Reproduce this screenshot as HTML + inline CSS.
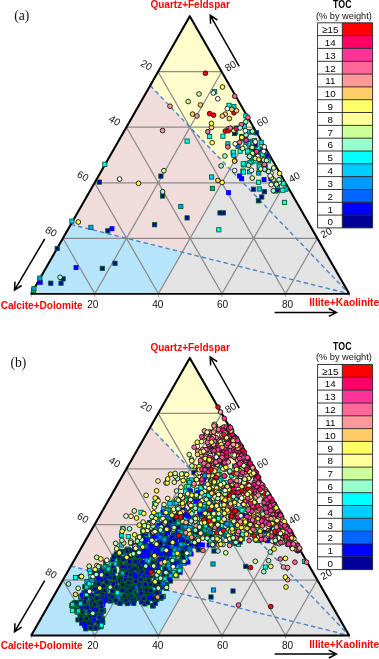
<!DOCTYPE html>
<html><head><meta charset="utf-8"><title>Ternary TOC</title>
<style>
html,body{margin:0;padding:0;background:#fff}
svg{display:block}
text{font-family:"Liberation Sans",sans-serif}
.t{font-size:10.1px;fill:#111;text-anchor:middle}
.r{font-size:10.4px;font-weight:bold;fill:#f00;text-anchor:middle}
.lt{font-size:10.4px;font-weight:bold;fill:#000;text-anchor:middle}
.ls{font-size:9.4px;fill:#111;text-anchor:middle}
.l{font-size:9.8px;fill:#000;text-anchor:middle}
.p{font-family:"Liberation Serif",serif;font-size:13.6px;fill:#111}
.c{stroke:#151515;stroke-width:.9}
.s{stroke:#00602a;stroke-width:.9}
</style></head><body>
<svg width="379" height="659" viewBox="0 0 379 659">
<rect width="379" height="659" fill="#fff"/>
<text class="p" x="14.2" y="20.3">(a)</text>
<g>
<polygon fill="#FFFDCC" points="189.8,16.2 150.2,85.6 229.8,168.9 253.6,127.2"/>
<polygon fill="#F0DCDA" points="150.2,85.6 229.8,168.9 182.2,252.2 70.8,224.4"/>
<polygon fill="#B6E4FA" points="70.8,224.4 182.2,252.2 158.4,293.8 31.2,293.8"/>
<polygon fill="#E3E3E3" points="253.6,127.2 349.2,293.8 158.4,293.8"/>
<path d="M62.9 238.3L317.3 238.3M285.6 293.8L158.1 71.7M94.8 293.8L221.7 71.7M94.6 182.8L285.4 182.8M222 293.8L126.4 127.2M158.4 293.8L253.6 127.2M126.4 127.2L253.6 127.2M158.4 293.8L94.6 182.8M222 293.8L285.4 182.8M158.1 71.7L221.7 71.7M94.8 293.8L62.9 238.3M285.6 293.8L317.3 238.3" stroke="#8a8a8a" stroke-width="1.25" fill="none"/>
<path d="M150.2 85.6L349.2 293.8M70.8 224.4L349.2 293.8" stroke="#4a86c8" stroke-width="1.4" stroke-dasharray="4.5 3" fill="none"/>
<path d="M31.2 293.8v3M94.8 293.8v3M158.4 293.8v3M222 293.8v3M285.6 293.8v3M349.2 293.8v3" stroke="#888" stroke-width="0.8" fill="none"/>
<path d="M30.7 293.8L349.7 293.8" stroke="#000" stroke-width="1.8" fill="none"/>
<path d="M31.2 293.8L189.8 16.2L349.2 293.8" stroke="#000" stroke-width="2.1" stroke-linejoin="round" fill="none"/>
<text class="t" x="146.3" y="68.4" transform="rotate(30 146.3 65.1)">20</text>
<text class="t" x="114.6" y="123.9" transform="rotate(30 114.6 120.6)">40</text>
<text class="t" x="82.8" y="179.5" transform="rotate(30 82.8 176.2)">60</text>
<text class="t" x="51.1" y="235" transform="rotate(30 51.1 231.7)">80</text>
<text class="t" x="230.7" y="69.5" transform="rotate(-30 230.7 66.2)">80</text>
<text class="t" x="262.6" y="125" transform="rotate(-30 262.6 121.7)">60</text>
<text class="t" x="294.4" y="180.6" transform="rotate(-30 294.4 177.3)">40</text>
<text class="t" x="326.3" y="236.1" transform="rotate(-30 326.3 232.8)">20</text>
<text class="t" x="92.8" y="307.5">20</text>
<text class="t" x="157.8" y="307.5">40</text>
<text class="t" x="222.6" y="307.5">60</text>
<text class="t" x="287.6" y="307.5">80</text>
<text class="r" x="190.1" y="7.9" textLength="79.4" lengthAdjust="spacingAndGlyphs">Quartz+Feldspar</text>
<text class="r" x="41.7" y="308.8" textLength="82" lengthAdjust="spacingAndGlyphs">Calcite+Dolomite</text>
<text class="r" x="344.2" y="306.2" textLength="70" lengthAdjust="spacingAndGlyphs">Illite+Kaolinite</text>
<path d="M44.7 239L14.5 290.1M15 281.6L14.5 290.1L21.7 285.5M239.2 66.4L210.2 15.3M217.3 20L210.2 15.3L210.6 23.8M274.6 312.4L336.4 312.4M328.8 316.3L336.4 312.4L328.8 308.5" stroke="#000" stroke-width="1.5" fill="none" stroke-linejoin="miter"/>
<text class="lt" x="342.3" y="8.1" textLength="18.4" lengthAdjust="spacingAndGlyphs">TOC</text>
<text class="ls" x="343.9" y="18.8" textLength="56" lengthAdjust="spacingAndGlyphs">(% by weight)</text>
<rect x="317.6" y="22.8" width="24.7" height="205.1" fill="#fff"/>
<rect x="342.3" y="22.8" width="30.3" height="12.8" fill="#FF0000"/>
<text class="l" x="330.3" y="33">≥15</text>
<rect x="342.3" y="35.6" width="30.3" height="12.8" fill="#FF0066"/>
<text class="l" x="330.3" y="45.8">14</text>
<rect x="342.3" y="48.4" width="30.3" height="12.8" fill="#FF3399"/>
<text class="l" x="330.3" y="58.6">13</text>
<rect x="342.3" y="61.3" width="30.3" height="12.8" fill="#FF6699"/>
<text class="l" x="330.3" y="71.5">12</text>
<rect x="342.3" y="74.1" width="30.3" height="12.8" fill="#FF9999"/>
<text class="l" x="330.3" y="84.3">11</text>
<rect x="342.3" y="86.9" width="30.3" height="12.8" fill="#FFCC66"/>
<text class="l" x="330.3" y="97.1">10</text>
<rect x="342.3" y="99.7" width="30.3" height="12.8" fill="#FFFF66"/>
<text class="l" x="330.3" y="109.9">9</text>
<rect x="342.3" y="112.5" width="30.3" height="12.8" fill="#FFFF99"/>
<text class="l" x="330.3" y="122.8">8</text>
<rect x="342.3" y="125.4" width="30.3" height="12.8" fill="#CCFF99"/>
<text class="l" x="330.3" y="135.6">7</text>
<rect x="342.3" y="138.2" width="30.3" height="12.8" fill="#99FFCC"/>
<text class="l" x="330.3" y="148.4">6</text>
<rect x="342.3" y="151" width="30.3" height="12.8" fill="#00FFFF"/>
<text class="l" x="330.3" y="161.2">5</text>
<rect x="342.3" y="163.8" width="30.3" height="12.8" fill="#00CCFF"/>
<text class="l" x="330.3" y="174">4</text>
<rect x="342.3" y="176.6" width="30.3" height="12.8" fill="#0099FF"/>
<text class="l" x="330.3" y="186.9">3</text>
<rect x="342.3" y="189.5" width="30.3" height="12.8" fill="#0066FF"/>
<text class="l" x="330.3" y="199.7">2</text>
<rect x="342.3" y="202.3" width="30.3" height="12.8" fill="#0000FF"/>
<text class="l" x="330.3" y="212.5">1</text>
<rect x="342.3" y="215.1" width="30.3" height="12.8" fill="#000099"/>
<text class="l" x="330.3" y="225.3">0</text>
<path d="M317.6 22.8H372.6M317.6 35.6H372.6M317.6 48.4H372.6M317.6 61.3H372.6M317.6 74.1H372.6M317.6 86.9H372.6M317.6 99.7H372.6M317.6 112.5H372.6M317.6 125.4H372.6M317.6 138.2H372.6M317.6 151H372.6M317.6 163.8H372.6M317.6 176.6H372.6M317.6 189.5H372.6M317.6 202.3H372.6M317.6 215.1H372.6M317.6 227.9H372.6M317.6 22.8V227.9M342.3 22.8V227.9M372.6 22.8V227.9" stroke="#222" stroke-width="0.9" fill="none"/>
<rect x="253" y="158.4" width="4.2" height="4.2" fill="#00FFFF" class="s"/>
<rect x="243.9" y="161.4" width="4.2" height="4.2" fill="#00FFFF" class="s"/>
<rect x="261.2" y="159.6" width="4.2" height="4.2" fill="#000099" class="s"/>
<rect x="282.4" y="200.3" width="4.2" height="4.2" fill="#00FFFF" class="s"/>
<rect x="257.7" y="147.5" width="4.2" height="4.2" fill="#000099" class="s"/>
<rect x="257.1" y="162.1" width="4.2" height="4.2" fill="#00CCFF" class="s"/>
<rect x="263.9" y="153" width="4.2" height="4.2" fill="#00FFFF" class="s"/>
<rect x="160.5" y="193.9" width="4.2" height="4.2" fill="#000099" class="s"/>
<rect x="231.1" y="151" width="4.2" height="4.2" fill="#00FFFF" class="s"/>
<rect x="225.8" y="141.7" width="4.2" height="4.2" fill="#00CCFF" class="s"/>
<rect x="249.6" y="159.6" width="4.2" height="4.2" fill="#00FFFF" class="s"/>
<rect x="241.6" y="162.8" width="4.2" height="4.2" fill="#00FFFF" class="s"/>
<rect x="250.3" y="150.9" width="4.2" height="4.2" fill="#00FFFF" class="s"/>
<rect x="112.9" y="261.2" width="4.2" height="4.2" fill="#000099" class="s"/>
<rect x="37.8" y="279.9" width="4.9" height="4.9" fill="#0000FF"/>
<rect x="283.8" y="187" width="4.2" height="4.2" fill="#00CCFF" class="s"/>
<rect x="48.7" y="281.1" width="4.2" height="4.2" fill="#000099" class="s"/>
<rect x="102.7" y="162.2" width="4.2" height="4.2" fill="#00FFFF" class="s"/>
<rect x="262.3" y="189.6" width="4.2" height="4.2" fill="#000099" class="s"/>
<rect x="262.2" y="153.9" width="4.2" height="4.2" fill="#00FFFF" class="s"/>
<rect x="240.8" y="169" width="4.2" height="4.2" fill="#00CCFF" class="s"/>
<rect x="231.3" y="150.1" width="4.2" height="4.2" fill="#00FFFF" class="s"/>
<rect x="237.1" y="173.5" width="4.9" height="4.9" fill="#0000FF"/>
<rect x="185" y="215.8" width="4.2" height="4.2" fill="#000099" class="s"/>
<rect x="233.5" y="130.1" width="4.2" height="4.2" fill="#00CCFF" class="s"/>
<rect x="250.8" y="147.5" width="4.2" height="4.2" fill="#000099" class="s"/>
<rect x="256.6" y="170.9" width="4.2" height="4.2" fill="#0099FF" class="s"/>
<rect x="55.1" y="246.4" width="4.2" height="4.2" fill="#000099" class="s"/>
<rect x="252.6" y="154.5" width="4.2" height="4.2" fill="#0066FF" class="s"/>
<rect x="257.2" y="186.9" width="4.2" height="4.2" fill="#00CCFF" class="s"/>
<rect x="263.1" y="164.7" width="4.2" height="4.2" fill="#0066FF" class="s"/>
<rect x="88.8" y="225.3" width="4.2" height="4.2" fill="#0099FF" class="s"/>
<rect x="247.5" y="169.7" width="4.2" height="4.2" fill="#00CCFF" class="s"/>
<rect x="58.9" y="281.1" width="4.2" height="4.2" fill="#000099" class="s"/>
<rect x="260.7" y="160.3" width="4.2" height="4.2" fill="#00FFFF" class="s"/>
<rect x="221.3" y="210.8" width="4.2" height="4.2" fill="#000099" class="s"/>
<rect x="226.1" y="190.2" width="4.9" height="4.9" fill="#0000FF"/>
<rect x="268.7" y="176.3" width="4.2" height="4.2" fill="#00FFFF" class="s"/>
<rect x="247" y="139.2" width="4.2" height="4.2" fill="#0066FF" class="s"/>
<rect x="256.4" y="147.6" width="4.9" height="4.9" fill="#0000FF"/>
<rect x="256.4" y="180.1" width="4.2" height="4.2" fill="#00FFFF" class="s"/>
<rect x="226.9" y="103.3" width="4.2" height="4.2" fill="#00FFFF" class="s"/>
<rect x="252.4" y="138.5" width="4.2" height="4.2" fill="#00FFFF" class="s"/>
<rect x="31.4" y="288.4" width="4.2" height="4.2" fill="#00CCFF" class="s"/>
<rect x="231.7" y="153.3" width="4.2" height="4.2" fill="#00CCFF" class="s"/>
<rect x="251.1" y="150.9" width="4.2" height="4.2" fill="#000099" class="s"/>
<rect x="253.5" y="158.8" width="4.2" height="4.2" fill="#00FFFF" class="s"/>
<rect x="241.4" y="169.9" width="4.2" height="4.2" fill="#00FFFF" class="s"/>
<rect x="270.1" y="181.2" width="4.2" height="4.2" fill="#00FFFF" class="s"/>
<rect x="275.4" y="185.5" width="4.2" height="4.2" fill="#00FFFF" class="s"/>
<rect x="105.7" y="228.7" width="4.2" height="4.2" fill="#000099" class="s"/>
<rect x="266.4" y="158.7" width="4.2" height="4.2" fill="#00FFFF" class="s"/>
<rect x="243.2" y="136.8" width="4.2" height="4.2" fill="#000099" class="s"/>
<rect x="234.2" y="126" width="4.2" height="4.2" fill="#0066FF" class="s"/>
<rect x="97.2" y="180" width="4.2" height="4.2" fill="#000099" class="s"/>
<rect x="255.9" y="145.9" width="4.2" height="4.2" fill="#00FFFF" class="s"/>
<rect x="242.3" y="124.4" width="4.2" height="4.2" fill="#00CCFF" class="s"/>
<rect x="243.7" y="113.9" width="4.2" height="4.2" fill="#00FFFF" class="s"/>
<rect x="247.8" y="144.6" width="4.2" height="4.2" fill="#00CCFF" class="s"/>
<rect x="232.4" y="131.4" width="4.2" height="4.2" fill="#000099" class="s"/>
<rect x="239.7" y="134.3" width="4.2" height="4.2" fill="#000099" class="s"/>
<rect x="231.8" y="104.6" width="4.2" height="4.2" fill="#00CCFF" class="s"/>
<rect x="238" y="149.1" width="4.2" height="4.2" fill="#00FFFF" class="s"/>
<rect x="31.8" y="286.6" width="4.2" height="4.2" fill="#0099FF" class="s"/>
<rect x="254.5" y="130.7" width="4.2" height="4.2" fill="#000099" class="s"/>
<rect x="268.8" y="176.1" width="4.9" height="4.9" fill="#0000FF"/>
<rect x="209.5" y="174.9" width="4.2" height="4.2" fill="#00CCFF" class="s"/>
<rect x="69.8" y="219" width="4.2" height="4.2" fill="#00CCFF" class="s"/>
<rect x="259" y="156.2" width="4.2" height="4.2" fill="#00FFFF" class="s"/>
<rect x="217.9" y="210.8" width="4.2" height="4.2" fill="#000099" class="s"/>
<rect x="257.3" y="167.3" width="4.2" height="4.2" fill="#00FFFF" class="s"/>
<rect x="61" y="276.8" width="4.2" height="4.2" fill="#000099" class="s"/>
<rect x="239.2" y="176.2" width="4.9" height="4.9" fill="#0000FF"/>
<rect x="267.5" y="169.2" width="4.2" height="4.2" fill="#00FFFF" class="s"/>
<rect x="261.6" y="177.1" width="4.9" height="4.9" fill="#0000FF"/>
<rect x="210.3" y="186.3" width="4.2" height="4.2" fill="#0099FF" class="s"/>
<rect x="247.1" y="149" width="4.2" height="4.2" fill="#00FFFF" class="s"/>
<rect x="152.5" y="222.6" width="4.2" height="4.2" fill="#000099" class="s"/>
<rect x="281.1" y="181.4" width="4.2" height="4.2" fill="#00FFFF" class="s"/>
<rect x="100.2" y="266.3" width="4.2" height="4.2" fill="#000099" class="s"/>
<rect x="259.1" y="158.6" width="4.2" height="4.2" fill="#000099" class="s"/>
<rect x="247.9" y="160.6" width="4.2" height="4.2" fill="#00CCFF" class="s"/>
<rect x="37.7" y="276" width="4.2" height="4.2" fill="#0099FF" class="s"/>
<rect x="239.7" y="136.7" width="4.2" height="4.2" fill="#0099FF" class="s"/>
<rect x="273.3" y="188.9" width="4.2" height="4.2" fill="#00FFFF" class="s"/>
<rect x="262.4" y="158.5" width="4.2" height="4.2" fill="#00FFFF" class="s"/>
<rect x="274.2" y="181.8" width="4.2" height="4.2" fill="#00FFFF" class="s"/>
<rect x="257.2" y="164.7" width="4.2" height="4.2" fill="#00FFFF" class="s"/>
<rect x="178.7" y="204.4" width="4.2" height="4.2" fill="#0099FF" class="s"/>
<rect x="275.4" y="188.1" width="4.2" height="4.2" fill="#000099" class="s"/>
<rect x="73.6" y="265.1" width="4.9" height="4.9" fill="#0000FF"/>
<rect x="265.4" y="153.3" width="4.2" height="4.2" fill="#000099" class="s"/>
<rect x="256.4" y="198.7" width="4.2" height="4.2" fill="#000099" class="s"/>
<rect x="245.4" y="150.1" width="4.2" height="4.2" fill="#00CCFF" class="s"/>
<rect x="109.5" y="226.2" width="4.9" height="4.9" fill="#0000FF"/>
<rect x="253.3" y="142.9" width="4.2" height="4.2" fill="#000099" class="s"/>
<rect x="216.7" y="227.7" width="4.2" height="4.2" fill="#00FFFF" class="s"/>
<rect x="246.4" y="141.7" width="4.2" height="4.2" fill="#00FFFF" class="s"/>
<rect x="261.2" y="151.2" width="4.2" height="4.2" fill="#00FFFF" class="s"/>
<rect x="259.6" y="194.9" width="4.2" height="4.2" fill="#000099" class="s"/>
<rect x="241.2" y="161.7" width="4.2" height="4.2" fill="#00FFFF" class="s"/>
<rect x="255.9" y="153.3" width="4.2" height="4.2" fill="#00FFFF" class="s"/>
<rect x="259.1" y="140.2" width="4.2" height="4.2" fill="#00CCFF" class="s"/>
<rect x="260.1" y="152.1" width="4.2" height="4.2" fill="#00FFFF" class="s"/>
<rect x="220.8" y="134.1" width="4.2" height="4.2" fill="#00FFFF" class="s"/>
<rect x="185" y="139" width="4.2" height="4.2" fill="#00FFFF" class="s"/>
<rect x="207.4" y="134.3" width="4.2" height="4.2" fill="#00FFFF" class="s"/>
<rect x="245.5" y="149" width="4.2" height="4.2" fill="#00FFFF" class="s"/>
<rect x="235.9" y="144.2" width="4.2" height="4.2" fill="#0066FF" class="s"/>
<rect x="250.7" y="130.1" width="4.2" height="4.2" fill="#00FFFF" class="s"/>
<rect x="212.5" y="89.6" width="4.2" height="4.2" fill="#00CCFF" class="s"/>
<rect x="256.3" y="154" width="4.2" height="4.2" fill="#00FFFF" class="s"/>
<rect x="158.8" y="174" width="4.2" height="4.2" fill="#000099" class="s"/>
<rect x="249.3" y="153.9" width="4.2" height="4.2" fill="#00FFFF" class="s"/>
<rect x="251.3" y="187.1" width="4.2" height="4.2" fill="#000099" class="s"/>
<rect x="280.7" y="188.1" width="4.2" height="4.2" fill="#00FFFF" class="s"/>
<rect x="243.9" y="140.1" width="4.2" height="4.2" fill="#0099FF" class="s"/>
<rect x="245.3" y="129.6" width="4.2" height="4.2" fill="#00CCFF" class="s"/>
<circle cx="222.5" cy="87" r="2.35" fill="#FFFF3C" class="c"/>
<circle cx="225.3" cy="131.1" r="2.35" fill="#FF0000" class="c"/>
<circle cx="245.8" cy="121.8" r="2.35" fill="#99FFCC" class="c"/>
<circle cx="263.8" cy="160" r="2.35" fill="#CCFF99" class="c"/>
<circle cx="273.3" cy="179.7" r="2.35" fill="#CCFF99" class="c"/>
<circle cx="263.7" cy="151.3" r="2.35" fill="#fff" class="c"/>
<circle cx="242.6" cy="148.4" r="2.35" fill="#CCFF99" class="c"/>
<circle cx="249.4" cy="156.5" r="2.35" fill="#99FFCC" class="c"/>
<circle cx="271.1" cy="173.2" r="2.35" fill="#fff" class="c"/>
<circle cx="257.8" cy="156.3" r="2.35" fill="#fff" class="c"/>
<circle cx="192.5" cy="114.1" r="2.35" fill="#FFCC66" class="c"/>
<circle cx="78.3" cy="222" r="2.35" fill="#FFFF3C" class="c"/>
<circle cx="235.2" cy="143.8" r="2.35" fill="#fff" class="c"/>
<circle cx="234.8" cy="160.7" r="2.35" fill="#FFCC66" class="c"/>
<circle cx="255.3" cy="141.9" r="2.35" fill="#fff" class="c"/>
<circle cx="200.4" cy="104.9" r="2.35" fill="#FFCC66" class="c"/>
<circle cx="234.6" cy="161.1" r="2.35" fill="#FFCC66" class="c"/>
<circle cx="251.5" cy="170.3" r="2.35" fill="#fff" class="c"/>
<circle cx="239.7" cy="142.3" r="2.35" fill="#FF6699" class="c"/>
<circle cx="271.2" cy="184.7" r="2.35" fill="#fff" class="c"/>
<circle cx="255.3" cy="158.5" r="2.35" fill="#CCFF99" class="c"/>
<circle cx="266.6" cy="160.5" r="2.35" fill="#99FFCC" class="c"/>
<circle cx="252.4" cy="131.3" r="2.35" fill="#99FFCC" class="c"/>
<circle cx="217.8" cy="98.8" r="2.35" fill="#fff" class="c"/>
<circle cx="241.3" cy="124.7" r="2.35" fill="#FF6699" class="c"/>
<circle cx="188.2" cy="101.5" r="2.35" fill="#CCFF99" class="c"/>
<circle cx="199" cy="94" r="2.35" fill="#CCFF99" class="c"/>
<circle cx="251.7" cy="147.6" r="2.35" fill="#CCFF99" class="c"/>
<circle cx="225.2" cy="114.1" r="2.35" fill="#FFCC66" class="c"/>
<circle cx="209.6" cy="113.6" r="2.35" fill="#FF0000" class="c"/>
<circle cx="119.6" cy="179.1" r="2.35" fill="#fff" class="c"/>
<circle cx="222.3" cy="116" r="2.35" fill="#FFCC66" class="c"/>
<circle cx="247.9" cy="117.3" r="2.35" fill="#FF6699" class="c"/>
<circle cx="162.6" cy="191.8" r="2.35" fill="#99FFCC" class="c"/>
<circle cx="248.6" cy="165.3" r="2.35" fill="#99FFCC" class="c"/>
<circle cx="246" cy="134.9" r="2.35" fill="#99FFCC" class="c"/>
<circle cx="228.5" cy="128.8" r="2.35" fill="#99FFCC" class="c"/>
<circle cx="241.8" cy="137.4" r="2.35" fill="#FFFF3C" class="c"/>
<circle cx="258.8" cy="159.4" r="2.35" fill="#FFCC66" class="c"/>
<circle cx="234.6" cy="170.6" r="2.35" fill="#fff" class="c"/>
<circle cx="233.8" cy="130.5" r="2.35" fill="#FFFF3C" class="c"/>
<circle cx="273.7" cy="168" r="2.35" fill="#CCFF99" class="c"/>
<circle cx="252.4" cy="153.4" r="2.35" fill="#CCFF99" class="c"/>
<circle cx="279.4" cy="182.1" r="2.35" fill="#fff" class="c"/>
<circle cx="163.9" cy="170.7" r="2.35" fill="#CCFF99" class="c"/>
<circle cx="249.6" cy="156.4" r="2.35" fill="#99FFCC" class="c"/>
<circle cx="229.4" cy="118.6" r="2.35" fill="#FFCC66" class="c"/>
<circle cx="234.7" cy="96.2" r="2.35" fill="#FF6699" class="c"/>
<circle cx="213.6" cy="115.2" r="2.35" fill="#FF0000" class="c"/>
<circle cx="212.2" cy="142.7" r="2.35" fill="#FFFF3C" class="c"/>
<circle cx="224.9" cy="156" r="2.35" fill="#99FFCC" class="c"/>
<circle cx="222.1" cy="182.5" r="2.35" fill="#FFFF3C" class="c"/>
<circle cx="268.4" cy="171.5" r="2.35" fill="#99FFCC" class="c"/>
<circle cx="252.2" cy="147.4" r="2.35" fill="#CCFF99" class="c"/>
<circle cx="236.3" cy="128.6" r="2.35" fill="#FF0066" class="c"/>
<circle cx="221.1" cy="165.9" r="2.35" fill="#99FFCC" class="c"/>
<circle cx="211.5" cy="127.5" r="2.35" fill="#FFCC66" class="c"/>
<circle cx="138.5" cy="183.3" r="2.35" fill="#FFFF3C" class="c"/>
<circle cx="233.9" cy="112.8" r="2.35" fill="#FF0000" class="c"/>
<circle cx="227.3" cy="108.6" r="2.35" fill="#fff" class="c"/>
<circle cx="264.8" cy="169.6" r="2.35" fill="#fff" class="c"/>
<circle cx="245.4" cy="130.7" r="2.35" fill="#fff" class="c"/>
<circle cx="231.8" cy="109.4" r="2.35" fill="#FFCC66" class="c"/>
<circle cx="273.3" cy="190.7" r="2.35" fill="#99FFCC" class="c"/>
<circle cx="264.4" cy="146.9" r="2.35" fill="#fff" class="c"/>
<circle cx="279" cy="179.7" r="2.35" fill="#99FFCC" class="c"/>
<circle cx="240.1" cy="127.9" r="2.35" fill="#99FFCC" class="c"/>
<circle cx="162.6" cy="130.6" r="2.35" fill="#FF9999" class="c"/>
<circle cx="236.5" cy="110.7" r="2.35" fill="#FFCC66" class="c"/>
<circle cx="211.5" cy="123.4" r="2.35" fill="#FFFF3C" class="c"/>
<circle cx="256.6" cy="151.5" r="2.35" fill="#FF3399" class="c"/>
<circle cx="197" cy="116" r="2.35" fill="#FF9999" class="c"/>
<circle cx="228.5" cy="130.7" r="2.35" fill="#FF0000" class="c"/>
<circle cx="213.3" cy="93" r="2.35" fill="#fff" class="c"/>
<circle cx="264.5" cy="169.1" r="2.35" fill="#99FFCC" class="c"/>
<circle cx="271.4" cy="177.7" r="2.35" fill="#FFFF3C" class="c"/>
<circle cx="205.4" cy="73.2" r="2.35" fill="#FF0000" class="c"/>
<circle cx="227.9" cy="146.9" r="2.35" fill="#FF6699" class="c"/>
<circle cx="270.1" cy="175.9" r="2.35" fill="#fff" class="c"/>
<circle cx="246" cy="140.2" r="2.35" fill="#FF3399" class="c"/>
<circle cx="60.1" cy="277.3" r="2.35" fill="#99FFCC" class="c"/>
<circle cx="260.6" cy="168.9" r="2.35" fill="#CCFF99" class="c"/>
<circle cx="276.5" cy="184.3" r="2.35" fill="#CCFF99" class="c"/>
<circle cx="217.9" cy="180.4" r="2.35" fill="#FFCC66" class="c"/>
<circle cx="207.8" cy="131.7" r="2.35" fill="#FF6699" class="c"/>
<circle cx="252.2" cy="178" r="2.35" fill="#CCFF99" class="c"/>
<circle cx="230.3" cy="128.1" r="2.35" fill="#FF6699" class="c"/>
<circle cx="264.4" cy="164.5" r="2.35" fill="#FF6699" class="c"/>
<circle cx="170" cy="106.2" r="2.35" fill="#FF9999" class="c"/>
<circle cx="279.6" cy="173.4" r="2.35" fill="#FFFF3C" class="c"/>
</g>
<text class="p" x="10.4" y="366.7">(b)</text>
<g transform="translate(0 341.7)">
<polygon fill="#FFFDCC" points="189.8,16.2 150.2,85.6 229.8,168.9 253.6,127.2"/>
<polygon fill="#F0DCDA" points="150.2,85.6 229.8,168.9 182.2,252.2 70.8,224.4"/>
<polygon fill="#B6E4FA" points="70.8,224.4 182.2,252.2 158.4,293.8 31.2,293.8"/>
<polygon fill="#E3E3E3" points="253.6,127.2 349.2,293.8 158.4,293.8"/>
<path d="M62.9 238.3L317.3 238.3M285.6 293.8L158.1 71.7M94.8 293.8L221.7 71.7M94.6 182.8L285.4 182.8M222 293.8L126.4 127.2M158.4 293.8L253.6 127.2M126.4 127.2L253.6 127.2M158.4 293.8L94.6 182.8M222 293.8L285.4 182.8M158.1 71.7L221.7 71.7M94.8 293.8L62.9 238.3M285.6 293.8L317.3 238.3" stroke="#8a8a8a" stroke-width="1.25" fill="none"/>
<path d="M150.2 85.6L349.2 293.8M70.8 224.4L349.2 293.8" stroke="#4a86c8" stroke-width="1.4" stroke-dasharray="4.5 3" fill="none"/>
<path d="M31.2 293.8v3M94.8 293.8v3M158.4 293.8v3M222 293.8v3M285.6 293.8v3M349.2 293.8v3" stroke="#888" stroke-width="0.8" fill="none"/>
<path d="M30.7 293.8L349.7 293.8" stroke="#000" stroke-width="1.8" fill="none"/>
<path d="M31.2 293.8L189.8 16.2L349.2 293.8" stroke="#000" stroke-width="2.1" stroke-linejoin="round" fill="none"/>
<text class="t" x="146.3" y="68.4" transform="rotate(30 146.3 65.1)">20</text>
<text class="t" x="114.6" y="123.9" transform="rotate(30 114.6 120.6)">40</text>
<text class="t" x="82.8" y="179.5" transform="rotate(30 82.8 176.2)">60</text>
<text class="t" x="51.1" y="235" transform="rotate(30 51.1 231.7)">80</text>
<text class="t" x="230.7" y="69.5" transform="rotate(-30 230.7 66.2)">80</text>
<text class="t" x="262.6" y="125" transform="rotate(-30 262.6 121.7)">60</text>
<text class="t" x="294.4" y="180.6" transform="rotate(-30 294.4 177.3)">40</text>
<text class="t" x="326.3" y="236.1" transform="rotate(-30 326.3 232.8)">20</text>
<text class="t" x="92.8" y="307.5">20</text>
<text class="t" x="157.8" y="307.5">40</text>
<text class="t" x="222.6" y="307.5">60</text>
<text class="t" x="287.6" y="307.5">80</text>
<text class="r" x="190.1" y="8.8" textLength="79.4" lengthAdjust="spacingAndGlyphs">Quartz+Feldspar</text>
<text class="r" x="41.7" y="307.7" textLength="82" lengthAdjust="spacingAndGlyphs">Calcite+Dolomite</text>
<text class="r" x="344.2" y="306.2" textLength="70" lengthAdjust="spacingAndGlyphs">Illite+Kaolinite</text>
<path d="M44.7 239L14.5 290.1M15 281.6L14.5 290.1L21.7 285.5M239.2 66.4L210.2 15.3M217.3 20L210.2 15.3L210.6 23.8M274.6 312.4L336.4 312.4M328.8 316.3L336.4 312.4L328.8 308.5" stroke="#000" stroke-width="1.5" fill="none" stroke-linejoin="miter"/>
<text class="lt" x="342.3" y="8.1" textLength="18.4" lengthAdjust="spacingAndGlyphs">TOC</text>
<text class="ls" x="343.9" y="18.8" textLength="56" lengthAdjust="spacingAndGlyphs">(% by weight)</text>
<rect x="317.6" y="22.8" width="24.7" height="205.1" fill="#fff"/>
<rect x="342.3" y="22.8" width="30.3" height="12.8" fill="#FF0000"/>
<text class="l" x="330.3" y="33">≥15</text>
<rect x="342.3" y="35.6" width="30.3" height="12.8" fill="#FF0066"/>
<text class="l" x="330.3" y="45.8">14</text>
<rect x="342.3" y="48.4" width="30.3" height="12.8" fill="#FF3399"/>
<text class="l" x="330.3" y="58.6">13</text>
<rect x="342.3" y="61.3" width="30.3" height="12.8" fill="#FF6699"/>
<text class="l" x="330.3" y="71.5">12</text>
<rect x="342.3" y="74.1" width="30.3" height="12.8" fill="#FF9999"/>
<text class="l" x="330.3" y="84.3">11</text>
<rect x="342.3" y="86.9" width="30.3" height="12.8" fill="#FFCC66"/>
<text class="l" x="330.3" y="97.1">10</text>
<rect x="342.3" y="99.7" width="30.3" height="12.8" fill="#FFFF66"/>
<text class="l" x="330.3" y="109.9">9</text>
<rect x="342.3" y="112.5" width="30.3" height="12.8" fill="#FFFF99"/>
<text class="l" x="330.3" y="122.8">8</text>
<rect x="342.3" y="125.4" width="30.3" height="12.8" fill="#CCFF99"/>
<text class="l" x="330.3" y="135.6">7</text>
<rect x="342.3" y="138.2" width="30.3" height="12.8" fill="#99FFCC"/>
<text class="l" x="330.3" y="148.4">6</text>
<rect x="342.3" y="151" width="30.3" height="12.8" fill="#00FFFF"/>
<text class="l" x="330.3" y="161.2">5</text>
<rect x="342.3" y="163.8" width="30.3" height="12.8" fill="#00CCFF"/>
<text class="l" x="330.3" y="174">4</text>
<rect x="342.3" y="176.6" width="30.3" height="12.8" fill="#0099FF"/>
<text class="l" x="330.3" y="186.9">3</text>
<rect x="342.3" y="189.5" width="30.3" height="12.8" fill="#0066FF"/>
<text class="l" x="330.3" y="199.7">2</text>
<rect x="342.3" y="202.3" width="30.3" height="12.8" fill="#0000FF"/>
<text class="l" x="330.3" y="212.5">1</text>
<rect x="342.3" y="215.1" width="30.3" height="12.8" fill="#000099"/>
<text class="l" x="330.3" y="225.3">0</text>
<path d="M317.6 22.8H372.6M317.6 35.6H372.6M317.6 48.4H372.6M317.6 61.3H372.6M317.6 74.1H372.6M317.6 86.9H372.6M317.6 99.7H372.6M317.6 112.5H372.6M317.6 125.4H372.6M317.6 138.2H372.6M317.6 151H372.6M317.6 163.8H372.6M317.6 176.6H372.6M317.6 189.5H372.6M317.6 202.3H372.6M317.6 215.1H372.6M317.6 227.9H372.6M317.6 22.8V227.9M342.3 22.8V227.9M372.6 22.8V227.9" stroke="#222" stroke-width="0.9" fill="none"/>
<path d="M230.4 87L301.4 210.5" stroke="#0a6a2e" stroke-width="2.2" fill="none"/>
<rect x="119" y="252.8" width="4.2" height="4.2" fill="#000099" class="s"/>
<rect x="217.9" y="164.7" width="4.2" height="4.2" fill="#00CCFF" class="s"/>
<rect x="124.6" y="213.3" width="4.2" height="4.2" fill="#000099" class="s"/>
<rect x="136.8" y="243" width="4.9" height="4.9" fill="#0000FF"/>
<rect x="129" y="255.4" width="4.2" height="4.2" fill="#000099" class="s"/>
<rect x="118.4" y="220.4" width="4.2" height="4.2" fill="#000099" class="s"/>
<rect x="150.9" y="191.7" width="4.2" height="4.2" fill="#0066FF" class="s"/>
<rect x="155.2" y="205.1" width="4.9" height="4.9" fill="#0000FF"/>
<rect x="143.8" y="190.5" width="4.2" height="4.2" fill="#000099" class="s"/>
<rect x="212.3" y="190.9" width="4.2" height="4.2" fill="#00CCFF" class="s"/>
<rect x="215.1" y="187.1" width="4.2" height="4.2" fill="#00FFFF" class="s"/>
<rect x="127" y="245.7" width="4.2" height="4.2" fill="#000099" class="s"/>
<rect x="136.5" y="254.6" width="4.2" height="4.2" fill="#000099" class="s"/>
<rect x="240.3" y="195" width="4.2" height="4.2" fill="#0099FF" class="s"/>
<rect x="131.3" y="232.6" width="4.2" height="4.2" fill="#000099" class="s"/>
<rect x="166.7" y="227.5" width="4.2" height="4.2" fill="#000099" class="s"/>
<rect x="78.5" y="252.6" width="4.2" height="4.2" fill="#0099FF" class="s"/>
<rect x="118.9" y="253.6" width="4.2" height="4.2" fill="#00FFFF" class="s"/>
<rect x="197.8" y="128.3" width="4.9" height="4.9" fill="#0000FF"/>
<rect x="119.8" y="207.9" width="4.2" height="4.2" fill="#000099" class="s"/>
<rect x="135.8" y="216.8" width="4.2" height="4.2" fill="#000099" class="s"/>
<rect x="181.8" y="191.8" width="4.2" height="4.2" fill="#000099" class="s"/>
<rect x="201.6" y="162.6" width="4.2" height="4.2" fill="#00FFFF" class="s"/>
<rect x="146.6" y="233.5" width="4.2" height="4.2" fill="#000099" class="s"/>
<rect x="140.1" y="193.1" width="4.2" height="4.2" fill="#00FFFF" class="s"/>
<rect x="160.8" y="231.6" width="4.2" height="4.2" fill="#000099" class="s"/>
<rect x="143.2" y="200.7" width="4.9" height="4.9" fill="#0000FF"/>
<rect x="195.9" y="180" width="4.2" height="4.2" fill="#000099" class="s"/>
<rect x="181.1" y="171.5" width="4.2" height="4.2" fill="#00FFFF" class="s"/>
<rect x="138.6" y="239.4" width="4.2" height="4.2" fill="#000099" class="s"/>
<rect x="162.7" y="203.7" width="4.9" height="4.9" fill="#0000FF"/>
<rect x="87.5" y="247.6" width="4.9" height="4.9" fill="#0000FF"/>
<rect x="82.7" y="243" width="4.2" height="4.2" fill="#000099" class="s"/>
<rect x="124.8" y="221.7" width="4.2" height="4.2" fill="#000099" class="s"/>
<rect x="153" y="243.9" width="4.2" height="4.2" fill="#000099" class="s"/>
<rect x="158.3" y="238.5" width="4.2" height="4.2" fill="#0099FF" class="s"/>
<rect x="107.2" y="241.1" width="4.2" height="4.2" fill="#000099" class="s"/>
<rect x="159.2" y="212.3" width="4.2" height="4.2" fill="#0099FF" class="s"/>
<rect x="131" y="211.1" width="4.2" height="4.2" fill="#000099" class="s"/>
<rect x="164.6" y="240.5" width="4.2" height="4.2" fill="#000099" class="s"/>
<rect x="199.5" y="142.4" width="4.2" height="4.2" fill="#00CCFF" class="s"/>
<rect x="203" y="131" width="4.2" height="4.2" fill="#0066FF" class="s"/>
<rect x="196.6" y="146.3" width="4.2" height="4.2" fill="#00FFFF" class="s"/>
<rect x="91.3" y="257.4" width="4.2" height="4.2" fill="#0099FF" class="s"/>
<rect x="217.8" y="130.7" width="4.2" height="4.2" fill="#0099FF" class="s"/>
<rect x="149.1" y="247.9" width="4.2" height="4.2" fill="#000099" class="s"/>
<rect x="102.6" y="250.3" width="4.2" height="4.2" fill="#000099" class="s"/>
<rect x="120.7" y="207.4" width="4.9" height="4.9" fill="#0000FF"/>
<rect x="129.4" y="235.5" width="4.2" height="4.2" fill="#000099" class="s"/>
<rect x="140.8" y="248.5" width="4.2" height="4.2" fill="#00CCFF" class="s"/>
<rect x="101.4" y="235.7" width="4.2" height="4.2" fill="#000099" class="s"/>
<rect x="131.5" y="208.4" width="4.2" height="4.2" fill="#00FFFF" class="s"/>
<rect x="202.8" y="133.5" width="4.2" height="4.2" fill="#0066FF" class="s"/>
<rect x="113.3" y="214.5" width="4.9" height="4.9" fill="#0000FF"/>
<rect x="214.9" y="167.4" width="4.2" height="4.2" fill="#0066FF" class="s"/>
<rect x="144.6" y="221.7" width="4.9" height="4.9" fill="#0000FF"/>
<rect x="206" y="190.4" width="4.2" height="4.2" fill="#00CCFF" class="s"/>
<rect x="211.2" y="173" width="4.2" height="4.2" fill="#000099" class="s"/>
<rect x="186.5" y="136.8" width="4.2" height="4.2" fill="#00FFFF" class="s"/>
<rect x="231.3" y="148.5" width="4.2" height="4.2" fill="#00CCFF" class="s"/>
<rect x="109.8" y="224.2" width="4.9" height="4.9" fill="#0000FF"/>
<rect x="184.3" y="187" width="4.2" height="4.2" fill="#00FFFF" class="s"/>
<rect x="216.1" y="178.3" width="4.2" height="4.2" fill="#0099FF" class="s"/>
<rect x="95.9" y="279.4" width="4.2" height="4.2" fill="#000099" class="s"/>
<rect x="189.1" y="189.1" width="4.2" height="4.2" fill="#00FFFF" class="s"/>
<rect x="138.8" y="253.1" width="4.2" height="4.2" fill="#000099" class="s"/>
<rect x="178.2" y="193.7" width="4.2" height="4.2" fill="#000099" class="s"/>
<rect x="173.3" y="205.8" width="4.2" height="4.2" fill="#000099" class="s"/>
<rect x="165" y="194.3" width="4.2" height="4.2" fill="#0066FF" class="s"/>
<rect x="169" y="206" width="4.2" height="4.2" fill="#0099FF" class="s"/>
<rect x="153.4" y="184.8" width="4.2" height="4.2" fill="#0099FF" class="s"/>
<rect x="179.5" y="216.8" width="4.2" height="4.2" fill="#00CCFF" class="s"/>
<rect x="141.1" y="191.9" width="4.2" height="4.2" fill="#000099" class="s"/>
<rect x="94.3" y="232.4" width="4.2" height="4.2" fill="#000099" class="s"/>
<rect x="184.2" y="143.1" width="4.2" height="4.2" fill="#00FFFF" class="s"/>
<rect x="172.7" y="166.7" width="4.9" height="4.9" fill="#0000FF"/>
<rect x="78.6" y="258" width="4.2" height="4.2" fill="#000099" class="s"/>
<rect x="101.8" y="249.3" width="4.9" height="4.9" fill="#0000FF"/>
<rect x="205.2" y="179.7" width="4.2" height="4.2" fill="#00FFFF" class="s"/>
<rect x="199.7" y="137.5" width="4.2" height="4.2" fill="#0099FF" class="s"/>
<rect x="208.8" y="180" width="4.2" height="4.2" fill="#00CCFF" class="s"/>
<rect x="169.5" y="173.7" width="4.2" height="4.2" fill="#00CCFF" class="s"/>
<rect x="137.7" y="222.6" width="4.2" height="4.2" fill="#000099" class="s"/>
<rect x="89.8" y="228.9" width="4.2" height="4.2" fill="#000099" class="s"/>
<rect x="129.4" y="245.5" width="4.2" height="4.2" fill="#000099" class="s"/>
<rect x="125.6" y="226.5" width="4.2" height="4.2" fill="#000099" class="s"/>
<rect x="150.3" y="194.4" width="4.9" height="4.9" fill="#0000FF"/>
<rect x="95.5" y="264.9" width="4.2" height="4.2" fill="#000099" class="s"/>
<rect x="89.8" y="273" width="4.9" height="4.9" fill="#0000FF"/>
<rect x="183.7" y="196.5" width="4.2" height="4.2" fill="#00FFFF" class="s"/>
<rect x="137" y="224.9" width="4.2" height="4.2" fill="#0099FF" class="s"/>
<rect x="198.1" y="175.4" width="4.2" height="4.2" fill="#00CCFF" class="s"/>
<rect x="93.6" y="260.9" width="4.2" height="4.2" fill="#000099" class="s"/>
<rect x="214" y="176.6" width="4.9" height="4.9" fill="#0000FF"/>
<rect x="146.1" y="240.2" width="4.9" height="4.9" fill="#0000FF"/>
<rect x="92.1" y="272.9" width="4.2" height="4.2" fill="#000099" class="s"/>
<rect x="232.5" y="122.3" width="4.2" height="4.2" fill="#00CCFF" class="s"/>
<rect x="103.6" y="242.3" width="4.2" height="4.2" fill="#0099FF" class="s"/>
<rect x="108.9" y="229.8" width="4.2" height="4.2" fill="#000099" class="s"/>
<rect x="105.9" y="222.3" width="4.2" height="4.2" fill="#000099" class="s"/>
<rect x="129" y="219" width="4.2" height="4.2" fill="#000099" class="s"/>
<rect x="216.3" y="169.3" width="4.2" height="4.2" fill="#00FFFF" class="s"/>
<rect x="173" y="158.2" width="4.2" height="4.2" fill="#00FFFF" class="s"/>
<rect x="216.5" y="176.1" width="4.2" height="4.2" fill="#00CCFF" class="s"/>
<rect x="95.1" y="240.4" width="4.9" height="4.9" fill="#0000FF"/>
<rect x="231.2" y="184" width="4.2" height="4.2" fill="#00FFFF" class="s"/>
<rect x="156" y="215.8" width="4.2" height="4.2" fill="#000099" class="s"/>
<rect x="204.5" y="144.3" width="4.9" height="4.9" fill="#0000FF"/>
<rect x="153.9" y="234.4" width="4.2" height="4.2" fill="#000099" class="s"/>
<rect x="171.7" y="181" width="4.2" height="4.2" fill="#0066FF" class="s"/>
<rect x="188.6" y="209.8" width="4.9" height="4.9" fill="#0000FF"/>
<rect x="115.8" y="253.8" width="4.9" height="4.9" fill="#0000FF"/>
<rect x="87.1" y="279.3" width="4.2" height="4.2" fill="#00CCFF" class="s"/>
<rect x="233.5" y="193.9" width="4.2" height="4.2" fill="#000099" class="s"/>
<rect x="182.1" y="219.4" width="4.2" height="4.2" fill="#0099FF" class="s"/>
<rect x="70.4" y="266.8" width="4.2" height="4.2" fill="#00FFFF" class="s"/>
<rect x="144.5" y="211.3" width="4.2" height="4.2" fill="#0066FF" class="s"/>
<rect x="139.3" y="228.7" width="4.2" height="4.2" fill="#0099FF" class="s"/>
<rect x="118.2" y="231.1" width="4.2" height="4.2" fill="#000099" class="s"/>
<rect x="227.4" y="187.8" width="4.2" height="4.2" fill="#00CCFF" class="s"/>
<rect x="80.1" y="267.6" width="4.2" height="4.2" fill="#000099" class="s"/>
<rect x="100.7" y="236.1" width="4.2" height="4.2" fill="#000099" class="s"/>
<rect x="166.3" y="215.3" width="4.2" height="4.2" fill="#0099FF" class="s"/>
<rect x="89.7" y="271.7" width="4.2" height="4.2" fill="#000099" class="s"/>
<rect x="124.1" y="219.2" width="4.2" height="4.2" fill="#000099" class="s"/>
<rect x="112.7" y="212.3" width="4.2" height="4.2" fill="#000099" class="s"/>
<rect x="185.4" y="157.5" width="4.2" height="4.2" fill="#00FFFF" class="s"/>
<rect x="134" y="225" width="4.2" height="4.2" fill="#00CCFF" class="s"/>
<rect x="124.3" y="231.2" width="4.2" height="4.2" fill="#000099" class="s"/>
<rect x="97.9" y="240" width="4.2" height="4.2" fill="#000099" class="s"/>
<rect x="161.9" y="182.3" width="4.2" height="4.2" fill="#000099" class="s"/>
<rect x="203" y="166.5" width="4.2" height="4.2" fill="#000099" class="s"/>
<rect x="123.7" y="249" width="4.2" height="4.2" fill="#000099" class="s"/>
<rect x="144.1" y="229.1" width="4.2" height="4.2" fill="#000099" class="s"/>
<rect x="128.3" y="223.9" width="4.2" height="4.2" fill="#000099" class="s"/>
<rect x="140.6" y="187.2" width="4.2" height="4.2" fill="#00FFFF" class="s"/>
<rect x="151.2" y="262" width="4.2" height="4.2" fill="#0099FF" class="s"/>
<rect x="256.9" y="168.4" width="4.2" height="4.2" fill="#00FFFF" class="s"/>
<rect x="222.4" y="159" width="4.2" height="4.2" fill="#00FFFF" class="s"/>
<rect x="202.3" y="187.1" width="4.2" height="4.2" fill="#00CCFF" class="s"/>
<rect x="100.7" y="258.3" width="4.2" height="4.2" fill="#0066FF" class="s"/>
<rect x="125.1" y="241.1" width="4.2" height="4.2" fill="#000099" class="s"/>
<rect x="157.4" y="208.4" width="4.9" height="4.9" fill="#0000FF"/>
<rect x="174.2" y="207.5" width="4.2" height="4.2" fill="#00CCFF" class="s"/>
<rect x="167.3" y="213.4" width="4.2" height="4.2" fill="#000099" class="s"/>
<rect x="166.7" y="210.4" width="4.9" height="4.9" fill="#0000FF"/>
<rect x="137.2" y="242.2" width="4.9" height="4.9" fill="#0000FF"/>
<rect x="85.1" y="250.1" width="4.2" height="4.2" fill="#00FFFF" class="s"/>
<rect x="159.2" y="241.5" width="4.2" height="4.2" fill="#000099" class="s"/>
<rect x="208.3" y="183.9" width="4.2" height="4.2" fill="#000099" class="s"/>
<rect x="119.1" y="252.9" width="4.2" height="4.2" fill="#000099" class="s"/>
<rect x="127.7" y="211.5" width="4.2" height="4.2" fill="#00CCFF" class="s"/>
<rect x="174.2" y="186.3" width="4.9" height="4.9" fill="#0000FF"/>
<rect x="100.9" y="235.2" width="4.2" height="4.2" fill="#0066FF" class="s"/>
<rect x="106" y="254.1" width="4.2" height="4.2" fill="#000099" class="s"/>
<rect x="190.4" y="197.3" width="4.2" height="4.2" fill="#00FFFF" class="s"/>
<rect x="222.9" y="178.7" width="4.9" height="4.9" fill="#0000FF"/>
<rect x="204.4" y="175.8" width="4.2" height="4.2" fill="#00FFFF" class="s"/>
<rect x="197.9" y="179.5" width="4.2" height="4.2" fill="#0099FF" class="s"/>
<rect x="94.4" y="231.1" width="4.2" height="4.2" fill="#000099" class="s"/>
<rect x="82" y="248.7" width="4.2" height="4.2" fill="#000099" class="s"/>
<rect x="129.2" y="250.3" width="4.2" height="4.2" fill="#0066FF" class="s"/>
<rect x="196.5" y="161.1" width="4.9" height="4.9" fill="#0000FF"/>
<rect x="159.9" y="179.6" width="4.2" height="4.2" fill="#00CCFF" class="s"/>
<rect x="274.6" y="192.6" width="4.2" height="4.2" fill="#00FFFF" class="s"/>
<rect x="205.2" y="132" width="4.2" height="4.2" fill="#0099FF" class="s"/>
<rect x="83.2" y="275.6" width="4.2" height="4.2" fill="#000099" class="s"/>
<rect x="265" y="196.5" width="4.9" height="4.9" fill="#0000FF"/>
<rect x="182.7" y="191.2" width="4.2" height="4.2" fill="#000099" class="s"/>
<rect x="99.7" y="241.9" width="4.2" height="4.2" fill="#000099" class="s"/>
<rect x="231.3" y="154.9" width="4.2" height="4.2" fill="#00FFFF" class="s"/>
<rect x="169.3" y="211.5" width="4.2" height="4.2" fill="#0066FF" class="s"/>
<rect x="177.8" y="163.3" width="4.9" height="4.9" fill="#0000FF"/>
<rect x="142.3" y="230.1" width="4.2" height="4.2" fill="#000099" class="s"/>
<rect x="99.3" y="254" width="4.2" height="4.2" fill="#000099" class="s"/>
<rect x="144" y="242.9" width="4.2" height="4.2" fill="#000099" class="s"/>
<rect x="197.5" y="185.7" width="4.2" height="4.2" fill="#00CCFF" class="s"/>
<rect x="183.1" y="180" width="4.2" height="4.2" fill="#00CCFF" class="s"/>
<rect x="138.2" y="250.3" width="4.2" height="4.2" fill="#000099" class="s"/>
<rect x="89.2" y="264.9" width="4.2" height="4.2" fill="#0066FF" class="s"/>
<rect x="175.7" y="190.4" width="4.9" height="4.9" fill="#0000FF"/>
<rect x="205.8" y="153.8" width="4.9" height="4.9" fill="#0000FF"/>
<rect x="214.2" y="194.5" width="4.2" height="4.2" fill="#00FFFF" class="s"/>
<rect x="110.8" y="233.3" width="4.2" height="4.2" fill="#000099" class="s"/>
<rect x="171.4" y="231" width="4.9" height="4.9" fill="#0000FF"/>
<rect x="129.4" y="212.5" width="4.9" height="4.9" fill="#0000FF"/>
<rect x="183.1" y="212.3" width="4.2" height="4.2" fill="#00FFFF" class="s"/>
<rect x="205.7" y="191.6" width="4.2" height="4.2" fill="#00CCFF" class="s"/>
<rect x="190.8" y="190.8" width="4.2" height="4.2" fill="#00FFFF" class="s"/>
<rect x="255.2" y="186.1" width="4.2" height="4.2" fill="#00FFFF" class="s"/>
<rect x="174.1" y="159.4" width="4.2" height="4.2" fill="#00FFFF" class="s"/>
<rect x="236.2" y="194.3" width="4.2" height="4.2" fill="#000099" class="s"/>
<rect x="193.6" y="199.8" width="4.2" height="4.2" fill="#000099" class="s"/>
<rect x="179.7" y="185.5" width="4.9" height="4.9" fill="#0000FF"/>
<rect x="103.4" y="218.6" width="4.2" height="4.2" fill="#000099" class="s"/>
<rect x="204.7" y="183.2" width="4.2" height="4.2" fill="#00FFFF" class="s"/>
<rect x="150.5" y="262.1" width="4.2" height="4.2" fill="#000099" class="s"/>
<rect x="132.4" y="201.5" width="4.9" height="4.9" fill="#0000FF"/>
<rect x="196.3" y="193.3" width="4.2" height="4.2" fill="#0099FF" class="s"/>
<rect x="167.9" y="220.7" width="4.2" height="4.2" fill="#000099" class="s"/>
<rect x="200" y="174.5" width="4.9" height="4.9" fill="#0000FF"/>
<rect x="198.3" y="139.7" width="4.2" height="4.2" fill="#00FFFF" class="s"/>
<rect x="235.2" y="194.6" width="4.2" height="4.2" fill="#00CCFF" class="s"/>
<rect x="172.1" y="215.7" width="4.2" height="4.2" fill="#000099" class="s"/>
<rect x="125.3" y="205.6" width="4.2" height="4.2" fill="#000099" class="s"/>
<rect x="132.5" y="253.9" width="4.2" height="4.2" fill="#000099" class="s"/>
<rect x="221.4" y="173.8" width="4.9" height="4.9" fill="#0000FF"/>
<rect x="118.7" y="257.5" width="4.2" height="4.2" fill="#000099" class="s"/>
<rect x="229.3" y="131.7" width="4.2" height="4.2" fill="#00FFFF" class="s"/>
<rect x="113" y="214.6" width="4.9" height="4.9" fill="#0000FF"/>
<rect x="211.8" y="150.9" width="4.9" height="4.9" fill="#0000FF"/>
<rect x="88.2" y="229.4" width="4.2" height="4.2" fill="#00FFFF" class="s"/>
<rect x="183.3" y="173.9" width="4.2" height="4.2" fill="#00FFFF" class="s"/>
<rect x="111" y="252.5" width="4.2" height="4.2" fill="#000099" class="s"/>
<rect x="126.8" y="246.4" width="4.2" height="4.2" fill="#000099" class="s"/>
<rect x="81.6" y="258.7" width="4.2" height="4.2" fill="#000099" class="s"/>
<rect x="223.9" y="150.6" width="4.2" height="4.2" fill="#0099FF" class="s"/>
<rect x="234" y="129" width="4.2" height="4.2" fill="#00CCFF" class="s"/>
<rect x="118.4" y="207.5" width="4.2" height="4.2" fill="#000099" class="s"/>
<rect x="224.9" y="153.3" width="4.2" height="4.2" fill="#000099" class="s"/>
<rect x="155.8" y="227.3" width="4.9" height="4.9" fill="#0000FF"/>
<rect x="79.9" y="261.7" width="4.9" height="4.9" fill="#0000FF"/>
<rect x="95.2" y="258.7" width="4.2" height="4.2" fill="#000099" class="s"/>
<rect x="195.3" y="188.6" width="4.2" height="4.2" fill="#000099" class="s"/>
<rect x="157.3" y="241.4" width="4.2" height="4.2" fill="#00FFFF" class="s"/>
<rect x="192.9" y="196.3" width="4.2" height="4.2" fill="#0099FF" class="s"/>
<rect x="146.9" y="253.2" width="4.2" height="4.2" fill="#000099" class="s"/>
<rect x="78.4" y="265.4" width="4.2" height="4.2" fill="#000099" class="s"/>
<rect x="197" y="182.9" width="4.2" height="4.2" fill="#00CCFF" class="s"/>
<rect x="247.8" y="180.6" width="4.2" height="4.2" fill="#000099" class="s"/>
<rect x="101.5" y="266.8" width="4.2" height="4.2" fill="#000099" class="s"/>
<rect x="212.7" y="196.3" width="4.2" height="4.2" fill="#00FFFF" class="s"/>
<rect x="215.4" y="144.2" width="4.2" height="4.2" fill="#00CCFF" class="s"/>
<rect x="215.2" y="186.2" width="4.9" height="4.9" fill="#0000FF"/>
<rect x="127" y="235.7" width="4.2" height="4.2" fill="#000099" class="s"/>
<rect x="152.3" y="210.1" width="4.2" height="4.2" fill="#00FFFF" class="s"/>
<rect x="80.4" y="261" width="4.2" height="4.2" fill="#000099" class="s"/>
<rect x="183.8" y="178.7" width="4.9" height="4.9" fill="#0000FF"/>
<rect x="125.2" y="217.1" width="4.2" height="4.2" fill="#000099" class="s"/>
<rect x="133.8" y="218.6" width="4.2" height="4.2" fill="#0066FF" class="s"/>
<rect x="134.2" y="248.9" width="4.2" height="4.2" fill="#000099" class="s"/>
<rect x="274.6" y="196" width="4.2" height="4.2" fill="#000099" class="s"/>
<rect x="164.8" y="207" width="4.2" height="4.2" fill="#00CCFF" class="s"/>
<rect x="189.3" y="136.2" width="4.2" height="4.2" fill="#00CCFF" class="s"/>
<rect x="228.8" y="161.8" width="4.2" height="4.2" fill="#0099FF" class="s"/>
<rect x="145.3" y="226.3" width="4.2" height="4.2" fill="#000099" class="s"/>
<rect x="156.5" y="172.2" width="4.2" height="4.2" fill="#00CCFF" class="s"/>
<rect x="147.6" y="240.1" width="4.9" height="4.9" fill="#0000FF"/>
<rect x="194.7" y="184.8" width="4.2" height="4.2" fill="#00CCFF" class="s"/>
<rect x="227.6" y="196.4" width="4.2" height="4.2" fill="#0099FF" class="s"/>
<rect x="169.5" y="207.7" width="4.9" height="4.9" fill="#0000FF"/>
<rect x="168.4" y="237.2" width="4.2" height="4.2" fill="#000099" class="s"/>
<rect x="267.5" y="181.5" width="4.2" height="4.2" fill="#00CCFF" class="s"/>
<rect x="137" y="237.9" width="4.2" height="4.2" fill="#000099" class="s"/>
<rect x="221.3" y="145.3" width="4.2" height="4.2" fill="#00CCFF" class="s"/>
<rect x="118.5" y="235.8" width="4.2" height="4.2" fill="#000099" class="s"/>
<rect x="240.9" y="165.4" width="4.2" height="4.2" fill="#00CCFF" class="s"/>
<rect x="103.4" y="243.3" width="4.9" height="4.9" fill="#0000FF"/>
<rect x="215.6" y="166.9" width="4.2" height="4.2" fill="#0066FF" class="s"/>
<rect x="141.9" y="236.4" width="4.2" height="4.2" fill="#000099" class="s"/>
<rect x="133.4" y="206.6" width="4.2" height="4.2" fill="#000099" class="s"/>
<rect x="187.3" y="146.5" width="4.9" height="4.9" fill="#0000FF"/>
<rect x="154.1" y="202.5" width="4.9" height="4.9" fill="#0000FF"/>
<rect x="208.8" y="191.8" width="4.2" height="4.2" fill="#000099" class="s"/>
<rect x="163.7" y="222.5" width="4.2" height="4.2" fill="#000099" class="s"/>
<rect x="201.5" y="166.5" width="4.2" height="4.2" fill="#00FFFF" class="s"/>
<rect x="79.8" y="251" width="4.9" height="4.9" fill="#0000FF"/>
<rect x="146.5" y="202.2" width="4.2" height="4.2" fill="#000099" class="s"/>
<rect x="96.3" y="263.9" width="4.2" height="4.2" fill="#000099" class="s"/>
<rect x="229.5" y="149.3" width="4.2" height="4.2" fill="#00CCFF" class="s"/>
<rect x="164.7" y="227.1" width="4.2" height="4.2" fill="#00CCFF" class="s"/>
<rect x="125.1" y="249.9" width="4.2" height="4.2" fill="#000099" class="s"/>
<rect x="136.7" y="246.9" width="4.2" height="4.2" fill="#0099FF" class="s"/>
<rect x="204.3" y="154.5" width="4.9" height="4.9" fill="#0000FF"/>
<rect x="191.8" y="154" width="4.9" height="4.9" fill="#0000FF"/>
<rect x="143.9" y="194.3" width="4.2" height="4.2" fill="#00CCFF" class="s"/>
<rect x="161.3" y="252.6" width="4.2" height="4.2" fill="#0099FF" class="s"/>
<rect x="151.2" y="202.2" width="4.9" height="4.9" fill="#0000FF"/>
<rect x="214.6" y="198.7" width="4.2" height="4.2" fill="#0099FF" class="s"/>
<rect x="181" y="166.3" width="4.2" height="4.2" fill="#000099" class="s"/>
<rect x="105.4" y="243.5" width="4.9" height="4.9" fill="#0000FF"/>
<rect x="146" y="232.2" width="4.2" height="4.2" fill="#000099" class="s"/>
<rect x="92.9" y="283.1" width="4.2" height="4.2" fill="#000099" class="s"/>
<rect x="90.7" y="277" width="4.2" height="4.2" fill="#000099" class="s"/>
<rect x="133.6" y="240.5" width="4.2" height="4.2" fill="#000099" class="s"/>
<rect x="213.1" y="175.5" width="4.9" height="4.9" fill="#0000FF"/>
<rect x="86.7" y="281.9" width="4.2" height="4.2" fill="#000099" class="s"/>
<rect x="173.1" y="218.6" width="4.2" height="4.2" fill="#000099" class="s"/>
<rect x="139.2" y="242.1" width="4.2" height="4.2" fill="#000099" class="s"/>
<rect x="119.7" y="233.5" width="4.2" height="4.2" fill="#000099" class="s"/>
<rect x="152.7" y="246.7" width="4.9" height="4.9" fill="#0000FF"/>
<rect x="72" y="259.3" width="4.2" height="4.2" fill="#000099" class="s"/>
<rect x="182.3" y="166.8" width="4.2" height="4.2" fill="#0099FF" class="s"/>
<rect x="157" y="223" width="4.2" height="4.2" fill="#00CCFF" class="s"/>
<rect x="103.3" y="256.6" width="4.2" height="4.2" fill="#0066FF" class="s"/>
<rect x="206.6" y="200.8" width="4.9" height="4.9" fill="#0000FF"/>
<rect x="182.3" y="202.4" width="4.2" height="4.2" fill="#00FFFF" class="s"/>
<rect x="130.9" y="224" width="4.2" height="4.2" fill="#000099" class="s"/>
<rect x="213.9" y="160.8" width="4.2" height="4.2" fill="#00FFFF" class="s"/>
<rect x="157.9" y="233.6" width="4.9" height="4.9" fill="#0000FF"/>
<rect x="128.8" y="248" width="4.2" height="4.2" fill="#000099" class="s"/>
<rect x="139.1" y="227.3" width="4.2" height="4.2" fill="#00CCFF" class="s"/>
<rect x="154.7" y="256" width="4.2" height="4.2" fill="#000099" class="s"/>
<rect x="166.8" y="215.8" width="4.2" height="4.2" fill="#000099" class="s"/>
<rect x="144.5" y="203.4" width="4.9" height="4.9" fill="#0000FF"/>
<rect x="170.7" y="229.5" width="4.2" height="4.2" fill="#000099" class="s"/>
<rect x="87.5" y="225.6" width="4.2" height="4.2" fill="#00CCFF" class="s"/>
<rect x="173.8" y="181.6" width="4.2" height="4.2" fill="#000099" class="s"/>
<rect x="171.6" y="196.9" width="4.2" height="4.2" fill="#00FFFF" class="s"/>
<rect x="169.7" y="205.5" width="4.2" height="4.2" fill="#0066FF" class="s"/>
<rect x="184.8" y="210.8" width="4.2" height="4.2" fill="#0099FF" class="s"/>
<rect x="96.5" y="259.5" width="4.2" height="4.2" fill="#000099" class="s"/>
<rect x="198.5" y="121" width="4.2" height="4.2" fill="#00FFFF" class="s"/>
<rect x="181" y="200.9" width="4.2" height="4.2" fill="#00CCFF" class="s"/>
<rect x="264.5" y="187.2" width="4.2" height="4.2" fill="#00FFFF" class="s"/>
<rect x="154.9" y="221.1" width="4.2" height="4.2" fill="#000099" class="s"/>
<rect x="218.7" y="189.6" width="4.2" height="4.2" fill="#000099" class="s"/>
<rect x="199.7" y="189.7" width="4.2" height="4.2" fill="#0099FF" class="s"/>
<rect x="142.1" y="249" width="4.2" height="4.2" fill="#000099" class="s"/>
<rect x="213.2" y="130" width="4.2" height="4.2" fill="#00FFFF" class="s"/>
<rect x="125.6" y="228.2" width="4.2" height="4.2" fill="#000099" class="s"/>
<rect x="117.4" y="234.4" width="4.2" height="4.2" fill="#000099" class="s"/>
<rect x="69.7" y="261.7" width="4.2" height="4.2" fill="#000099" class="s"/>
<rect x="271" y="184" width="4.2" height="4.2" fill="#00CCFF" class="s"/>
<rect x="167.2" y="176.8" width="4.9" height="4.9" fill="#0000FF"/>
<rect x="157.3" y="241.3" width="4.2" height="4.2" fill="#000099" class="s"/>
<rect x="128.2" y="216.5" width="4.2" height="4.2" fill="#000099" class="s"/>
<rect x="143.3" y="229.2" width="4.2" height="4.2" fill="#000099" class="s"/>
<rect x="187.2" y="153.1" width="4.2" height="4.2" fill="#00CCFF" class="s"/>
<rect x="181.3" y="187.8" width="4.2" height="4.2" fill="#00CCFF" class="s"/>
<rect x="171.2" y="186.8" width="4.2" height="4.2" fill="#000099" class="s"/>
<rect x="195.1" y="202.7" width="4.2" height="4.2" fill="#00CCFF" class="s"/>
<rect x="96.1" y="270" width="4.2" height="4.2" fill="#000099" class="s"/>
<rect x="154.8" y="175.8" width="4.2" height="4.2" fill="#00CCFF" class="s"/>
<rect x="179.8" y="189.9" width="4.9" height="4.9" fill="#0000FF"/>
<rect x="235.1" y="189" width="4.2" height="4.2" fill="#00FFFF" class="s"/>
<rect x="182" y="206" width="4.2" height="4.2" fill="#00FFFF" class="s"/>
<rect x="217.4" y="148.6" width="4.2" height="4.2" fill="#00FFFF" class="s"/>
<rect x="91.3" y="270.3" width="4.9" height="4.9" fill="#0000FF"/>
<rect x="157.5" y="197.1" width="4.2" height="4.2" fill="#000099" class="s"/>
<rect x="119" y="231.4" width="4.2" height="4.2" fill="#000099" class="s"/>
<rect x="184.1" y="168.6" width="4.2" height="4.2" fill="#0066FF" class="s"/>
<rect x="123.1" y="244.9" width="4.2" height="4.2" fill="#000099" class="s"/>
<rect x="185.5" y="218" width="4.9" height="4.9" fill="#0000FF"/>
<rect x="83.5" y="271.4" width="4.2" height="4.2" fill="#00CCFF" class="s"/>
<rect x="235.8" y="192.1" width="4.2" height="4.2" fill="#00FFFF" class="s"/>
<rect x="207.5" y="195.7" width="4.2" height="4.2" fill="#00FFFF" class="s"/>
<rect x="105.3" y="252.1" width="4.2" height="4.2" fill="#000099" class="s"/>
<rect x="83.8" y="256" width="4.2" height="4.2" fill="#00FFFF" class="s"/>
<rect x="189.4" y="163.8" width="4.9" height="4.9" fill="#0000FF"/>
<rect x="152.2" y="255.7" width="4.2" height="4.2" fill="#000099" class="s"/>
<rect x="221.4" y="190.8" width="4.2" height="4.2" fill="#0066FF" class="s"/>
<rect x="145.3" y="252" width="4.2" height="4.2" fill="#000099" class="s"/>
<rect x="176.2" y="155.3" width="4.2" height="4.2" fill="#0099FF" class="s"/>
<rect x="201.3" y="167.7" width="4.9" height="4.9" fill="#0000FF"/>
<rect x="166.1" y="218.6" width="4.2" height="4.2" fill="#00FFFF" class="s"/>
<rect x="188.7" y="188.7" width="4.2" height="4.2" fill="#0066FF" class="s"/>
<rect x="83.7" y="285" width="4.2" height="4.2" fill="#000099" class="s"/>
<rect x="173.7" y="191.6" width="4.2" height="4.2" fill="#00FFFF" class="s"/>
<rect x="276.8" y="193.9" width="4.2" height="4.2" fill="#00CCFF" class="s"/>
<rect x="218.4" y="167.8" width="4.2" height="4.2" fill="#00FFFF" class="s"/>
<rect x="108.9" y="239.1" width="4.2" height="4.2" fill="#000099" class="s"/>
<rect x="269.9" y="187.9" width="4.2" height="4.2" fill="#00FFFF" class="s"/>
<rect x="186.3" y="142.1" width="4.2" height="4.2" fill="#00FFFF" class="s"/>
<rect x="187.7" y="171.9" width="4.2" height="4.2" fill="#000099" class="s"/>
<rect x="180.2" y="158.8" width="4.9" height="4.9" fill="#0000FF"/>
<rect x="91.8" y="284.5" width="4.2" height="4.2" fill="#00FFFF" class="s"/>
<rect x="222.5" y="140.6" width="4.9" height="4.9" fill="#0000FF"/>
<rect x="220.4" y="189.4" width="4.2" height="4.2" fill="#00FFFF" class="s"/>
<rect x="181" y="213.7" width="4.9" height="4.9" fill="#0000FF"/>
<rect x="184.7" y="169.4" width="4.2" height="4.2" fill="#00CCFF" class="s"/>
<rect x="165.9" y="232" width="4.2" height="4.2" fill="#00FFFF" class="s"/>
<rect x="192" y="175" width="4.2" height="4.2" fill="#00FFFF" class="s"/>
<rect x="219" y="135.1" width="4.2" height="4.2" fill="#00CCFF" class="s"/>
<rect x="167.7" y="231.1" width="4.2" height="4.2" fill="#000099" class="s"/>
<rect x="129.8" y="215.7" width="4.2" height="4.2" fill="#000099" class="s"/>
<rect x="184.1" y="206.9" width="4.2" height="4.2" fill="#00FFFF" class="s"/>
<rect x="173.8" y="186.9" width="4.9" height="4.9" fill="#0000FF"/>
<rect x="194.5" y="146.5" width="4.2" height="4.2" fill="#00FFFF" class="s"/>
<rect x="104.7" y="219.1" width="4.2" height="4.2" fill="#00CCFF" class="s"/>
<rect x="147.5" y="204.8" width="4.9" height="4.9" fill="#0000FF"/>
<rect x="138" y="229.2" width="4.2" height="4.2" fill="#000099" class="s"/>
<rect x="240.5" y="127.8" width="4.2" height="4.2" fill="#00CCFF" class="s"/>
<rect x="90.7" y="251.4" width="4.2" height="4.2" fill="#000099" class="s"/>
<rect x="143.1" y="184.8" width="4.2" height="4.2" fill="#00CCFF" class="s"/>
<rect x="119.7" y="228.8" width="4.2" height="4.2" fill="#000099" class="s"/>
<rect x="126.2" y="192.8" width="4.2" height="4.2" fill="#00FFFF" class="s"/>
<rect x="162.8" y="235.1" width="4.2" height="4.2" fill="#00CCFF" class="s"/>
<rect x="143.4" y="239.1" width="4.2" height="4.2" fill="#000099" class="s"/>
<rect x="233.8" y="199.6" width="4.2" height="4.2" fill="#000099" class="s"/>
<rect x="153.3" y="205.4" width="4.9" height="4.9" fill="#0000FF"/>
<rect x="163.9" y="223.9" width="4.2" height="4.2" fill="#00CCFF" class="s"/>
<rect x="161.5" y="165.3" width="4.2" height="4.2" fill="#00CCFF" class="s"/>
<rect x="86.2" y="250.9" width="4.2" height="4.2" fill="#000099" class="s"/>
<rect x="191.9" y="128.8" width="4.2" height="4.2" fill="#000099" class="s"/>
<rect x="148" y="242.9" width="4.2" height="4.2" fill="#000099" class="s"/>
<rect x="174" y="177.2" width="4.2" height="4.2" fill="#000099" class="s"/>
<rect x="100.7" y="278.6" width="4.2" height="4.2" fill="#000099" class="s"/>
<rect x="143" y="244.7" width="4.2" height="4.2" fill="#000099" class="s"/>
<rect x="138.9" y="168.5" width="4.2" height="4.2" fill="#00FFFF" class="s"/>
<rect x="127.2" y="227.5" width="4.2" height="4.2" fill="#000099" class="s"/>
<rect x="115.2" y="244.6" width="4.2" height="4.2" fill="#000099" class="s"/>
<rect x="170.3" y="198" width="4.9" height="4.9" fill="#0000FF"/>
<rect x="148.4" y="208.2" width="4.2" height="4.2" fill="#000099" class="s"/>
<rect x="84.2" y="257.3" width="4.2" height="4.2" fill="#000099" class="s"/>
<rect x="155.7" y="227.4" width="4.2" height="4.2" fill="#000099" class="s"/>
<rect x="148.2" y="217.7" width="4.9" height="4.9" fill="#0000FF"/>
<rect x="117.8" y="243.9" width="4.2" height="4.2" fill="#000099" class="s"/>
<rect x="261" y="166.7" width="4.2" height="4.2" fill="#00FFFF" class="s"/>
<rect x="150.1" y="229.7" width="4.2" height="4.2" fill="#0066FF" class="s"/>
<rect x="94" y="238.2" width="4.2" height="4.2" fill="#000099" class="s"/>
<rect x="211.5" y="146.3" width="4.2" height="4.2" fill="#00FFFF" class="s"/>
<rect x="83.8" y="266.8" width="4.2" height="4.2" fill="#0066FF" class="s"/>
<rect x="177.7" y="217.6" width="4.2" height="4.2" fill="#000099" class="s"/>
<rect x="80.7" y="275.7" width="4.2" height="4.2" fill="#00CCFF" class="s"/>
<rect x="181.4" y="180.2" width="4.2" height="4.2" fill="#0066FF" class="s"/>
<rect x="266.9" y="189.9" width="4.9" height="4.9" fill="#0000FF"/>
<rect x="147.5" y="178.8" width="4.2" height="4.2" fill="#00CCFF" class="s"/>
<rect x="176.7" y="192" width="4.9" height="4.9" fill="#0000FF"/>
<rect x="103.7" y="248.8" width="4.2" height="4.2" fill="#0066FF" class="s"/>
<rect x="87.3" y="280.2" width="4.2" height="4.2" fill="#000099" class="s"/>
<rect x="215.3" y="121.3" width="4.2" height="4.2" fill="#00CCFF" class="s"/>
<rect x="127.9" y="236.2" width="4.2" height="4.2" fill="#000099" class="s"/>
<rect x="80.1" y="266.1" width="4.2" height="4.2" fill="#000099" class="s"/>
<rect x="150" y="217.6" width="4.9" height="4.9" fill="#0000FF"/>
<rect x="177.7" y="211" width="4.2" height="4.2" fill="#00CCFF" class="s"/>
<rect x="245" y="186.3" width="4.2" height="4.2" fill="#0099FF" class="s"/>
<rect x="177.6" y="205.9" width="4.2" height="4.2" fill="#0066FF" class="s"/>
<rect x="105.7" y="226.8" width="4.2" height="4.2" fill="#000099" class="s"/>
<rect x="122.8" y="225.6" width="4.2" height="4.2" fill="#000099" class="s"/>
<rect x="186.3" y="186.1" width="4.2" height="4.2" fill="#00CCFF" class="s"/>
<rect x="142.8" y="209.1" width="4.2" height="4.2" fill="#000099" class="s"/>
<rect x="83" y="263.2" width="4.9" height="4.9" fill="#0000FF"/>
<rect x="211.1" y="201.8" width="4.2" height="4.2" fill="#00CCFF" class="s"/>
<rect x="102.8" y="224.4" width="4.2" height="4.2" fill="#000099" class="s"/>
<rect x="132.3" y="211.1" width="4.2" height="4.2" fill="#000099" class="s"/>
<rect x="161.1" y="225.1" width="4.2" height="4.2" fill="#00FFFF" class="s"/>
<rect x="159.1" y="180.8" width="4.2" height="4.2" fill="#00FFFF" class="s"/>
<rect x="146.6" y="227.7" width="4.2" height="4.2" fill="#000099" class="s"/>
<rect x="176.2" y="177" width="4.2" height="4.2" fill="#00FFFF" class="s"/>
<rect x="188.1" y="178.9" width="4.9" height="4.9" fill="#0000FF"/>
<rect x="94.1" y="263" width="4.2" height="4.2" fill="#00CCFF" class="s"/>
<rect x="138.2" y="206.9" width="4.2" height="4.2" fill="#00FFFF" class="s"/>
<rect x="97.5" y="238.5" width="4.2" height="4.2" fill="#000099" class="s"/>
<rect x="233.4" y="181.8" width="4.2" height="4.2" fill="#0066FF" class="s"/>
<rect x="80.5" y="265.7" width="4.2" height="4.2" fill="#000099" class="s"/>
<rect x="213.6" y="143.1" width="4.2" height="4.2" fill="#00FFFF" class="s"/>
<rect x="141" y="210.7" width="4.9" height="4.9" fill="#0000FF"/>
<rect x="102.6" y="230.6" width="4.2" height="4.2" fill="#000099" class="s"/>
<rect x="137.2" y="212.8" width="4.2" height="4.2" fill="#000099" class="s"/>
<rect x="210.1" y="152.7" width="4.9" height="4.9" fill="#0000FF"/>
<rect x="202.3" y="151.5" width="4.9" height="4.9" fill="#0000FF"/>
<rect x="91.9" y="262.7" width="4.2" height="4.2" fill="#000099" class="s"/>
<rect x="262.2" y="167.9" width="4.2" height="4.2" fill="#00CCFF" class="s"/>
<rect x="108.6" y="255.5" width="4.2" height="4.2" fill="#000099" class="s"/>
<rect x="149.9" y="189.5" width="4.2" height="4.2" fill="#000099" class="s"/>
<rect x="89.7" y="259.8" width="4.2" height="4.2" fill="#00CCFF" class="s"/>
<rect x="77.9" y="270.2" width="4.2" height="4.2" fill="#0099FF" class="s"/>
<rect x="246.6" y="176.4" width="4.2" height="4.2" fill="#00FFFF" class="s"/>
<rect x="83.8" y="252.5" width="4.9" height="4.9" fill="#0000FF"/>
<rect x="181.5" y="190.6" width="4.9" height="4.9" fill="#0000FF"/>
<rect x="124.5" y="216.5" width="4.2" height="4.2" fill="#000099" class="s"/>
<rect x="204.8" y="180.1" width="4.2" height="4.2" fill="#00FFFF" class="s"/>
<rect x="111.7" y="247" width="4.2" height="4.2" fill="#000099" class="s"/>
<rect x="146.8" y="236.3" width="4.2" height="4.2" fill="#000099" class="s"/>
<rect x="223.9" y="191.8" width="4.2" height="4.2" fill="#0066FF" class="s"/>
<rect x="171" y="202" width="4.9" height="4.9" fill="#0000FF"/>
<rect x="155.6" y="229.2" width="4.9" height="4.9" fill="#0000FF"/>
<rect x="237.1" y="126.3" width="4.2" height="4.2" fill="#00FFFF" class="s"/>
<rect x="163.2" y="175.6" width="4.2" height="4.2" fill="#0099FF" class="s"/>
<rect x="85.2" y="245.7" width="4.2" height="4.2" fill="#0099FF" class="s"/>
<rect x="232.3" y="156.2" width="4.2" height="4.2" fill="#00CCFF" class="s"/>
<rect x="267.6" y="183.6" width="4.2" height="4.2" fill="#00FFFF" class="s"/>
<rect x="104.5" y="223.3" width="4.2" height="4.2" fill="#00FFFF" class="s"/>
<rect x="140.8" y="241.8" width="4.2" height="4.2" fill="#000099" class="s"/>
<rect x="130.3" y="211.3" width="4.9" height="4.9" fill="#0000FF"/>
<rect x="151.8" y="223.2" width="4.2" height="4.2" fill="#000099" class="s"/>
<rect x="87.5" y="267.5" width="4.2" height="4.2" fill="#000099" class="s"/>
<rect x="196.7" y="183.8" width="4.2" height="4.2" fill="#00FFFF" class="s"/>
<rect x="152.7" y="192.4" width="4.9" height="4.9" fill="#0000FF"/>
<rect x="150.6" y="211.8" width="4.9" height="4.9" fill="#0000FF"/>
<rect x="156.2" y="181.5" width="4.9" height="4.9" fill="#0000FF"/>
<rect x="247.9" y="183" width="4.2" height="4.2" fill="#0099FF" class="s"/>
<rect x="124.9" y="230.2" width="4.2" height="4.2" fill="#000099" class="s"/>
<rect x="123.7" y="245.9" width="4.2" height="4.2" fill="#000099" class="s"/>
<rect x="166.8" y="168.7" width="4.2" height="4.2" fill="#00FFFF" class="s"/>
<rect x="111.8" y="223.5" width="4.2" height="4.2" fill="#000099" class="s"/>
<rect x="201.2" y="110.4" width="4.2" height="4.2" fill="#00FFFF" class="s"/>
<rect x="87.1" y="251.6" width="4.2" height="4.2" fill="#000099" class="s"/>
<rect x="99" y="282.6" width="4.2" height="4.2" fill="#000099" class="s"/>
<rect x="128.7" y="238.2" width="4.2" height="4.2" fill="#000099" class="s"/>
<rect x="163.1" y="189.3" width="4.9" height="4.9" fill="#0000FF"/>
<rect x="220.1" y="155.9" width="4.2" height="4.2" fill="#0099FF" class="s"/>
<rect x="113.2" y="213.2" width="4.2" height="4.2" fill="#000099" class="s"/>
<rect x="156.1" y="201.6" width="4.2" height="4.2" fill="#000099" class="s"/>
<rect x="130.9" y="223.2" width="4.2" height="4.2" fill="#000099" class="s"/>
<rect x="157.6" y="183.8" width="4.2" height="4.2" fill="#00CCFF" class="s"/>
<rect x="129.9" y="206.7" width="4.2" height="4.2" fill="#000099" class="s"/>
<rect x="103.6" y="252.9" width="4.2" height="4.2" fill="#000099" class="s"/>
<rect x="120.5" y="239.6" width="4.2" height="4.2" fill="#000099" class="s"/>
<rect x="167.2" y="228.9" width="4.9" height="4.9" fill="#0000FF"/>
<rect x="165.2" y="187.9" width="4.9" height="4.9" fill="#0000FF"/>
<rect x="208.3" y="161.7" width="4.2" height="4.2" fill="#00CCFF" class="s"/>
<rect x="180.4" y="163.3" width="4.9" height="4.9" fill="#0000FF"/>
<rect x="214.6" y="171.3" width="4.9" height="4.9" fill="#0000FF"/>
<rect x="236.7" y="172.9" width="4.2" height="4.2" fill="#00FFFF" class="s"/>
<rect x="90.5" y="284.1" width="4.2" height="4.2" fill="#000099" class="s"/>
<rect x="126.6" y="232" width="4.2" height="4.2" fill="#000099" class="s"/>
<rect x="212.2" y="188.7" width="4.2" height="4.2" fill="#00FFFF" class="s"/>
<rect x="230.6" y="172.7" width="4.2" height="4.2" fill="#000099" class="s"/>
<rect x="83.4" y="279" width="4.2" height="4.2" fill="#0066FF" class="s"/>
<rect x="176.7" y="175.2" width="4.2" height="4.2" fill="#00CCFF" class="s"/>
<rect x="209.4" y="159.6" width="4.2" height="4.2" fill="#0066FF" class="s"/>
<rect x="171.1" y="187.1" width="4.2" height="4.2" fill="#0066FF" class="s"/>
<rect x="158.1" y="217.9" width="4.2" height="4.2" fill="#000099" class="s"/>
<rect x="213.1" y="155.5" width="4.2" height="4.2" fill="#00CCFF" class="s"/>
<rect x="148.9" y="253.3" width="4.2" height="4.2" fill="#000099" class="s"/>
<rect x="205.3" y="170.1" width="4.2" height="4.2" fill="#00FFFF" class="s"/>
<rect x="150.5" y="211.3" width="4.2" height="4.2" fill="#00FFFF" class="s"/>
<rect x="148.1" y="212.2" width="4.2" height="4.2" fill="#000099" class="s"/>
<rect x="181" y="195.2" width="4.9" height="4.9" fill="#0000FF"/>
<rect x="229.9" y="176.1" width="4.2" height="4.2" fill="#0099FF" class="s"/>
<rect x="79.2" y="267.2" width="4.2" height="4.2" fill="#000099" class="s"/>
<rect x="182.9" y="212.9" width="4.2" height="4.2" fill="#00FFFF" class="s"/>
<rect x="79.9" y="260.1" width="4.2" height="4.2" fill="#000099" class="s"/>
<rect x="195.6" y="136.4" width="4.2" height="4.2" fill="#0099FF" class="s"/>
<rect x="216" y="122.7" width="4.2" height="4.2" fill="#00FFFF" class="s"/>
<rect x="76.5" y="263" width="4.2" height="4.2" fill="#00CCFF" class="s"/>
<rect x="95.4" y="268.2" width="4.2" height="4.2" fill="#000099" class="s"/>
<rect x="153.1" y="259.5" width="4.2" height="4.2" fill="#000099" class="s"/>
<rect x="182" y="174.7" width="4.9" height="4.9" fill="#0000FF"/>
<rect x="105.4" y="222.1" width="4.2" height="4.2" fill="#000099" class="s"/>
<rect x="183.6" y="180.6" width="4.9" height="4.9" fill="#0000FF"/>
<rect x="126.6" y="228" width="4.2" height="4.2" fill="#000099" class="s"/>
<rect x="254.8" y="178.6" width="4.2" height="4.2" fill="#00FFFF" class="s"/>
<rect x="76" y="259.9" width="4.2" height="4.2" fill="#000099" class="s"/>
<rect x="74.8" y="264.9" width="4.2" height="4.2" fill="#00FFFF" class="s"/>
<rect x="173.7" y="210" width="4.2" height="4.2" fill="#00CCFF" class="s"/>
<rect x="189.7" y="164.3" width="4.9" height="4.9" fill="#0000FF"/>
<rect x="103.6" y="244.6" width="4.2" height="4.2" fill="#000099" class="s"/>
<rect x="176.2" y="222.6" width="4.2" height="4.2" fill="#00CCFF" class="s"/>
<rect x="188" y="190.7" width="4.2" height="4.2" fill="#00FFFF" class="s"/>
<rect x="84.8" y="237.7" width="4.2" height="4.2" fill="#0099FF" class="s"/>
<rect x="145.4" y="231.5" width="4.2" height="4.2" fill="#000099" class="s"/>
<rect x="85.3" y="242.2" width="4.2" height="4.2" fill="#00CCFF" class="s"/>
<rect x="135.7" y="213.7" width="4.2" height="4.2" fill="#000099" class="s"/>
<rect x="158.8" y="254.4" width="4.2" height="4.2" fill="#000099" class="s"/>
<rect x="219.8" y="122.6" width="4.2" height="4.2" fill="#00FFFF" class="s"/>
<rect x="132.5" y="230.5" width="4.2" height="4.2" fill="#000099" class="s"/>
<rect x="110.8" y="231" width="4.2" height="4.2" fill="#000099" class="s"/>
<rect x="146.6" y="226.5" width="4.2" height="4.2" fill="#00FFFF" class="s"/>
<rect x="130.1" y="211" width="4.2" height="4.2" fill="#000099" class="s"/>
<rect x="103.2" y="232.3" width="4.9" height="4.9" fill="#0000FF"/>
<rect x="86.6" y="241.4" width="4.2" height="4.2" fill="#00FFFF" class="s"/>
<rect x="88.3" y="261.6" width="4.9" height="4.9" fill="#0000FF"/>
<rect x="155.5" y="198.8" width="4.9" height="4.9" fill="#0000FF"/>
<rect x="152.6" y="241.3" width="4.2" height="4.2" fill="#000099" class="s"/>
<rect x="210.1" y="198.2" width="4.2" height="4.2" fill="#0099FF" class="s"/>
<rect x="97.5" y="232.1" width="4.2" height="4.2" fill="#00FFFF" class="s"/>
<rect x="212.1" y="169" width="4.2" height="4.2" fill="#0099FF" class="s"/>
<rect x="198" y="162.8" width="4.2" height="4.2" fill="#00CCFF" class="s"/>
<rect x="104.3" y="245.9" width="4.2" height="4.2" fill="#00CCFF" class="s"/>
<rect x="236.4" y="170.1" width="4.2" height="4.2" fill="#00FFFF" class="s"/>
<rect x="172.3" y="172.6" width="4.2" height="4.2" fill="#00CCFF" class="s"/>
<rect x="160" y="195.1" width="4.2" height="4.2" fill="#000099" class="s"/>
<rect x="189.4" y="191.5" width="4.2" height="4.2" fill="#0066FF" class="s"/>
<rect x="99.8" y="229.6" width="4.2" height="4.2" fill="#000099" class="s"/>
<rect x="132.6" y="202.1" width="4.9" height="4.9" fill="#0000FF"/>
<rect x="156.7" y="247.6" width="4.9" height="4.9" fill="#0000FF"/>
<rect x="140.8" y="194.5" width="4.2" height="4.2" fill="#000099" class="s"/>
<rect x="158.2" y="228" width="4.9" height="4.9" fill="#0000FF"/>
<rect x="170.5" y="204.2" width="4.2" height="4.2" fill="#000099" class="s"/>
<rect x="169.3" y="214.1" width="4.2" height="4.2" fill="#00FFFF" class="s"/>
<rect x="138.3" y="246.4" width="4.2" height="4.2" fill="#000099" class="s"/>
<rect x="118.1" y="247.1" width="4.2" height="4.2" fill="#000099" class="s"/>
<rect x="120.4" y="257.8" width="4.2" height="4.2" fill="#000099" class="s"/>
<rect x="170.6" y="159.4" width="4.2" height="4.2" fill="#0099FF" class="s"/>
<rect x="144.2" y="222.1" width="4.9" height="4.9" fill="#0000FF"/>
<rect x="105.7" y="236" width="4.2" height="4.2" fill="#0066FF" class="s"/>
<rect x="189" y="180.5" width="4.9" height="4.9" fill="#0000FF"/>
<rect x="171.3" y="176.5" width="4.9" height="4.9" fill="#0000FF"/>
<rect x="186.6" y="154.4" width="4.2" height="4.2" fill="#00CCFF" class="s"/>
<rect x="204.7" y="182.2" width="4.2" height="4.2" fill="#00FFFF" class="s"/>
<rect x="130.2" y="255.7" width="4.2" height="4.2" fill="#000099" class="s"/>
<rect x="82.9" y="263" width="4.2" height="4.2" fill="#000099" class="s"/>
<rect x="215.6" y="172.9" width="4.2" height="4.2" fill="#00CCFF" class="s"/>
<rect x="97" y="247.2" width="4.2" height="4.2" fill="#000099" class="s"/>
<rect x="211.6" y="177" width="4.9" height="4.9" fill="#0000FF"/>
<rect x="183.9" y="215.9" width="4.9" height="4.9" fill="#0000FF"/>
<rect x="174.3" y="177.1" width="4.2" height="4.2" fill="#0099FF" class="s"/>
<rect x="207" y="193.1" width="4.2" height="4.2" fill="#0066FF" class="s"/>
<rect x="125.4" y="238.3" width="4.2" height="4.2" fill="#000099" class="s"/>
<rect x="140.1" y="212.4" width="4.9" height="4.9" fill="#0000FF"/>
<rect x="78.5" y="271" width="4.2" height="4.2" fill="#000099" class="s"/>
<rect x="159.6" y="207.1" width="4.2" height="4.2" fill="#0066FF" class="s"/>
<rect x="163.8" y="210.4" width="4.9" height="4.9" fill="#0000FF"/>
<rect x="217.1" y="136.6" width="4.2" height="4.2" fill="#00FFFF" class="s"/>
<rect x="157.8" y="229.7" width="4.2" height="4.2" fill="#00FFFF" class="s"/>
<rect x="183.8" y="153.5" width="4.2" height="4.2" fill="#00FFFF" class="s"/>
<rect x="150.2" y="214.6" width="4.2" height="4.2" fill="#000099" class="s"/>
<rect x="160.3" y="224.6" width="4.2" height="4.2" fill="#00FFFF" class="s"/>
<rect x="164.2" y="187.2" width="4.2" height="4.2" fill="#00FFFF" class="s"/>
<rect x="270.6" y="183.2" width="4.2" height="4.2" fill="#0099FF" class="s"/>
<rect x="131.7" y="232.7" width="4.2" height="4.2" fill="#000099" class="s"/>
<rect x="200.1" y="167.8" width="4.2" height="4.2" fill="#0099FF" class="s"/>
<rect x="142.4" y="206.8" width="4.9" height="4.9" fill="#0000FF"/>
<rect x="164.9" y="224.8" width="4.2" height="4.2" fill="#000099" class="s"/>
<rect x="194.9" y="149.4" width="4.9" height="4.9" fill="#0000FF"/>
<rect x="174.3" y="229.1" width="4.2" height="4.2" fill="#0099FF" class="s"/>
<rect x="119.4" y="191.5" width="4.2" height="4.2" fill="#00CCFF" class="s"/>
<rect x="114.5" y="243.3" width="4.2" height="4.2" fill="#000099" class="s"/>
<rect x="150.3" y="217.4" width="4.9" height="4.9" fill="#0000FF"/>
<rect x="114.8" y="216.6" width="4.2" height="4.2" fill="#00CCFF" class="s"/>
<rect x="232.7" y="166.7" width="4.9" height="4.9" fill="#0000FF"/>
<rect x="244.1" y="177.2" width="4.2" height="4.2" fill="#0066FF" class="s"/>
<rect x="94.4" y="248.6" width="4.2" height="4.2" fill="#000099" class="s"/>
<rect x="254.9" y="164.5" width="4.2" height="4.2" fill="#00CCFF" class="s"/>
<rect x="144.7" y="217.1" width="4.2" height="4.2" fill="#0066FF" class="s"/>
<rect x="145.3" y="217.9" width="4.2" height="4.2" fill="#00FFFF" class="s"/>
<rect x="109.4" y="241.5" width="4.2" height="4.2" fill="#000099" class="s"/>
<rect x="180.4" y="193" width="4.2" height="4.2" fill="#0066FF" class="s"/>
<rect x="161.8" y="207.5" width="4.2" height="4.2" fill="#000099" class="s"/>
<rect x="161.2" y="213.9" width="4.2" height="4.2" fill="#000099" class="s"/>
<rect x="144.2" y="187.7" width="4.2" height="4.2" fill="#0099FF" class="s"/>
<rect x="207.2" y="165.4" width="4.2" height="4.2" fill="#0099FF" class="s"/>
<rect x="77.7" y="263.5" width="4.9" height="4.9" fill="#0000FF"/>
<rect x="187" y="183.2" width="4.2" height="4.2" fill="#00CCFF" class="s"/>
<rect x="140.1" y="221.1" width="4.2" height="4.2" fill="#000099" class="s"/>
<rect x="158.9" y="185.1" width="4.9" height="4.9" fill="#0000FF"/>
<rect x="143.7" y="223.7" width="4.2" height="4.2" fill="#000099" class="s"/>
<rect x="145.9" y="243.9" width="4.2" height="4.2" fill="#000099" class="s"/>
<rect x="247.6" y="179.8" width="4.2" height="4.2" fill="#00CCFF" class="s"/>
<rect x="181.4" y="207.2" width="4.2" height="4.2" fill="#0066FF" class="s"/>
<rect x="176" y="155.3" width="4.9" height="4.9" fill="#0000FF"/>
<rect x="134.9" y="241.8" width="4.2" height="4.2" fill="#000099" class="s"/>
<rect x="188.1" y="147.5" width="4.9" height="4.9" fill="#0000FF"/>
<rect x="117.5" y="245.7" width="4.2" height="4.2" fill="#000099" class="s"/>
<rect x="80.4" y="259.7" width="4.2" height="4.2" fill="#000099" class="s"/>
<rect x="201.8" y="170.6" width="4.9" height="4.9" fill="#0000FF"/>
<rect x="138.1" y="231.4" width="4.2" height="4.2" fill="#000099" class="s"/>
<rect x="157.4" y="245.3" width="4.2" height="4.2" fill="#00CCFF" class="s"/>
<rect x="209.8" y="170" width="4.2" height="4.2" fill="#00CCFF" class="s"/>
<rect x="171.2" y="214.5" width="4.2" height="4.2" fill="#0066FF" class="s"/>
<rect x="145" y="229.6" width="4.9" height="4.9" fill="#0000FF"/>
<rect x="176.9" y="221.7" width="4.2" height="4.2" fill="#0066FF" class="s"/>
<rect x="216.8" y="183.8" width="4.2" height="4.2" fill="#00FFFF" class="s"/>
<rect x="80.7" y="274.2" width="4.2" height="4.2" fill="#000099" class="s"/>
<rect x="137" y="253.8" width="4.2" height="4.2" fill="#000099" class="s"/>
<rect x="157.4" y="217.8" width="4.2" height="4.2" fill="#0099FF" class="s"/>
<rect x="97.3" y="263.4" width="4.2" height="4.2" fill="#000099" class="s"/>
<rect x="75.9" y="276" width="4.2" height="4.2" fill="#000099" class="s"/>
<rect x="165.8" y="204.4" width="4.9" height="4.9" fill="#0000FF"/>
<rect x="79.6" y="279.5" width="4.2" height="4.2" fill="#000099" class="s"/>
<rect x="176.2" y="179.4" width="4.2" height="4.2" fill="#00CCFF" class="s"/>
<rect x="182.9" y="203.6" width="4.9" height="4.9" fill="#0000FF"/>
<rect x="187.8" y="205.9" width="4.2" height="4.2" fill="#00FFFF" class="s"/>
<rect x="241.3" y="182.3" width="4.2" height="4.2" fill="#00FFFF" class="s"/>
<rect x="159.1" y="189.8" width="4.2" height="4.2" fill="#000099" class="s"/>
<rect x="126.1" y="255.6" width="4.2" height="4.2" fill="#000099" class="s"/>
<rect x="229.7" y="144.7" width="4.2" height="4.2" fill="#0099FF" class="s"/>
<rect x="121.8" y="226.6" width="4.2" height="4.2" fill="#000099" class="s"/>
<rect x="191" y="161.9" width="4.2" height="4.2" fill="#0066FF" class="s"/>
<rect x="202.3" y="191.9" width="4.2" height="4.2" fill="#000099" class="s"/>
<rect x="97.9" y="248.2" width="4.2" height="4.2" fill="#000099" class="s"/>
<rect x="150.4" y="206.2" width="4.9" height="4.9" fill="#0000FF"/>
<rect x="144.2" y="248.4" width="4.2" height="4.2" fill="#000099" class="s"/>
<rect x="196.6" y="175.9" width="4.2" height="4.2" fill="#00FFFF" class="s"/>
<rect x="101" y="257.2" width="4.9" height="4.9" fill="#0000FF"/>
<rect x="217.4" y="195.9" width="4.2" height="4.2" fill="#00FFFF" class="s"/>
<rect x="138.7" y="217.2" width="4.2" height="4.2" fill="#000099" class="s"/>
<rect x="162.7" y="210.1" width="4.2" height="4.2" fill="#000099" class="s"/>
<rect x="204.5" y="175.6" width="4.9" height="4.9" fill="#0000FF"/>
<rect x="157.2" y="253.6" width="4.2" height="4.2" fill="#00CCFF" class="s"/>
<rect x="135.8" y="240.6" width="4.2" height="4.2" fill="#000099" class="s"/>
<rect x="136.9" y="242.3" width="4.2" height="4.2" fill="#000099" class="s"/>
<rect x="230.9" y="247.2" width="4.2" height="4.2" fill="#000099" class="s"/>
<rect x="84.5" y="243.2" width="4.2" height="4.2" fill="#00CCFF" class="s"/>
<rect x="151.5" y="190.1" width="4.2" height="4.2" fill="#0099FF" class="s"/>
<rect x="189.6" y="182.6" width="4.2" height="4.2" fill="#00FFFF" class="s"/>
<rect x="105.4" y="229.9" width="4.2" height="4.2" fill="#0099FF" class="s"/>
<rect x="75" y="268.4" width="4.2" height="4.2" fill="#0099FF" class="s"/>
<rect x="275" y="190.6" width="4.2" height="4.2" fill="#000099" class="s"/>
<rect x="92.8" y="255.6" width="4.2" height="4.2" fill="#000099" class="s"/>
<rect x="87.9" y="255.2" width="4.2" height="4.2" fill="#000099" class="s"/>
<rect x="147.4" y="231.5" width="4.9" height="4.9" fill="#0000FF"/>
<rect x="257.5" y="193.1" width="4.2" height="4.2" fill="#0099FF" class="s"/>
<rect x="145.7" y="219.7" width="4.9" height="4.9" fill="#0000FF"/>
<rect x="179.3" y="201.9" width="4.2" height="4.2" fill="#000099" class="s"/>
<rect x="198.8" y="178.9" width="4.2" height="4.2" fill="#00FFFF" class="s"/>
<rect x="96.2" y="259.7" width="4.2" height="4.2" fill="#000099" class="s"/>
<rect x="251" y="183.5" width="4.2" height="4.2" fill="#00FFFF" class="s"/>
<rect x="141.2" y="233.8" width="4.2" height="4.2" fill="#000099" class="s"/>
<rect x="221" y="142.7" width="4.9" height="4.9" fill="#0000FF"/>
<rect x="159.6" y="210.5" width="4.2" height="4.2" fill="#00CCFF" class="s"/>
<rect x="92.7" y="228.3" width="4.9" height="4.9" fill="#0000FF"/>
<rect x="160.4" y="198.1" width="4.2" height="4.2" fill="#00CCFF" class="s"/>
<rect x="173.5" y="206.8" width="4.2" height="4.2" fill="#000099" class="s"/>
<rect x="130" y="227" width="4.2" height="4.2" fill="#000099" class="s"/>
<rect x="212" y="160" width="4.2" height="4.2" fill="#00FFFF" class="s"/>
<rect x="138.1" y="223" width="4.2" height="4.2" fill="#000099" class="s"/>
<rect x="159.2" y="189.7" width="4.2" height="4.2" fill="#000099" class="s"/>
<rect x="194.9" y="173.1" width="4.2" height="4.2" fill="#0099FF" class="s"/>
<rect x="142.3" y="204.9" width="4.9" height="4.9" fill="#0000FF"/>
<rect x="208.6" y="165.2" width="4.2" height="4.2" fill="#000099" class="s"/>
<rect x="102" y="247.1" width="4.9" height="4.9" fill="#0000FF"/>
<rect x="100.4" y="253" width="4.2" height="4.2" fill="#000099" class="s"/>
<rect x="193.7" y="164.6" width="4.2" height="4.2" fill="#000099" class="s"/>
<rect x="207.8" y="147.6" width="4.2" height="4.2" fill="#00CCFF" class="s"/>
<rect x="130.5" y="212" width="4.2" height="4.2" fill="#000099" class="s"/>
<rect x="174.7" y="173.1" width="4.2" height="4.2" fill="#0099FF" class="s"/>
<rect x="185.9" y="171.7" width="4.2" height="4.2" fill="#00CCFF" class="s"/>
<rect x="167.7" y="185.1" width="4.9" height="4.9" fill="#0000FF"/>
<rect x="114.1" y="210.1" width="4.2" height="4.2" fill="#000099" class="s"/>
<rect x="187.2" y="189.6" width="4.2" height="4.2" fill="#0066FF" class="s"/>
<rect x="90.2" y="243.9" width="4.2" height="4.2" fill="#000099" class="s"/>
<rect x="127.8" y="254.7" width="4.2" height="4.2" fill="#00FFFF" class="s"/>
<rect x="145" y="229.2" width="4.2" height="4.2" fill="#000099" class="s"/>
<rect x="83.8" y="275" width="4.2" height="4.2" fill="#000099" class="s"/>
<rect x="153.1" y="202.9" width="4.2" height="4.2" fill="#00FFFF" class="s"/>
<rect x="252.6" y="160.1" width="4.2" height="4.2" fill="#00FFFF" class="s"/>
<rect x="223.1" y="153.9" width="4.9" height="4.9" fill="#0000FF"/>
<rect x="171" y="187.1" width="4.2" height="4.2" fill="#0099FF" class="s"/>
<rect x="165.5" y="179.9" width="4.2" height="4.2" fill="#0066FF" class="s"/>
<rect x="181.6" y="196.6" width="4.2" height="4.2" fill="#000099" class="s"/>
<rect x="170.2" y="171.8" width="4.2" height="4.2" fill="#00FFFF" class="s"/>
<rect x="111.6" y="240.8" width="4.2" height="4.2" fill="#000099" class="s"/>
<rect x="139.4" y="230.7" width="4.9" height="4.9" fill="#0000FF"/>
<rect x="100.2" y="274.9" width="4.2" height="4.2" fill="#000099" class="s"/>
<rect x="148.1" y="179.4" width="4.9" height="4.9" fill="#0000FF"/>
<rect x="177.9" y="226.2" width="4.2" height="4.2" fill="#00CCFF" class="s"/>
<rect x="185.2" y="203.9" width="4.2" height="4.2" fill="#000099" class="s"/>
<rect x="172.9" y="171.2" width="4.9" height="4.9" fill="#0000FF"/>
<rect x="149" y="232.1" width="4.2" height="4.2" fill="#000099" class="s"/>
<rect x="162.2" y="176.5" width="4.2" height="4.2" fill="#0099FF" class="s"/>
<rect x="165.9" y="165.6" width="4.2" height="4.2" fill="#00FFFF" class="s"/>
<rect x="122" y="252.8" width="4.2" height="4.2" fill="#000099" class="s"/>
<rect x="126.1" y="205.5" width="4.2" height="4.2" fill="#00FFFF" class="s"/>
<rect x="98.1" y="268.6" width="4.2" height="4.2" fill="#000099" class="s"/>
<rect x="143.8" y="202.6" width="4.2" height="4.2" fill="#0066FF" class="s"/>
<rect x="177.8" y="200.8" width="4.2" height="4.2" fill="#000099" class="s"/>
<rect x="163.3" y="191.7" width="4.2" height="4.2" fill="#000099" class="s"/>
<rect x="124.1" y="250.1" width="4.2" height="4.2" fill="#000099" class="s"/>
<rect x="147.3" y="207.8" width="4.2" height="4.2" fill="#000099" class="s"/>
<rect x="154.2" y="237.1" width="4.2" height="4.2" fill="#0099FF" class="s"/>
<rect x="150.1" y="182.8" width="4.2" height="4.2" fill="#00CCFF" class="s"/>
<rect x="96.3" y="278.4" width="4.2" height="4.2" fill="#000099" class="s"/>
<rect x="240.3" y="159.6" width="4.9" height="4.9" fill="#0000FF"/>
<rect x="142.9" y="224.3" width="4.2" height="4.2" fill="#000099" class="s"/>
<rect x="201.5" y="176.9" width="4.9" height="4.9" fill="#0000FF"/>
<rect x="137" y="240.8" width="4.2" height="4.2" fill="#000099" class="s"/>
<rect x="128.5" y="213.7" width="4.2" height="4.2" fill="#00CCFF" class="s"/>
<rect x="141.7" y="197.5" width="4.9" height="4.9" fill="#0000FF"/>
<rect x="110.3" y="221.4" width="4.2" height="4.2" fill="#000099" class="s"/>
<rect x="171.4" y="209.5" width="4.2" height="4.2" fill="#00CCFF" class="s"/>
<rect x="136.9" y="251.7" width="4.2" height="4.2" fill="#000099" class="s"/>
<rect x="132.4" y="233.5" width="4.2" height="4.2" fill="#000099" class="s"/>
<rect x="177.7" y="228.2" width="4.9" height="4.9" fill="#0000FF"/>
<rect x="149.2" y="250.4" width="4.2" height="4.2" fill="#000099" class="s"/>
<rect x="197.4" y="165.3" width="4.2" height="4.2" fill="#00CCFF" class="s"/>
<rect x="121" y="209.1" width="4.2" height="4.2" fill="#0099FF" class="s"/>
<rect x="172.3" y="196.1" width="4.9" height="4.9" fill="#0000FF"/>
<rect x="86.1" y="261.7" width="4.2" height="4.2" fill="#000099" class="s"/>
<rect x="133" y="243.6" width="4.2" height="4.2" fill="#0066FF" class="s"/>
<rect x="114.9" y="258.3" width="4.2" height="4.2" fill="#000099" class="s"/>
<rect x="147.1" y="251.6" width="4.9" height="4.9" fill="#0000FF"/>
<rect x="249.9" y="190.1" width="4.2" height="4.2" fill="#00FFFF" class="s"/>
<rect x="121.1" y="240" width="4.2" height="4.2" fill="#0066FF" class="s"/>
<rect x="131" y="232.9" width="4.2" height="4.2" fill="#000099" class="s"/>
<rect x="74.4" y="264.7" width="4.2" height="4.2" fill="#00CCFF" class="s"/>
<rect x="123.4" y="232.1" width="4.2" height="4.2" fill="#000099" class="s"/>
<rect x="206.9" y="164" width="4.2" height="4.2" fill="#00FFFF" class="s"/>
<rect x="201.1" y="165.4" width="4.2" height="4.2" fill="#0066FF" class="s"/>
<rect x="194.7" y="196.9" width="4.2" height="4.2" fill="#0099FF" class="s"/>
<rect x="182.5" y="130.2" width="4.2" height="4.2" fill="#00FFFF" class="s"/>
<rect x="138.2" y="236.6" width="4.2" height="4.2" fill="#000099" class="s"/>
<rect x="108.2" y="257.2" width="4.2" height="4.2" fill="#000099" class="s"/>
<rect x="142.5" y="253.5" width="4.2" height="4.2" fill="#000099" class="s"/>
<rect x="142.2" y="187.6" width="4.2" height="4.2" fill="#0066FF" class="s"/>
<rect x="249.8" y="187.7" width="4.2" height="4.2" fill="#00FFFF" class="s"/>
<rect x="133.7" y="201.7" width="4.2" height="4.2" fill="#000099" class="s"/>
<rect x="114.9" y="216.9" width="4.2" height="4.2" fill="#00FFFF" class="s"/>
<rect x="144.6" y="259" width="4.2" height="4.2" fill="#000099" class="s"/>
<rect x="128.1" y="215.6" width="4.2" height="4.2" fill="#000099" class="s"/>
<rect x="99" y="269.8" width="4.2" height="4.2" fill="#000099" class="s"/>
<rect x="100.6" y="267.7" width="4.2" height="4.2" fill="#000099" class="s"/>
<rect x="81.4" y="255.8" width="4.2" height="4.2" fill="#000099" class="s"/>
<rect x="171.5" y="214.6" width="4.2" height="4.2" fill="#00CCFF" class="s"/>
<rect x="221.2" y="110.6" width="4.2" height="4.2" fill="#00CCFF" class="s"/>
<rect x="174.5" y="190.2" width="4.9" height="4.9" fill="#0000FF"/>
<rect x="187.8" y="182.7" width="4.9" height="4.9" fill="#0000FF"/>
<rect x="159.8" y="253.1" width="4.2" height="4.2" fill="#000099" class="s"/>
<rect x="118.9" y="250.6" width="4.2" height="4.2" fill="#0066FF" class="s"/>
<rect x="130.7" y="228.8" width="4.2" height="4.2" fill="#000099" class="s"/>
<rect x="240.9" y="171.2" width="4.9" height="4.9" fill="#0000FF"/>
<rect x="150.1" y="204" width="4.9" height="4.9" fill="#0000FF"/>
<rect x="136.6" y="203.9" width="4.2" height="4.2" fill="#0066FF" class="s"/>
<rect x="158.4" y="209.5" width="4.9" height="4.9" fill="#0000FF"/>
<rect x="167.4" y="209.7" width="4.9" height="4.9" fill="#0000FF"/>
<rect x="223.4" y="189.1" width="4.2" height="4.2" fill="#00CCFF" class="s"/>
<rect x="184" y="177.4" width="4.2" height="4.2" fill="#0066FF" class="s"/>
<rect x="83.4" y="257.8" width="4.2" height="4.2" fill="#00CCFF" class="s"/>
<rect x="144.5" y="241.8" width="4.2" height="4.2" fill="#000099" class="s"/>
<rect x="78.2" y="272.6" width="4.2" height="4.2" fill="#000099" class="s"/>
<rect x="158.7" y="243.1" width="4.9" height="4.9" fill="#0000FF"/>
<rect x="179" y="189.1" width="4.2" height="4.2" fill="#00FFFF" class="s"/>
<rect x="178.8" y="182.9" width="4.2" height="4.2" fill="#0066FF" class="s"/>
<rect x="179.3" y="191.9" width="4.9" height="4.9" fill="#0000FF"/>
<rect x="88.6" y="258.9" width="4.2" height="4.2" fill="#000099" class="s"/>
<rect x="88.6" y="275.3" width="4.2" height="4.2" fill="#000099" class="s"/>
<rect x="108.3" y="242.4" width="4.2" height="4.2" fill="#000099" class="s"/>
<rect x="125.4" y="242.3" width="4.9" height="4.9" fill="#0000FF"/>
<rect x="145.7" y="222.1" width="4.9" height="4.9" fill="#0000FF"/>
<rect x="183.6" y="215.8" width="4.2" height="4.2" fill="#00FFFF" class="s"/>
<rect x="145.9" y="218.6" width="4.2" height="4.2" fill="#000099" class="s"/>
<rect x="91.7" y="244.3" width="4.9" height="4.9" fill="#0000FF"/>
<rect x="150.1" y="253.3" width="4.2" height="4.2" fill="#000099" class="s"/>
<rect x="151.5" y="208.9" width="4.2" height="4.2" fill="#00CCFF" class="s"/>
<rect x="107.6" y="225.4" width="4.9" height="4.9" fill="#0000FF"/>
<rect x="206.4" y="128.5" width="4.9" height="4.9" fill="#0000FF"/>
<rect x="160.5" y="187.2" width="4.2" height="4.2" fill="#00FFFF" class="s"/>
<rect x="130.9" y="244.2" width="4.2" height="4.2" fill="#000099" class="s"/>
<rect x="165" y="184.2" width="4.2" height="4.2" fill="#0099FF" class="s"/>
<rect x="118.2" y="216.1" width="4.9" height="4.9" fill="#0000FF"/>
<rect x="145.3" y="241.2" width="4.2" height="4.2" fill="#000099" class="s"/>
<rect x="101.9" y="249.3" width="4.9" height="4.9" fill="#0000FF"/>
<rect x="152.5" y="247.9" width="4.2" height="4.2" fill="#0066FF" class="s"/>
<rect x="99.7" y="276" width="4.2" height="4.2" fill="#000099" class="s"/>
<rect x="210.7" y="149.1" width="4.2" height="4.2" fill="#00CCFF" class="s"/>
<rect x="111.4" y="241.1" width="4.9" height="4.9" fill="#0000FF"/>
<rect x="151.8" y="204.4" width="4.2" height="4.2" fill="#00CCFF" class="s"/>
<rect x="102.3" y="242.8" width="4.2" height="4.2" fill="#000099" class="s"/>
<rect x="208.4" y="137.2" width="4.2" height="4.2" fill="#00FFFF" class="s"/>
<rect x="113.8" y="236.6" width="4.2" height="4.2" fill="#000099" class="s"/>
<rect x="210.8" y="167.1" width="4.2" height="4.2" fill="#000099" class="s"/>
<rect x="150.2" y="249.8" width="4.9" height="4.9" fill="#0000FF"/>
<rect x="190.1" y="155.1" width="4.2" height="4.2" fill="#0066FF" class="s"/>
<rect x="129.2" y="252.7" width="4.2" height="4.2" fill="#000099" class="s"/>
<rect x="114.7" y="252.7" width="4.2" height="4.2" fill="#0099FF" class="s"/>
<rect x="191.1" y="180.6" width="4.2" height="4.2" fill="#00FFFF" class="s"/>
<rect x="149.6" y="195.5" width="4.2" height="4.2" fill="#000099" class="s"/>
<rect x="175.8" y="199.9" width="4.9" height="4.9" fill="#0000FF"/>
<rect x="90.3" y="257.2" width="4.2" height="4.2" fill="#000099" class="s"/>
<rect x="164.7" y="182.7" width="4.2" height="4.2" fill="#000099" class="s"/>
<rect x="194.6" y="160" width="4.2" height="4.2" fill="#00CCFF" class="s"/>
<rect x="181.5" y="155.6" width="4.2" height="4.2" fill="#00FFFF" class="s"/>
<rect x="186.7" y="149.5" width="4.2" height="4.2" fill="#00FFFF" class="s"/>
<rect x="142.7" y="260.1" width="4.2" height="4.2" fill="#000099" class="s"/>
<rect x="169.9" y="204.6" width="4.9" height="4.9" fill="#0000FF"/>
<rect x="205.2" y="172.5" width="4.2" height="4.2" fill="#000099" class="s"/>
<rect x="132.6" y="254.7" width="4.2" height="4.2" fill="#000099" class="s"/>
<rect x="167" y="207.7" width="4.9" height="4.9" fill="#0000FF"/>
<rect x="178.5" y="167.9" width="4.2" height="4.2" fill="#00CCFF" class="s"/>
<rect x="97.6" y="228.7" width="4.9" height="4.9" fill="#0000FF"/>
<rect x="246.2" y="148.2" width="4.2" height="4.2" fill="#00CCFF" class="s"/>
<rect x="193.3" y="157.3" width="4.9" height="4.9" fill="#0000FF"/>
<rect x="95.1" y="252.5" width="4.2" height="4.2" fill="#00FFFF" class="s"/>
<rect x="73.6" y="258.7" width="4.2" height="4.2" fill="#000099" class="s"/>
<rect x="135.2" y="216.5" width="4.2" height="4.2" fill="#000099" class="s"/>
<rect x="80.5" y="268.5" width="4.2" height="4.2" fill="#000099" class="s"/>
<rect x="213.5" y="165.9" width="4.2" height="4.2" fill="#000099" class="s"/>
<rect x="75.1" y="265.9" width="4.2" height="4.2" fill="#000099" class="s"/>
<rect x="263.8" y="193.5" width="4.2" height="4.2" fill="#00CCFF" class="s"/>
<rect x="94.3" y="230.9" width="4.2" height="4.2" fill="#000099" class="s"/>
<rect x="100.7" y="250" width="4.2" height="4.2" fill="#000099" class="s"/>
<rect x="211.8" y="176.2" width="4.9" height="4.9" fill="#0000FF"/>
<rect x="181.4" y="216.7" width="4.2" height="4.2" fill="#000099" class="s"/>
<rect x="223.5" y="186.6" width="4.2" height="4.2" fill="#00CCFF" class="s"/>
<rect x="192.5" y="161.7" width="4.2" height="4.2" fill="#00FFFF" class="s"/>
<rect x="234" y="156" width="4.2" height="4.2" fill="#00FFFF" class="s"/>
<rect x="97.4" y="223.1" width="4.2" height="4.2" fill="#000099" class="s"/>
<rect x="96.4" y="264.4" width="4.2" height="4.2" fill="#000099" class="s"/>
<rect x="167.3" y="224.5" width="4.2" height="4.2" fill="#0099FF" class="s"/>
<rect x="224.1" y="171.2" width="4.2" height="4.2" fill="#00FFFF" class="s"/>
<rect x="197" y="179" width="4.2" height="4.2" fill="#00CCFF" class="s"/>
<rect x="199.3" y="173.1" width="4.2" height="4.2" fill="#0099FF" class="s"/>
<rect x="168.2" y="174.7" width="4.9" height="4.9" fill="#0000FF"/>
<rect x="167.1" y="233.8" width="4.9" height="4.9" fill="#0000FF"/>
<rect x="211.2" y="179.3" width="4.9" height="4.9" fill="#0000FF"/>
<rect x="152.3" y="211.4" width="4.2" height="4.2" fill="#0066FF" class="s"/>
<rect x="144.1" y="240.9" width="4.2" height="4.2" fill="#000099" class="s"/>
<rect x="160.4" y="168.3" width="4.9" height="4.9" fill="#0000FF"/>
<rect x="129.5" y="224" width="4.2" height="4.2" fill="#000099" class="s"/>
<rect x="92.8" y="243.3" width="4.2" height="4.2" fill="#000099" class="s"/>
<rect x="177.5" y="186.1" width="4.2" height="4.2" fill="#0099FF" class="s"/>
<rect x="172.5" y="219.4" width="4.9" height="4.9" fill="#0000FF"/>
<rect x="132.3" y="256.2" width="4.2" height="4.2" fill="#000099" class="s"/>
<rect x="118.4" y="235" width="4.2" height="4.2" fill="#000099" class="s"/>
<rect x="94.5" y="271.3" width="4.2" height="4.2" fill="#000099" class="s"/>
<rect x="194.2" y="197.4" width="4.2" height="4.2" fill="#00FFFF" class="s"/>
<rect x="185.6" y="151.9" width="4.2" height="4.2" fill="#00FFFF" class="s"/>
<rect x="194.9" y="202.5" width="4.2" height="4.2" fill="#000099" class="s"/>
<rect x="166.2" y="166.2" width="4.2" height="4.2" fill="#00FFFF" class="s"/>
<rect x="117.5" y="217.8" width="4.2" height="4.2" fill="#000099" class="s"/>
<rect x="126.9" y="206.3" width="4.2" height="4.2" fill="#000099" class="s"/>
<rect x="99.8" y="266.9" width="4.2" height="4.2" fill="#000099" class="s"/>
<rect x="113" y="240.3" width="4.2" height="4.2" fill="#0066FF" class="s"/>
<rect x="91" y="277.3" width="4.2" height="4.2" fill="#000099" class="s"/>
<rect x="217.9" y="159.7" width="4.2" height="4.2" fill="#00FFFF" class="s"/>
<rect x="226.3" y="180.2" width="4.9" height="4.9" fill="#0000FF"/>
<rect x="151.8" y="192.5" width="4.9" height="4.9" fill="#0000FF"/>
<rect x="111" y="247.2" width="4.2" height="4.2" fill="#000099" class="s"/>
<rect x="183.5" y="148" width="4.2" height="4.2" fill="#00FFFF" class="s"/>
<rect x="158.5" y="241.4" width="4.2" height="4.2" fill="#000099" class="s"/>
<rect x="96" y="258.4" width="4.2" height="4.2" fill="#000099" class="s"/>
<rect x="170.1" y="193.6" width="4.2" height="4.2" fill="#000099" class="s"/>
<rect x="197.5" y="176.7" width="4.2" height="4.2" fill="#00FFFF" class="s"/>
<rect x="136.5" y="216.6" width="4.2" height="4.2" fill="#000099" class="s"/>
<rect x="172.2" y="230" width="4.2" height="4.2" fill="#00CCFF" class="s"/>
<rect x="148.4" y="225.1" width="4.9" height="4.9" fill="#0000FF"/>
<rect x="197.1" y="160.3" width="4.2" height="4.2" fill="#00CCFF" class="s"/>
<rect x="150.7" y="203.9" width="4.9" height="4.9" fill="#0000FF"/>
<rect x="209.2" y="185.1" width="4.9" height="4.9" fill="#0000FF"/>
<rect x="183.2" y="183.2" width="4.2" height="4.2" fill="#0099FF" class="s"/>
<rect x="76.3" y="267.1" width="4.2" height="4.2" fill="#00CCFF" class="s"/>
<rect x="97.4" y="238.5" width="4.2" height="4.2" fill="#000099" class="s"/>
<rect x="209.1" y="200.1" width="4.2" height="4.2" fill="#00FFFF" class="s"/>
<rect x="126.8" y="211.5" width="4.9" height="4.9" fill="#0000FF"/>
<rect x="202.3" y="186.5" width="4.2" height="4.2" fill="#0099FF" class="s"/>
<rect x="96.5" y="260.5" width="4.2" height="4.2" fill="#000099" class="s"/>
<rect x="163" y="167.8" width="4.2" height="4.2" fill="#00CCFF" class="s"/>
<rect x="99.3" y="227.1" width="4.9" height="4.9" fill="#0000FF"/>
<rect x="227" y="186.4" width="4.9" height="4.9" fill="#0000FF"/>
<rect x="167.7" y="159.9" width="4.2" height="4.2" fill="#00CCFF" class="s"/>
<rect x="171.4" y="191.4" width="4.2" height="4.2" fill="#000099" class="s"/>
<rect x="214.5" y="122.8" width="4.2" height="4.2" fill="#0066FF" class="s"/>
<rect x="214.8" y="163.8" width="4.2" height="4.2" fill="#00FFFF" class="s"/>
<rect x="204.7" y="176.1" width="4.2" height="4.2" fill="#00CCFF" class="s"/>
<rect x="186.8" y="156.6" width="4.2" height="4.2" fill="#0099FF" class="s"/>
<rect x="103.1" y="223.4" width="4.2" height="4.2" fill="#00CCFF" class="s"/>
<rect x="255.8" y="196.7" width="4.2" height="4.2" fill="#00FFFF" class="s"/>
<rect x="194.9" y="179.4" width="4.2" height="4.2" fill="#00FFFF" class="s"/>
<rect x="187.9" y="153.8" width="4.2" height="4.2" fill="#00CCFF" class="s"/>
<rect x="120.4" y="229.3" width="4.2" height="4.2" fill="#000099" class="s"/>
<rect x="70.5" y="260.7" width="4.2" height="4.2" fill="#00CCFF" class="s"/>
<rect x="106.4" y="230.1" width="4.2" height="4.2" fill="#000099" class="s"/>
<rect x="83.1" y="273.3" width="4.2" height="4.2" fill="#000099" class="s"/>
<rect x="117.7" y="214.4" width="4.2" height="4.2" fill="#000099" class="s"/>
<rect x="94.6" y="266.1" width="4.2" height="4.2" fill="#000099" class="s"/>
<rect x="157" y="171.1" width="4.2" height="4.2" fill="#00FFFF" class="s"/>
<rect x="133.9" y="233.5" width="4.2" height="4.2" fill="#000099" class="s"/>
<rect x="142.1" y="249.2" width="4.9" height="4.9" fill="#0000FF"/>
<rect x="225.3" y="190.6" width="4.2" height="4.2" fill="#0099FF" class="s"/>
<rect x="137.9" y="219.6" width="4.2" height="4.2" fill="#000099" class="s"/>
<rect x="166" y="196" width="4.9" height="4.9" fill="#0000FF"/>
<rect x="139.5" y="258.2" width="4.2" height="4.2" fill="#000099" class="s"/>
<rect x="213.1" y="169.7" width="4.2" height="4.2" fill="#00FFFF" class="s"/>
<rect x="233.1" y="169.4" width="4.2" height="4.2" fill="#00CCFF" class="s"/>
<rect x="181.7" y="154" width="4.2" height="4.2" fill="#00FFFF" class="s"/>
<rect x="211.2" y="172.3" width="4.2" height="4.2" fill="#00CCFF" class="s"/>
<rect x="208" y="193.2" width="4.2" height="4.2" fill="#00FFFF" class="s"/>
<rect x="156.2" y="242.6" width="4.2" height="4.2" fill="#000099" class="s"/>
<rect x="147.3" y="215.6" width="4.2" height="4.2" fill="#00FFFF" class="s"/>
<rect x="208" y="184" width="4.2" height="4.2" fill="#00FFFF" class="s"/>
<rect x="204.5" y="106.2" width="4.2" height="4.2" fill="#00CCFF" class="s"/>
<rect x="130.2" y="210.9" width="4.2" height="4.2" fill="#00FFFF" class="s"/>
<rect x="216.3" y="182.7" width="4.2" height="4.2" fill="#00CCFF" class="s"/>
<rect x="302.4" y="217.7" width="4.2" height="4.2" fill="#00CCFF" class="s"/>
<rect x="176.9" y="225.4" width="4.2" height="4.2" fill="#000099" class="s"/>
<rect x="199.3" y="147.9" width="4.9" height="4.9" fill="#0000FF"/>
<rect x="227.9" y="193.6" width="4.9" height="4.9" fill="#0000FF"/>
<rect x="169.6" y="193.5" width="4.2" height="4.2" fill="#000099" class="s"/>
<rect x="201.2" y="135.2" width="4.9" height="4.9" fill="#0000FF"/>
<rect x="183.6" y="175.1" width="4.2" height="4.2" fill="#00FFFF" class="s"/>
<rect x="114.6" y="251.2" width="4.2" height="4.2" fill="#00CCFF" class="s"/>
<rect x="220.1" y="154.6" width="4.2" height="4.2" fill="#00CCFF" class="s"/>
<rect x="130.5" y="225" width="4.2" height="4.2" fill="#000099" class="s"/>
<rect x="93.5" y="239" width="4.2" height="4.2" fill="#000099" class="s"/>
<rect x="141.5" y="233.2" width="4.2" height="4.2" fill="#000099" class="s"/>
<rect x="234.9" y="164.6" width="4.2" height="4.2" fill="#00FFFF" class="s"/>
<rect x="180.4" y="213.2" width="4.2" height="4.2" fill="#0066FF" class="s"/>
<rect x="208" y="188.6" width="4.2" height="4.2" fill="#0066FF" class="s"/>
<rect x="84.1" y="248.1" width="4.2" height="4.2" fill="#000099" class="s"/>
<rect x="156" y="204.3" width="4.9" height="4.9" fill="#0000FF"/>
<rect x="97.6" y="234.7" width="4.2" height="4.2" fill="#000099" class="s"/>
<rect x="212.1" y="178.9" width="4.2" height="4.2" fill="#00CCFF" class="s"/>
<rect x="228.6" y="180.2" width="4.2" height="4.2" fill="#00CCFF" class="s"/>
<rect x="179.3" y="215.7" width="4.2" height="4.2" fill="#00CCFF" class="s"/>
<rect x="118.9" y="254.4" width="4.2" height="4.2" fill="#000099" class="s"/>
<rect x="172.9" y="196.6" width="4.9" height="4.9" fill="#0000FF"/>
<rect x="203.2" y="181.8" width="4.2" height="4.2" fill="#00FFFF" class="s"/>
<rect x="115.2" y="249" width="4.2" height="4.2" fill="#00FFFF" class="s"/>
<rect x="123.3" y="223.9" width="4.2" height="4.2" fill="#000099" class="s"/>
<rect x="151.3" y="244.4" width="4.2" height="4.2" fill="#00FFFF" class="s"/>
<rect x="192" y="174.6" width="4.2" height="4.2" fill="#0099FF" class="s"/>
<rect x="121.3" y="242.3" width="4.2" height="4.2" fill="#000099" class="s"/>
<rect x="82.5" y="275.9" width="4.2" height="4.2" fill="#000099" class="s"/>
<rect x="242" y="165.7" width="4.2" height="4.2" fill="#00FFFF" class="s"/>
<rect x="169.8" y="182.5" width="4.2" height="4.2" fill="#0066FF" class="s"/>
<rect x="167.6" y="197.6" width="4.9" height="4.9" fill="#0000FF"/>
<rect x="163.1" y="194.8" width="4.2" height="4.2" fill="#00CCFF" class="s"/>
<rect x="173.1" y="197.4" width="4.9" height="4.9" fill="#0000FF"/>
<rect x="116.4" y="254" width="4.2" height="4.2" fill="#0066FF" class="s"/>
<rect x="78.5" y="275.4" width="4.2" height="4.2" fill="#000099" class="s"/>
<rect x="176.5" y="206.6" width="4.2" height="4.2" fill="#00FFFF" class="s"/>
<rect x="124.3" y="257.7" width="4.2" height="4.2" fill="#000099" class="s"/>
<rect x="150.9" y="239.3" width="4.9" height="4.9" fill="#0000FF"/>
<rect x="165.3" y="185.5" width="4.2" height="4.2" fill="#0099FF" class="s"/>
<rect x="138.1" y="199.9" width="4.2" height="4.2" fill="#00CCFF" class="s"/>
<rect x="209.6" y="148.9" width="4.2" height="4.2" fill="#0066FF" class="s"/>
<rect x="108.4" y="255.4" width="4.2" height="4.2" fill="#000099" class="s"/>
<rect x="110.1" y="233.8" width="4.2" height="4.2" fill="#000099" class="s"/>
<rect x="158.8" y="194.2" width="4.2" height="4.2" fill="#0099FF" class="s"/>
<rect x="234.3" y="180.4" width="4.9" height="4.9" fill="#0000FF"/>
<rect x="137.7" y="195.5" width="4.2" height="4.2" fill="#00FFFF" class="s"/>
<rect x="211.4" y="246.2" width="4.2" height="4.2" fill="#0099FF" class="s"/>
<rect x="156.6" y="218" width="4.9" height="4.9" fill="#0000FF"/>
<rect x="260.9" y="183.7" width="4.2" height="4.2" fill="#00FFFF" class="s"/>
<rect x="213.3" y="181.5" width="4.2" height="4.2" fill="#00CCFF" class="s"/>
<rect x="136.6" y="221.7" width="4.2" height="4.2" fill="#000099" class="s"/>
<rect x="137.1" y="195" width="4.9" height="4.9" fill="#0000FF"/>
<rect x="196.3" y="206" width="4.2" height="4.2" fill="#000099" class="s"/>
<rect x="150.5" y="254.5" width="4.2" height="4.2" fill="#000099" class="s"/>
<rect x="223.6" y="172.1" width="4.2" height="4.2" fill="#0099FF" class="s"/>
<rect x="224.9" y="180.1" width="4.2" height="4.2" fill="#0099FF" class="s"/>
<rect x="87.9" y="279.7" width="4.9" height="4.9" fill="#0000FF"/>
<rect x="153" y="187.4" width="4.9" height="4.9" fill="#0000FF"/>
<rect x="142.5" y="249.7" width="4.2" height="4.2" fill="#000099" class="s"/>
<rect x="236.7" y="188.3" width="4.2" height="4.2" fill="#00FFFF" class="s"/>
<rect x="183.4" y="170.1" width="4.9" height="4.9" fill="#0000FF"/>
<rect x="120.3" y="225.6" width="4.2" height="4.2" fill="#000099" class="s"/>
<rect x="208.5" y="173.9" width="4.2" height="4.2" fill="#0099FF" class="s"/>
<rect x="204.8" y="156.8" width="4.9" height="4.9" fill="#0000FF"/>
<rect x="164" y="228.8" width="4.2" height="4.2" fill="#000099" class="s"/>
<rect x="140.3" y="226.4" width="4.2" height="4.2" fill="#000099" class="s"/>
<rect x="119.4" y="208.2" width="4.2" height="4.2" fill="#000099" class="s"/>
<rect x="202.6" y="131.7" width="4.2" height="4.2" fill="#0099FF" class="s"/>
<rect x="163.3" y="226.3" width="4.9" height="4.9" fill="#0000FF"/>
<rect x="97.7" y="253.7" width="4.2" height="4.2" fill="#000099" class="s"/>
<rect x="124.3" y="241.1" width="4.2" height="4.2" fill="#0099FF" class="s"/>
<rect x="87.3" y="283" width="4.2" height="4.2" fill="#000099" class="s"/>
<rect x="240.5" y="190.5" width="4.2" height="4.2" fill="#00FFFF" class="s"/>
<rect x="235.6" y="196.4" width="4.2" height="4.2" fill="#00CCFF" class="s"/>
<rect x="104.9" y="225.9" width="4.2" height="4.2" fill="#000099" class="s"/>
<rect x="165.6" y="196.4" width="4.9" height="4.9" fill="#0000FF"/>
<rect x="215" y="187" width="4.2" height="4.2" fill="#0099FF" class="s"/>
<rect x="171.7" y="169.7" width="4.9" height="4.9" fill="#0000FF"/>
<rect x="129.3" y="199.4" width="4.2" height="4.2" fill="#000099" class="s"/>
<rect x="176" y="183.9" width="4.2" height="4.2" fill="#00CCFF" class="s"/>
<rect x="91.5" y="275.3" width="4.9" height="4.9" fill="#0000FF"/>
<rect x="179" y="170.6" width="4.2" height="4.2" fill="#0066FF" class="s"/>
<rect x="107.9" y="251.6" width="4.2" height="4.2" fill="#000099" class="s"/>
<rect x="224.5" y="138.6" width="4.2" height="4.2" fill="#00FFFF" class="s"/>
<rect x="190.6" y="166.6" width="4.2" height="4.2" fill="#00FFFF" class="s"/>
<rect x="155.7" y="235.2" width="4.2" height="4.2" fill="#00CCFF" class="s"/>
<rect x="162.1" y="241.8" width="4.2" height="4.2" fill="#000099" class="s"/>
<rect x="158.6" y="202.6" width="4.2" height="4.2" fill="#000099" class="s"/>
<rect x="146.4" y="254" width="4.2" height="4.2" fill="#000099" class="s"/>
<rect x="228.2" y="200" width="4.2" height="4.2" fill="#0066FF" class="s"/>
<rect x="190.8" y="198.3" width="4.2" height="4.2" fill="#00FFFF" class="s"/>
<rect x="139.5" y="235.3" width="4.2" height="4.2" fill="#000099" class="s"/>
<rect x="236.4" y="200.5" width="4.2" height="4.2" fill="#00FFFF" class="s"/>
<rect x="206.5" y="163.8" width="4.2" height="4.2" fill="#00CCFF" class="s"/>
<rect x="148" y="230" width="4.2" height="4.2" fill="#000099" class="s"/>
<rect x="204.6" y="150.6" width="4.2" height="4.2" fill="#0066FF" class="s"/>
<rect x="212.2" y="158" width="4.2" height="4.2" fill="#00CCFF" class="s"/>
<rect x="88.8" y="232.9" width="4.2" height="4.2" fill="#00FFFF" class="s"/>
<rect x="102.1" y="235.6" width="4.2" height="4.2" fill="#000099" class="s"/>
<rect x="205.8" y="158" width="4.2" height="4.2" fill="#00FFFF" class="s"/>
<rect x="114.2" y="243.3" width="4.2" height="4.2" fill="#000099" class="s"/>
<rect x="168.3" y="182" width="4.2" height="4.2" fill="#000099" class="s"/>
<rect x="116.3" y="237.2" width="4.2" height="4.2" fill="#000099" class="s"/>
<rect x="95.7" y="238.6" width="4.2" height="4.2" fill="#000099" class="s"/>
<rect x="127.7" y="223.2" width="4.2" height="4.2" fill="#000099" class="s"/>
<rect x="93.5" y="259.7" width="4.2" height="4.2" fill="#000099" class="s"/>
<rect x="83.6" y="252.2" width="4.2" height="4.2" fill="#0099FF" class="s"/>
<rect x="85.2" y="263.8" width="4.2" height="4.2" fill="#000099" class="s"/>
<rect x="139.1" y="250" width="4.2" height="4.2" fill="#000099" class="s"/>
<rect x="210.6" y="171" width="4.2" height="4.2" fill="#000099" class="s"/>
<rect x="253.6" y="190" width="4.2" height="4.2" fill="#00FFFF" class="s"/>
<rect x="144.8" y="248.7" width="4.2" height="4.2" fill="#000099" class="s"/>
<rect x="126" y="236.6" width="4.2" height="4.2" fill="#000099" class="s"/>
<rect x="215.9" y="179.4" width="4.2" height="4.2" fill="#0066FF" class="s"/>
<rect x="117.9" y="259.3" width="4.2" height="4.2" fill="#0066FF" class="s"/>
<rect x="88.8" y="270.6" width="4.2" height="4.2" fill="#000099" class="s"/>
<rect x="173.4" y="204.5" width="4.2" height="4.2" fill="#00CCFF" class="s"/>
<rect x="207.5" y="157.6" width="4.2" height="4.2" fill="#0066FF" class="s"/>
<rect x="182.6" y="170.8" width="4.9" height="4.9" fill="#0000FF"/>
<rect x="154.8" y="190.8" width="4.9" height="4.9" fill="#0000FF"/>
<rect x="215.3" y="196.6" width="4.2" height="4.2" fill="#0099FF" class="s"/>
<rect x="127.8" y="233.3" width="4.2" height="4.2" fill="#0066FF" class="s"/>
<rect x="217.9" y="197" width="4.2" height="4.2" fill="#000099" class="s"/>
<rect x="144.3" y="246.1" width="4.2" height="4.2" fill="#000099" class="s"/>
<rect x="167.3" y="174.8" width="4.2" height="4.2" fill="#0099FF" class="s"/>
<rect x="158.8" y="197.5" width="4.2" height="4.2" fill="#000099" class="s"/>
<rect x="95.2" y="254.2" width="4.2" height="4.2" fill="#000099" class="s"/>
<rect x="96.3" y="236.6" width="4.2" height="4.2" fill="#000099" class="s"/>
<rect x="124.5" y="236.2" width="4.2" height="4.2" fill="#0066FF" class="s"/>
<rect x="187.8" y="183.8" width="4.2" height="4.2" fill="#00CCFF" class="s"/>
<rect x="143.8" y="195.5" width="4.9" height="4.9" fill="#0000FF"/>
<rect x="216.2" y="182.8" width="4.9" height="4.9" fill="#0000FF"/>
<rect x="145.4" y="227.9" width="4.9" height="4.9" fill="#0000FF"/>
<rect x="120.8" y="184.6" width="4.2" height="4.2" fill="#00FFFF" class="s"/>
<rect x="170.1" y="202.4" width="4.2" height="4.2" fill="#0066FF" class="s"/>
<rect x="276.7" y="172.5" width="4.2" height="4.2" fill="#00FFFF" class="s"/>
<rect x="89.4" y="280" width="4.2" height="4.2" fill="#000099" class="s"/>
<rect x="228.8" y="191.5" width="4.2" height="4.2" fill="#00FFFF" class="s"/>
<rect x="110.3" y="241.9" width="4.2" height="4.2" fill="#000099" class="s"/>
<rect x="110.5" y="216.1" width="4.2" height="4.2" fill="#000099" class="s"/>
<rect x="89.5" y="260.4" width="4.2" height="4.2" fill="#000099" class="s"/>
<rect x="129.7" y="226.2" width="4.2" height="4.2" fill="#000099" class="s"/>
<rect x="113.3" y="238.8" width="4.2" height="4.2" fill="#000099" class="s"/>
<rect x="187.4" y="138.6" width="4.2" height="4.2" fill="#00CCFF" class="s"/>
<rect x="164.9" y="166.5" width="4.2" height="4.2" fill="#00CCFF" class="s"/>
<rect x="150.1" y="226.7" width="4.9" height="4.9" fill="#0000FF"/>
<rect x="95.7" y="224.7" width="4.2" height="4.2" fill="#0099FF" class="s"/>
<rect x="141.1" y="205.8" width="4.2" height="4.2" fill="#00CCFF" class="s"/>
<rect x="158.8" y="200" width="4.2" height="4.2" fill="#000099" class="s"/>
<rect x="196" y="148.4" width="4.9" height="4.9" fill="#0000FF"/>
<rect x="267.5" y="186.5" width="4.2" height="4.2" fill="#0099FF" class="s"/>
<rect x="185.7" y="206.5" width="4.2" height="4.2" fill="#000099" class="s"/>
<rect x="261.7" y="187.4" width="4.2" height="4.2" fill="#000099" class="s"/>
<rect x="169.5" y="182.7" width="4.9" height="4.9" fill="#0000FF"/>
<rect x="116.8" y="212.5" width="4.2" height="4.2" fill="#000099" class="s"/>
<rect x="107.1" y="219.9" width="4.2" height="4.2" fill="#00FFFF" class="s"/>
<rect x="100.3" y="260.9" width="4.9" height="4.9" fill="#0000FF"/>
<rect x="94.7" y="254.3" width="4.2" height="4.2" fill="#000099" class="s"/>
<rect x="119.3" y="239.2" width="4.9" height="4.9" fill="#0000FF"/>
<rect x="128.6" y="235.5" width="4.2" height="4.2" fill="#000099" class="s"/>
<rect x="169" y="217" width="4.2" height="4.2" fill="#0066FF" class="s"/>
<rect x="149.1" y="202" width="4.9" height="4.9" fill="#0000FF"/>
<rect x="259.8" y="190.9" width="4.2" height="4.2" fill="#00FFFF" class="s"/>
<rect x="229.5" y="182.2" width="4.2" height="4.2" fill="#00CCFF" class="s"/>
<rect x="208.9" y="253.2" width="4.2" height="4.2" fill="#000099" class="s"/>
<rect x="252" y="189.3" width="4.2" height="4.2" fill="#00FFFF" class="s"/>
<rect x="130.2" y="256.7" width="4.2" height="4.2" fill="#000099" class="s"/>
<rect x="141.5" y="254.6" width="4.2" height="4.2" fill="#000099" class="s"/>
<rect x="164.9" y="172.2" width="4.2" height="4.2" fill="#0066FF" class="s"/>
<rect x="171.8" y="228.6" width="4.2" height="4.2" fill="#00CCFF" class="s"/>
<rect x="266.3" y="188" width="4.2" height="4.2" fill="#00FFFF" class="s"/>
<rect x="95.3" y="283.7" width="4.2" height="4.2" fill="#000099" class="s"/>
<rect x="160.8" y="179.4" width="4.9" height="4.9" fill="#0000FF"/>
<rect x="102.8" y="255.7" width="4.9" height="4.9" fill="#0000FF"/>
<rect x="105.3" y="232.3" width="4.9" height="4.9" fill="#0000FF"/>
<rect x="179.7" y="216.2" width="4.2" height="4.2" fill="#000099" class="s"/>
<rect x="73.4" y="233.7" width="4.2" height="4.2" fill="#00FFFF" class="s"/>
<rect x="120.4" y="240.7" width="4.2" height="4.2" fill="#000099" class="s"/>
<rect x="268" y="183.5" width="4.2" height="4.2" fill="#00CCFF" class="s"/>
<rect x="179.9" y="156.3" width="4.2" height="4.2" fill="#0099FF" class="s"/>
<rect x="171" y="181.9" width="4.2" height="4.2" fill="#0066FF" class="s"/>
<rect x="189.3" y="194.7" width="4.2" height="4.2" fill="#00CCFF" class="s"/>
<rect x="164" y="242.7" width="4.2" height="4.2" fill="#00CCFF" class="s"/>
<rect x="87.7" y="272.7" width="4.2" height="4.2" fill="#000099" class="s"/>
<rect x="210" y="172.1" width="4.2" height="4.2" fill="#00FFFF" class="s"/>
<rect x="99.3" y="262.8" width="4.2" height="4.2" fill="#000099" class="s"/>
<rect x="84.9" y="255.1" width="4.2" height="4.2" fill="#00CCFF" class="s"/>
<rect x="231" y="174.4" width="4.2" height="4.2" fill="#00CCFF" class="s"/>
<rect x="181.1" y="192.9" width="4.2" height="4.2" fill="#0066FF" class="s"/>
<rect x="200" y="179.1" width="4.2" height="4.2" fill="#00FFFF" class="s"/>
<rect x="217.6" y="189.9" width="4.2" height="4.2" fill="#00CCFF" class="s"/>
<rect x="235.8" y="178.4" width="4.2" height="4.2" fill="#00FFFF" class="s"/>
<rect x="166.5" y="222" width="4.2" height="4.2" fill="#0099FF" class="s"/>
<rect x="219.1" y="181.6" width="4.2" height="4.2" fill="#00FFFF" class="s"/>
<rect x="90.2" y="263.2" width="4.2" height="4.2" fill="#000099" class="s"/>
<rect x="227.4" y="160.2" width="4.2" height="4.2" fill="#0066FF" class="s"/>
<rect x="202.9" y="158.5" width="4.2" height="4.2" fill="#00CCFF" class="s"/>
<rect x="111.3" y="253.7" width="4.2" height="4.2" fill="#000099" class="s"/>
<rect x="84.5" y="251.4" width="4.2" height="4.2" fill="#00FFFF" class="s"/>
<rect x="126.7" y="258.9" width="4.2" height="4.2" fill="#000099" class="s"/>
<rect x="211.9" y="178.1" width="4.2" height="4.2" fill="#000099" class="s"/>
<rect x="200.4" y="170.5" width="4.2" height="4.2" fill="#00FFFF" class="s"/>
<rect x="214.4" y="153.1" width="4.2" height="4.2" fill="#00CCFF" class="s"/>
<rect x="174.7" y="232.1" width="4.2" height="4.2" fill="#00CCFF" class="s"/>
<rect x="144.5" y="242.3" width="4.2" height="4.2" fill="#000099" class="s"/>
<rect x="280.8" y="196.4" width="4.2" height="4.2" fill="#00CCFF" class="s"/>
<rect x="196.5" y="200.1" width="4.9" height="4.9" fill="#0000FF"/>
<rect x="153.1" y="221.3" width="4.9" height="4.9" fill="#0000FF"/>
<rect x="139.7" y="227.5" width="4.2" height="4.2" fill="#000099" class="s"/>
<rect x="126.1" y="248.3" width="4.2" height="4.2" fill="#000099" class="s"/>
<rect x="281.8" y="192.7" width="4.2" height="4.2" fill="#00FFFF" class="s"/>
<rect x="111.1" y="222.9" width="4.2" height="4.2" fill="#000099" class="s"/>
<rect x="233.4" y="179.8" width="4.9" height="4.9" fill="#0000FF"/>
<rect x="164" y="244.5" width="4.2" height="4.2" fill="#000099" class="s"/>
<rect x="202" y="151.8" width="4.2" height="4.2" fill="#00FFFF" class="s"/>
<rect x="255" y="196.1" width="4.2" height="4.2" fill="#00CCFF" class="s"/>
<rect x="135" y="217.3" width="4.2" height="4.2" fill="#000099" class="s"/>
<rect x="153.1" y="216.9" width="4.2" height="4.2" fill="#000099" class="s"/>
<rect x="216.5" y="174.8" width="4.2" height="4.2" fill="#00FFFF" class="s"/>
<rect x="203.9" y="145.3" width="4.2" height="4.2" fill="#00CCFF" class="s"/>
<rect x="123.6" y="235.8" width="4.2" height="4.2" fill="#000099" class="s"/>
<rect x="99.1" y="236.1" width="4.2" height="4.2" fill="#000099" class="s"/>
<rect x="88.6" y="284.2" width="4.2" height="4.2" fill="#000099" class="s"/>
<rect x="128.2" y="231" width="4.2" height="4.2" fill="#000099" class="s"/>
<rect x="185.4" y="197.9" width="4.2" height="4.2" fill="#000099" class="s"/>
<rect x="92.5" y="260.9" width="4.2" height="4.2" fill="#000099" class="s"/>
<rect x="188.9" y="201.7" width="4.9" height="4.9" fill="#0000FF"/>
<rect x="78.4" y="273.1" width="4.2" height="4.2" fill="#000099" class="s"/>
<rect x="86.7" y="278.9" width="4.2" height="4.2" fill="#000099" class="s"/>
<rect x="177.9" y="221.8" width="4.2" height="4.2" fill="#0066FF" class="s"/>
<rect x="122.4" y="253" width="4.2" height="4.2" fill="#000099" class="s"/>
<rect x="136.3" y="226" width="4.2" height="4.2" fill="#000099" class="s"/>
<rect x="152.7" y="241.4" width="4.2" height="4.2" fill="#000099" class="s"/>
<rect x="170.6" y="174.1" width="4.9" height="4.9" fill="#0000FF"/>
<rect x="209" y="192.8" width="4.2" height="4.2" fill="#000099" class="s"/>
<rect x="117.8" y="259.5" width="4.2" height="4.2" fill="#000099" class="s"/>
<rect x="152.1" y="214.9" width="4.2" height="4.2" fill="#0066FF" class="s"/>
<rect x="145.9" y="208.4" width="4.2" height="4.2" fill="#000099" class="s"/>
<rect x="187.3" y="209.1" width="4.2" height="4.2" fill="#00CCFF" class="s"/>
<rect x="151.3" y="188.4" width="4.2" height="4.2" fill="#000099" class="s"/>
<rect x="104.8" y="231.1" width="4.2" height="4.2" fill="#000099" class="s"/>
<rect x="166.1" y="180.1" width="4.9" height="4.9" fill="#0000FF"/>
<rect x="157.6" y="229.2" width="4.2" height="4.2" fill="#00FFFF" class="s"/>
<rect x="158.9" y="208.3" width="4.9" height="4.9" fill="#0000FF"/>
<rect x="177.5" y="226.5" width="4.2" height="4.2" fill="#00FFFF" class="s"/>
<rect x="133.2" y="218" width="4.2" height="4.2" fill="#000099" class="s"/>
<rect x="155.3" y="189.5" width="4.2" height="4.2" fill="#0066FF" class="s"/>
<rect x="142.1" y="240" width="4.2" height="4.2" fill="#000099" class="s"/>
<rect x="199.2" y="182.4" width="4.2" height="4.2" fill="#0066FF" class="s"/>
<rect x="216.2" y="181.1" width="4.2" height="4.2" fill="#0099FF" class="s"/>
<rect x="98" y="283" width="4.2" height="4.2" fill="#000099" class="s"/>
<rect x="149.5" y="198.3" width="4.2" height="4.2" fill="#000099" class="s"/>
<rect x="145.9" y="185.1" width="4.9" height="4.9" fill="#0000FF"/>
<rect x="91.2" y="244.5" width="4.2" height="4.2" fill="#000099" class="s"/>
<rect x="128.4" y="212.5" width="4.2" height="4.2" fill="#000099" class="s"/>
<rect x="164.6" y="200.5" width="4.9" height="4.9" fill="#0000FF"/>
<rect x="113.6" y="220" width="4.2" height="4.2" fill="#00CCFF" class="s"/>
<rect x="106.9" y="226.6" width="4.2" height="4.2" fill="#000099" class="s"/>
<rect x="153" y="211.5" width="4.9" height="4.9" fill="#0000FF"/>
<rect x="157.8" y="193.6" width="4.2" height="4.2" fill="#0066FF" class="s"/>
<rect x="154.6" y="226.7" width="4.2" height="4.2" fill="#00FFFF" class="s"/>
<rect x="111.8" y="213.1" width="4.2" height="4.2" fill="#000099" class="s"/>
<rect x="162.8" y="225.3" width="4.2" height="4.2" fill="#000099" class="s"/>
<rect x="110.3" y="253.5" width="4.2" height="4.2" fill="#000099" class="s"/>
<rect x="117.1" y="219.7" width="4.2" height="4.2" fill="#000099" class="s"/>
<rect x="128.2" y="239.5" width="4.2" height="4.2" fill="#000099" class="s"/>
<rect x="269.3" y="184.5" width="4.2" height="4.2" fill="#000099" class="s"/>
<rect x="96.2" y="239.8" width="4.2" height="4.2" fill="#000099" class="s"/>
<rect x="200" y="200.8" width="4.9" height="4.9" fill="#0000FF"/>
<rect x="125.6" y="255" width="4.2" height="4.2" fill="#000099" class="s"/>
<rect x="239.9" y="166.4" width="4.2" height="4.2" fill="#00FFFF" class="s"/>
<rect x="99.3" y="281.5" width="4.2" height="4.2" fill="#00FFFF" class="s"/>
<rect x="205.2" y="176.8" width="4.2" height="4.2" fill="#00FFFF" class="s"/>
<rect x="125.2" y="259.8" width="4.2" height="4.2" fill="#000099" class="s"/>
<rect x="144.9" y="208" width="4.9" height="4.9" fill="#0000FF"/>
<rect x="147" y="254.1" width="4.9" height="4.9" fill="#0000FF"/>
<rect x="118.4" y="220.6" width="4.2" height="4.2" fill="#000099" class="s"/>
<rect x="154.3" y="171.7" width="4.2" height="4.2" fill="#00CCFF" class="s"/>
<rect x="202" y="178.6" width="4.2" height="4.2" fill="#0099FF" class="s"/>
<rect x="119.4" y="223.3" width="4.2" height="4.2" fill="#000099" class="s"/>
<rect x="78.5" y="260" width="4.2" height="4.2" fill="#00CCFF" class="s"/>
<rect x="152.4" y="208.6" width="4.9" height="4.9" fill="#0000FF"/>
<rect x="203.5" y="177.5" width="4.2" height="4.2" fill="#000099" class="s"/>
<rect x="198.9" y="144.1" width="4.2" height="4.2" fill="#00FFFF" class="s"/>
<rect x="215.9" y="126.2" width="4.2" height="4.2" fill="#00FFFF" class="s"/>
<rect x="209.5" y="152.1" width="4.2" height="4.2" fill="#00CCFF" class="s"/>
<rect x="128.2" y="214.1" width="4.2" height="4.2" fill="#0099FF" class="s"/>
<rect x="123.6" y="256.6" width="4.2" height="4.2" fill="#000099" class="s"/>
<rect x="104.6" y="238.3" width="4.2" height="4.2" fill="#000099" class="s"/>
<rect x="164.2" y="188.4" width="4.2" height="4.2" fill="#000099" class="s"/>
<rect x="163.3" y="185.4" width="4.2" height="4.2" fill="#000099" class="s"/>
<rect x="122.4" y="216.8" width="4.2" height="4.2" fill="#0099FF" class="s"/>
<rect x="87.2" y="239.7" width="4.2" height="4.2" fill="#00FFFF" class="s"/>
<rect x="187.5" y="204.9" width="4.2" height="4.2" fill="#0066FF" class="s"/>
<rect x="148.6" y="246.9" width="4.2" height="4.2" fill="#000099" class="s"/>
<rect x="160.7" y="205.8" width="4.2" height="4.2" fill="#0099FF" class="s"/>
<rect x="146.5" y="237.1" width="4.2" height="4.2" fill="#000099" class="s"/>
<rect x="121.3" y="214.8" width="4.2" height="4.2" fill="#000099" class="s"/>
<rect x="202.9" y="171" width="4.2" height="4.2" fill="#00CCFF" class="s"/>
<rect x="97.6" y="273.6" width="4.2" height="4.2" fill="#000099" class="s"/>
<rect x="210.9" y="220.2" width="4.2" height="4.2" fill="#0099FF" class="s"/>
<rect x="196" y="156.9" width="4.9" height="4.9" fill="#0000FF"/>
<rect x="178.6" y="195.4" width="4.9" height="4.9" fill="#0000FF"/>
<rect x="138.4" y="224.1" width="4.2" height="4.2" fill="#000099" class="s"/>
<rect x="197.1" y="169.9" width="4.9" height="4.9" fill="#0000FF"/>
<rect x="161.4" y="239.6" width="4.2" height="4.2" fill="#0066FF" class="s"/>
<rect x="168.6" y="231.6" width="4.2" height="4.2" fill="#0099FF" class="s"/>
<rect x="141.5" y="207.1" width="4.9" height="4.9" fill="#0000FF"/>
<rect x="175" y="222.8" width="4.2" height="4.2" fill="#0099FF" class="s"/>
<rect x="92.9" y="245.3" width="4.2" height="4.2" fill="#000099" class="s"/>
<rect x="261.4" y="164.7" width="4.2" height="4.2" fill="#00CCFF" class="s"/>
<rect x="82" y="278.8" width="4.2" height="4.2" fill="#000099" class="s"/>
<rect x="121.1" y="215.5" width="4.2" height="4.2" fill="#000099" class="s"/>
<rect x="148.3" y="240.9" width="4.2" height="4.2" fill="#000099" class="s"/>
<rect x="211.9" y="207.2" width="4.2" height="4.2" fill="#000099" class="s"/>
<rect x="176.7" y="164.1" width="4.2" height="4.2" fill="#00CCFF" class="s"/>
<rect x="200.4" y="193.1" width="4.2" height="4.2" fill="#00CCFF" class="s"/>
<rect x="160.2" y="175.5" width="4.2" height="4.2" fill="#00CCFF" class="s"/>
<rect x="78.5" y="275.4" width="4.2" height="4.2" fill="#000099" class="s"/>
<rect x="172" y="176.3" width="4.2" height="4.2" fill="#000099" class="s"/>
<rect x="206.7" y="151.7" width="4.2" height="4.2" fill="#00FFFF" class="s"/>
<rect x="83.6" y="254.7" width="4.2" height="4.2" fill="#000099" class="s"/>
<rect x="143.3" y="240.3" width="4.2" height="4.2" fill="#000099" class="s"/>
<rect x="110.1" y="247.3" width="4.2" height="4.2" fill="#000099" class="s"/>
<rect x="162.1" y="195.9" width="4.2" height="4.2" fill="#0099FF" class="s"/>
<rect x="82.5" y="258.2" width="4.2" height="4.2" fill="#000099" class="s"/>
<rect x="233.3" y="164.9" width="4.2" height="4.2" fill="#00FFFF" class="s"/>
<rect x="263.3" y="223.2" width="4.2" height="4.2" fill="#00FFFF" class="s"/>
<rect x="184.4" y="156.6" width="4.2" height="4.2" fill="#00FFFF" class="s"/>
<rect x="288.4" y="197.9" width="4.2" height="4.2" fill="#00FFFF" class="s"/>
<rect x="154.7" y="223.4" width="4.9" height="4.9" fill="#0000FF"/>
<rect x="124.6" y="206.4" width="4.2" height="4.2" fill="#000099" class="s"/>
<rect x="160.9" y="220.7" width="4.2" height="4.2" fill="#00CCFF" class="s"/>
<rect x="145.7" y="258.6" width="4.2" height="4.2" fill="#000099" class="s"/>
<rect x="112.2" y="234.1" width="4.2" height="4.2" fill="#000099" class="s"/>
<rect x="178.4" y="152" width="4.2" height="4.2" fill="#00FFFF" class="s"/>
<rect x="141.3" y="218.2" width="4.9" height="4.9" fill="#0000FF"/>
<rect x="185.7" y="172.1" width="4.9" height="4.9" fill="#0000FF"/>
<rect x="113.2" y="256.4" width="4.2" height="4.2" fill="#000099" class="s"/>
<rect x="168.6" y="178" width="4.2" height="4.2" fill="#000099" class="s"/>
<rect x="128.3" y="235.9" width="4.2" height="4.2" fill="#000099" class="s"/>
<rect x="180.7" y="217" width="4.2" height="4.2" fill="#0066FF" class="s"/>
<rect x="238.4" y="130.3" width="4.2" height="4.2" fill="#00CCFF" class="s"/>
<rect x="126" y="242.8" width="4.2" height="4.2" fill="#000099" class="s"/>
<rect x="138.6" y="235.7" width="4.2" height="4.2" fill="#000099" class="s"/>
<rect x="224.2" y="187.8" width="4.2" height="4.2" fill="#00FFFF" class="s"/>
<rect x="201.7" y="127.8" width="4.2" height="4.2" fill="#00FFFF" class="s"/>
<rect x="84.4" y="274.8" width="4.2" height="4.2" fill="#000099" class="s"/>
<rect x="166.8" y="199.4" width="4.2" height="4.2" fill="#000099" class="s"/>
<rect x="92.1" y="271.5" width="4.2" height="4.2" fill="#000099" class="s"/>
<rect x="96.2" y="233" width="4.9" height="4.9" fill="#0000FF"/>
<rect x="181.5" y="159.4" width="4.2" height="4.2" fill="#000099" class="s"/>
<rect x="153.3" y="249.5" width="4.2" height="4.2" fill="#000099" class="s"/>
<rect x="121.1" y="222.9" width="4.2" height="4.2" fill="#000099" class="s"/>
<rect x="231.2" y="194.3" width="4.9" height="4.9" fill="#0000FF"/>
<rect x="165.3" y="188.6" width="4.9" height="4.9" fill="#0000FF"/>
<rect x="180.7" y="213.1" width="4.2" height="4.2" fill="#000099" class="s"/>
<rect x="91.5" y="265.9" width="4.9" height="4.9" fill="#0000FF"/>
<rect x="225.5" y="195.8" width="4.2" height="4.2" fill="#00FFFF" class="s"/>
<rect x="176.7" y="205.6" width="4.2" height="4.2" fill="#0066FF" class="s"/>
<rect x="112.4" y="227.3" width="4.2" height="4.2" fill="#000099" class="s"/>
<rect x="124" y="229.8" width="4.2" height="4.2" fill="#000099" class="s"/>
<rect x="90.6" y="269.4" width="4.2" height="4.2" fill="#000099" class="s"/>
<rect x="127.6" y="217.9" width="4.2" height="4.2" fill="#000099" class="s"/>
<rect x="111.3" y="240.1" width="4.2" height="4.2" fill="#000099" class="s"/>
<rect x="132.9" y="224.9" width="4.2" height="4.2" fill="#000099" class="s"/>
<rect x="176.8" y="192" width="4.2" height="4.2" fill="#000099" class="s"/>
<rect x="90.1" y="236.4" width="4.2" height="4.2" fill="#0099FF" class="s"/>
<rect x="150.7" y="181.9" width="4.2" height="4.2" fill="#0099FF" class="s"/>
<rect x="119.2" y="201.2" width="4.2" height="4.2" fill="#00CCFF" class="s"/>
<rect x="106.1" y="225.2" width="4.2" height="4.2" fill="#00CCFF" class="s"/>
<rect x="99" y="259.3" width="4.2" height="4.2" fill="#000099" class="s"/>
<rect x="267.2" y="190.2" width="4.2" height="4.2" fill="#00FFFF" class="s"/>
<rect x="188.8" y="194.2" width="4.2" height="4.2" fill="#0099FF" class="s"/>
<rect x="132.8" y="230.9" width="4.9" height="4.9" fill="#0000FF"/>
<rect x="172.7" y="206.2" width="4.2" height="4.2" fill="#0099FF" class="s"/>
<rect x="215.1" y="182.8" width="4.2" height="4.2" fill="#000099" class="s"/>
<rect x="174" y="199.9" width="4.9" height="4.9" fill="#0000FF"/>
<rect x="202.3" y="141.3" width="4.2" height="4.2" fill="#0066FF" class="s"/>
<rect x="82.2" y="281.5" width="4.9" height="4.9" fill="#0000FF"/>
<rect x="93.5" y="284.2" width="4.2" height="4.2" fill="#000099" class="s"/>
<rect x="154.8" y="248.9" width="4.2" height="4.2" fill="#000099" class="s"/>
<rect x="222.1" y="141.3" width="4.2" height="4.2" fill="#00CCFF" class="s"/>
<rect x="145" y="216.3" width="4.2" height="4.2" fill="#00CCFF" class="s"/>
<rect x="170.7" y="182.2" width="4.2" height="4.2" fill="#0066FF" class="s"/>
<rect x="243.7" y="222.6" width="4.2" height="4.2" fill="#000099" class="s"/>
<rect x="194.3" y="152.6" width="4.2" height="4.2" fill="#00CCFF" class="s"/>
<rect x="144.3" y="211.8" width="4.9" height="4.9" fill="#0000FF"/>
<rect x="131.7" y="259.5" width="4.2" height="4.2" fill="#000099" class="s"/>
<rect x="128.5" y="212.5" width="4.2" height="4.2" fill="#000099" class="s"/>
<rect x="171.8" y="219.9" width="4.9" height="4.9" fill="#0000FF"/>
<rect x="179" y="200.8" width="4.2" height="4.2" fill="#0099FF" class="s"/>
<rect x="147.2" y="217.4" width="4.2" height="4.2" fill="#00FFFF" class="s"/>
<rect x="101.5" y="242.2" width="4.2" height="4.2" fill="#000099" class="s"/>
<rect x="124.7" y="241.1" width="4.2" height="4.2" fill="#000099" class="s"/>
<rect x="187" y="191.9" width="4.2" height="4.2" fill="#00FFFF" class="s"/>
<rect x="102.8" y="246.7" width="4.2" height="4.2" fill="#000099" class="s"/>
<rect x="128.1" y="246.9" width="4.2" height="4.2" fill="#000099" class="s"/>
<rect x="133.5" y="237.8" width="4.2" height="4.2" fill="#000099" class="s"/>
<rect x="152.6" y="159.9" width="4.2" height="4.2" fill="#00CCFF" class="s"/>
<rect x="198.3" y="183.3" width="4.2" height="4.2" fill="#0099FF" class="s"/>
<rect x="154.3" y="206.3" width="4.9" height="4.9" fill="#0000FF"/>
<rect x="135.5" y="196.9" width="4.2" height="4.2" fill="#0099FF" class="s"/>
<rect x="159.2" y="215.3" width="4.9" height="4.9" fill="#0000FF"/>
<rect x="176.3" y="183.6" width="4.2" height="4.2" fill="#000099" class="s"/>
<rect x="120" y="246.6" width="4.2" height="4.2" fill="#000099" class="s"/>
<rect x="156.4" y="238.9" width="4.2" height="4.2" fill="#000099" class="s"/>
<rect x="214.6" y="192.4" width="4.2" height="4.2" fill="#00FFFF" class="s"/>
<rect x="117.2" y="209.3" width="4.2" height="4.2" fill="#000099" class="s"/>
<rect x="152.6" y="222.1" width="4.2" height="4.2" fill="#0066FF" class="s"/>
<rect x="147.1" y="180.5" width="4.2" height="4.2" fill="#00CCFF" class="s"/>
<rect x="126.5" y="238.7" width="4.2" height="4.2" fill="#000099" class="s"/>
<rect x="124.8" y="207.3" width="4.2" height="4.2" fill="#000099" class="s"/>
<rect x="208.4" y="196.3" width="4.2" height="4.2" fill="#00FFFF" class="s"/>
<rect x="228.4" y="189" width="4.2" height="4.2" fill="#00FFFF" class="s"/>
<rect x="231.7" y="187" width="4.2" height="4.2" fill="#00CCFF" class="s"/>
<rect x="150.1" y="218.9" width="4.2" height="4.2" fill="#000099" class="s"/>
<rect x="180.3" y="208.2" width="4.2" height="4.2" fill="#000099" class="s"/>
<rect x="238" y="198.2" width="4.2" height="4.2" fill="#000099" class="s"/>
<rect x="147" y="228.5" width="4.9" height="4.9" fill="#0000FF"/>
<rect x="149.3" y="229.9" width="4.2" height="4.2" fill="#000099" class="s"/>
<rect x="148" y="202.4" width="4.9" height="4.9" fill="#0000FF"/>
<rect x="120.3" y="229.3" width="4.2" height="4.2" fill="#0099FF" class="s"/>
<rect x="211.2" y="128.1" width="4.2" height="4.2" fill="#00FFFF" class="s"/>
<circle cx="149.3" cy="181.9" r="2.35" fill="#FFFF99" class="c"/>
<circle cx="231.1" cy="178" r="2.35" fill="#CCFF99" class="c"/>
<circle cx="234.4" cy="162.9" r="2.35" fill="#FFFF99" class="c"/>
<circle cx="241.2" cy="130" r="2.35" fill="#FF3399" class="c"/>
<circle cx="136.6" cy="176.3" r="2.35" fill="#FFFF3C" class="c"/>
<circle cx="247.2" cy="121.2" r="2.35" fill="#FF0066" class="c"/>
<circle cx="271.1" cy="158.9" r="2.35" fill="#FF6699" class="c"/>
<circle cx="287.6" cy="238" r="2.35" fill="#FF9999" class="c"/>
<circle cx="282.9" cy="179.7" r="2.35" fill="#FF0066" class="c"/>
<circle cx="224.9" cy="134.4" r="2.35" fill="#FFCC66" class="c"/>
<circle cx="236.5" cy="190.7" r="2.35" fill="#FF6699" class="c"/>
<circle cx="204.7" cy="149.5" r="2.35" fill="#FFFF99" class="c"/>
<circle cx="248.8" cy="120.3" r="2.35" fill="#FF3399" class="c"/>
<circle cx="219.3" cy="104.7" r="2.35" fill="#FF3399" class="c"/>
<circle cx="155.6" cy="215.1" r="2.35" fill="#FFFF3C" class="c"/>
<circle cx="198.3" cy="128.3" r="2.35" fill="#FF6699" class="c"/>
<circle cx="241.8" cy="131.9" r="2.35" fill="#FF3399" class="c"/>
<circle cx="177.5" cy="166.9" r="2.35" fill="#CCFF99" class="c"/>
<circle cx="261.1" cy="187.8" r="2.35" fill="#CCFF99" class="c"/>
<circle cx="250.3" cy="152.8" r="2.35" fill="#CCFF99" class="c"/>
<circle cx="254.1" cy="164.8" r="2.35" fill="#FFFF3C" class="c"/>
<circle cx="237.3" cy="140" r="2.35" fill="#CCFF99" class="c"/>
<circle cx="257.5" cy="139.4" r="2.35" fill="#FF6699" class="c"/>
<circle cx="276.1" cy="199.8" r="2.35" fill="#99FFCC" class="c"/>
<circle cx="199.1" cy="125" r="2.35" fill="#FFFF3C" class="c"/>
<circle cx="234.3" cy="105.6" r="2.35" fill="#FF6699" class="c"/>
<circle cx="297.5" cy="203.1" r="2.35" fill="#FF6699" class="c"/>
<circle cx="266.4" cy="150.5" r="2.35" fill="#FF3399" class="c"/>
<circle cx="164.3" cy="179.5" r="2.35" fill="#99FFCC" class="c"/>
<circle cx="201.5" cy="129.9" r="2.35" fill="#FF0000" class="c"/>
<circle cx="272.6" cy="164.1" r="2.35" fill="#FF3399" class="c"/>
<circle cx="250.5" cy="162.5" r="2.35" fill="#FFFF3C" class="c"/>
<circle cx="197.4" cy="197.2" r="2.35" fill="#FF9999" class="c"/>
<circle cx="218" cy="65.3" r="2.35" fill="#FF0000" class="c"/>
<circle cx="143.3" cy="189.3" r="2.35" fill="#FFFF3C" class="c"/>
<circle cx="280.9" cy="177.2" r="2.35" fill="#FF3399" class="c"/>
<circle cx="262" cy="143.9" r="2.35" fill="#FFCC66" class="c"/>
<circle cx="231.1" cy="88.2" r="2.35" fill="#FFFF3C" class="c"/>
<circle cx="291.1" cy="194.1" r="2.35" fill="#FF6699" class="c"/>
<circle cx="296.9" cy="206.3" r="2.35" fill="#FFFF3C" class="c"/>
<circle cx="219.4" cy="198.8" r="2.35" fill="#fff" class="c"/>
<circle cx="201.5" cy="140.8" r="2.35" fill="#FF3399" class="c"/>
<circle cx="244.3" cy="184.2" r="2.35" fill="#FFFF3C" class="c"/>
<circle cx="270.2" cy="194.5" r="2.35" fill="#fff" class="c"/>
<circle cx="177.3" cy="211.6" r="2.35" fill="#FFFF3C" class="c"/>
<circle cx="296.6" cy="203.9" r="2.35" fill="#FF3399" class="c"/>
<circle cx="266.7" cy="170.5" r="2.35" fill="#FFFF3C" class="c"/>
<circle cx="239.6" cy="152.9" r="2.35" fill="#CCFF99" class="c"/>
<circle cx="164.9" cy="181.1" r="2.35" fill="#FFFF3C" class="c"/>
<circle cx="250.8" cy="183.2" r="2.35" fill="#FFFF3C" class="c"/>
<circle cx="215.5" cy="120.7" r="2.35" fill="#FF3399" class="c"/>
<circle cx="270.5" cy="171.9" r="2.35" fill="#FFFF3C" class="c"/>
<circle cx="204.5" cy="172.3" r="2.35" fill="#FF0000" class="c"/>
<circle cx="224.5" cy="163.3" r="2.35" fill="#CCFF99" class="c"/>
<circle cx="209.2" cy="145.8" r="2.35" fill="#FFFF99" class="c"/>
<circle cx="255.5" cy="144.8" r="2.35" fill="#FF6699" class="c"/>
<circle cx="214.9" cy="187.9" r="2.35" fill="#FFFF99" class="c"/>
<circle cx="191.5" cy="117.5" r="2.35" fill="#FFFF3C" class="c"/>
<circle cx="209.1" cy="177.6" r="2.35" fill="#FFFF99" class="c"/>
<circle cx="237.5" cy="170.7" r="2.35" fill="#CCFF99" class="c"/>
<circle cx="254.9" cy="193.5" r="2.35" fill="#FFFF3C" class="c"/>
<circle cx="278.7" cy="170" r="2.35" fill="#FFFF3C" class="c"/>
<circle cx="213.3" cy="97.4" r="2.35" fill="#FF6699" class="c"/>
<circle cx="271.3" cy="157.8" r="2.35" fill="#FF3399" class="c"/>
<circle cx="238.6" cy="103" r="2.35" fill="#FFFF3C" class="c"/>
<circle cx="252.2" cy="124.8" r="2.35" fill="#FF3399" class="c"/>
<circle cx="268.3" cy="156.9" r="2.35" fill="#FFCC66" class="c"/>
<circle cx="215.4" cy="84.1" r="2.35" fill="#FF3399" class="c"/>
<circle cx="256.1" cy="144.4" r="2.35" fill="#FFFF3C" class="c"/>
<circle cx="262.1" cy="144.9" r="2.35" fill="#FF3399" class="c"/>
<circle cx="233.4" cy="111.5" r="2.35" fill="#FF6699" class="c"/>
<circle cx="156.9" cy="157" r="2.35" fill="#FF9999" class="c"/>
<circle cx="201.9" cy="130.7" r="2.35" fill="#FF3399" class="c"/>
<circle cx="123" cy="187.2" r="2.35" fill="#99FFCC" class="c"/>
<circle cx="225.7" cy="173.9" r="2.35" fill="#FFFF99" class="c"/>
<circle cx="263.9" cy="154.6" r="2.35" fill="#FFFF3C" class="c"/>
<circle cx="250.5" cy="225.9" r="2.35" fill="#FF0000" class="c"/>
<circle cx="257.4" cy="176.7" r="2.35" fill="#FF0066" class="c"/>
<circle cx="201.7" cy="181.2" r="2.35" fill="#fff" class="c"/>
<circle cx="284.4" cy="182.7" r="2.35" fill="#FF9999" class="c"/>
<circle cx="208.2" cy="115.2" r="2.35" fill="#FF9999" class="c"/>
<circle cx="279.7" cy="194.5" r="2.35" fill="#FFFF99" class="c"/>
<circle cx="207.1" cy="116.7" r="2.35" fill="#FFFF3C" class="c"/>
<circle cx="282" cy="192.5" r="2.35" fill="#FF6699" class="c"/>
<circle cx="212.5" cy="202.8" r="2.35" fill="#FFFF99" class="c"/>
<circle cx="240" cy="105.6" r="2.35" fill="#FF6699" class="c"/>
<circle cx="266" cy="160.7" r="2.35" fill="#FF6699" class="c"/>
<circle cx="245.3" cy="145.3" r="2.35" fill="#FFFF99" class="c"/>
<circle cx="241.7" cy="158.9" r="2.35" fill="#FFCC66" class="c"/>
<circle cx="212.7" cy="91.1" r="2.35" fill="#FF6699" class="c"/>
<circle cx="239.3" cy="102.2" r="2.35" fill="#FFFF3C" class="c"/>
<circle cx="280.3" cy="217.3" r="2.35" fill="#FF6699" class="c"/>
<circle cx="92.8" cy="271.6" r="2.35" fill="#99FFCC" class="c"/>
<circle cx="197.6" cy="141.2" r="2.35" fill="#FFFF99" class="c"/>
<circle cx="285.2" cy="182.6" r="2.35" fill="#FF9999" class="c"/>
<circle cx="244.3" cy="120.5" r="2.35" fill="#FF6699" class="c"/>
<circle cx="173.6" cy="187.6" r="2.35" fill="#FFFF3C" class="c"/>
<circle cx="218.3" cy="203.1" r="2.35" fill="#FF9999" class="c"/>
<circle cx="177.5" cy="136.9" r="2.35" fill="#99FFCC" class="c"/>
<circle cx="271.7" cy="178.7" r="2.35" fill="#FF3399" class="c"/>
<circle cx="240.7" cy="196.7" r="2.35" fill="#99FFCC" class="c"/>
<circle cx="293.9" cy="205.5" r="2.35" fill="#FF0000" class="c"/>
<circle cx="222.1" cy="107.2" r="2.35" fill="#FF6699" class="c"/>
<circle cx="166.7" cy="187.6" r="2.35" fill="#FFFF3C" class="c"/>
<circle cx="269.1" cy="153.6" r="2.35" fill="#FF9999" class="c"/>
<circle cx="275.6" cy="172.7" r="2.35" fill="#CCFF99" class="c"/>
<circle cx="225.5" cy="158.8" r="2.35" fill="#fff" class="c"/>
<circle cx="266.4" cy="165.5" r="2.35" fill="#FF3399" class="c"/>
<circle cx="241" cy="104.3" r="2.35" fill="#FF3399" class="c"/>
<circle cx="241.5" cy="127" r="2.35" fill="#99FFCC" class="c"/>
<circle cx="232" cy="167.8" r="2.35" fill="#FF0000" class="c"/>
<circle cx="250.8" cy="133.3" r="2.35" fill="#FF3399" class="c"/>
<circle cx="246.1" cy="146.9" r="2.35" fill="#99FFCC" class="c"/>
<circle cx="220.8" cy="164" r="2.35" fill="#99FFCC" class="c"/>
<circle cx="251.2" cy="129.6" r="2.35" fill="#FF3399" class="c"/>
<circle cx="283.1" cy="189.2" r="2.35" fill="#FF3399" class="c"/>
<circle cx="194.7" cy="200.8" r="2.35" fill="#CCFF99" class="c"/>
<circle cx="277.3" cy="186.9" r="2.35" fill="#FF3399" class="c"/>
<circle cx="182.9" cy="179.7" r="2.35" fill="#FFFF99" class="c"/>
<circle cx="268.4" cy="177.5" r="2.35" fill="#FF0066" class="c"/>
<circle cx="202.3" cy="158.9" r="2.35" fill="#FFFF99" class="c"/>
<circle cx="255.1" cy="198" r="2.35" fill="#FFFF3C" class="c"/>
<circle cx="254.5" cy="171.1" r="2.35" fill="#FF3399" class="c"/>
<circle cx="93" cy="234.9" r="2.35" fill="#fff" class="c"/>
<circle cx="141.7" cy="198" r="2.35" fill="#99FFCC" class="c"/>
<circle cx="294.8" cy="204.6" r="2.35" fill="#CCFF99" class="c"/>
<circle cx="222.2" cy="179.5" r="2.35" fill="#FFFF3C" class="c"/>
<circle cx="279.3" cy="189" r="2.35" fill="#FFFF99" class="c"/>
<circle cx="212.7" cy="134.4" r="2.35" fill="#FFFF3C" class="c"/>
<circle cx="215.6" cy="123.3" r="2.35" fill="#FFFF3C" class="c"/>
<circle cx="298" cy="207.5" r="2.35" fill="#FFFF3C" class="c"/>
<circle cx="270.9" cy="161.9" r="2.35" fill="#FF6699" class="c"/>
<circle cx="220.5" cy="170.3" r="2.35" fill="#FFCC66" class="c"/>
<circle cx="237.1" cy="179.8" r="2.35" fill="#FF3399" class="c"/>
<circle cx="249.6" cy="175.4" r="2.35" fill="#FF6699" class="c"/>
<circle cx="251.8" cy="163.5" r="2.35" fill="#FF3399" class="c"/>
<circle cx="217.2" cy="159.4" r="2.35" fill="#FFCC66" class="c"/>
<circle cx="248.4" cy="166.9" r="2.35" fill="#fff" class="c"/>
<circle cx="243.7" cy="162.4" r="2.35" fill="#FF9999" class="c"/>
<circle cx="271.5" cy="163.5" r="2.35" fill="#FF6699" class="c"/>
<circle cx="196.4" cy="176.8" r="2.35" fill="#CCFF99" class="c"/>
<circle cx="166" cy="141.3" r="2.35" fill="#CCFF99" class="c"/>
<circle cx="273.2" cy="199.4" r="2.35" fill="#99FFCC" class="c"/>
<circle cx="225.1" cy="119.7" r="2.35" fill="#FF9999" class="c"/>
<circle cx="182.6" cy="164" r="2.35" fill="#FFFF99" class="c"/>
<circle cx="280.7" cy="173.9" r="2.35" fill="#FFFF99" class="c"/>
<circle cx="224.8" cy="127.8" r="2.35" fill="#FF6699" class="c"/>
<circle cx="264.9" cy="197.9" r="2.35" fill="#FFFF3C" class="c"/>
<circle cx="236.1" cy="150.6" r="2.35" fill="#FF9999" class="c"/>
<circle cx="248.9" cy="149.4" r="2.35" fill="#FFCC66" class="c"/>
<circle cx="263.3" cy="172.4" r="2.35" fill="#FFFF99" class="c"/>
<circle cx="247.9" cy="133.4" r="2.35" fill="#FFCC66" class="c"/>
<circle cx="283.5" cy="225.3" r="2.35" fill="#FF9999" class="c"/>
<circle cx="228.3" cy="187.9" r="2.35" fill="#CCFF99" class="c"/>
<circle cx="180.6" cy="176.2" r="2.35" fill="#CCFF99" class="c"/>
<circle cx="263.8" cy="230" r="2.35" fill="#99FFCC" class="c"/>
<circle cx="250.3" cy="121.7" r="2.35" fill="#FF6699" class="c"/>
<circle cx="147.5" cy="188.7" r="2.35" fill="#FFFF99" class="c"/>
<circle cx="80.5" cy="234.8" r="2.35" fill="#FFFF3C" class="c"/>
<circle cx="189.8" cy="158.8" r="2.35" fill="#FFCC66" class="c"/>
<circle cx="276.8" cy="169.5" r="2.35" fill="#FF6699" class="c"/>
<circle cx="205.2" cy="156.9" r="2.35" fill="#99FFCC" class="c"/>
<circle cx="244.7" cy="141.9" r="2.35" fill="#fff" class="c"/>
<circle cx="261" cy="146.3" r="2.35" fill="#FF6699" class="c"/>
<circle cx="161.2" cy="221.3" r="2.35" fill="#FF9999" class="c"/>
<circle cx="268.6" cy="193.3" r="2.35" fill="#FFFF3C" class="c"/>
<circle cx="201.9" cy="137.5" r="2.35" fill="#FF3399" class="c"/>
<circle cx="161.5" cy="178" r="2.35" fill="#fff" class="c"/>
<circle cx="215.7" cy="136.6" r="2.35" fill="#FFFF3C" class="c"/>
<circle cx="277.5" cy="168.8" r="2.35" fill="#FF6699" class="c"/>
<circle cx="232.7" cy="143.8" r="2.35" fill="#FFFF3C" class="c"/>
<circle cx="217.2" cy="98.8" r="2.35" fill="#FF9999" class="c"/>
<circle cx="255.5" cy="135.8" r="2.35" fill="#FF6699" class="c"/>
<circle cx="254.8" cy="152.5" r="2.35" fill="#FFFF3C" class="c"/>
<circle cx="134.7" cy="193.1" r="2.35" fill="#FFFF3C" class="c"/>
<circle cx="288.1" cy="195.5" r="2.35" fill="#FFFF3C" class="c"/>
<circle cx="276.8" cy="183" r="2.35" fill="#FF0066" class="c"/>
<circle cx="249.5" cy="171" r="2.35" fill="#FFFF3C" class="c"/>
<circle cx="293.4" cy="195.9" r="2.35" fill="#FF0066" class="c"/>
<circle cx="233.5" cy="144.6" r="2.35" fill="#FF0000" class="c"/>
<circle cx="243.8" cy="162.7" r="2.35" fill="#FFFF3C" class="c"/>
<circle cx="242.8" cy="111.1" r="2.35" fill="#FF9999" class="c"/>
<circle cx="268.2" cy="157.2" r="2.35" fill="#FF3399" class="c"/>
<circle cx="164.2" cy="180.3" r="2.35" fill="#CCFF99" class="c"/>
<circle cx="232" cy="142.6" r="2.35" fill="#FFFF3C" class="c"/>
<circle cx="186.2" cy="189.6" r="2.35" fill="#CCFF99" class="c"/>
<circle cx="241.4" cy="156.8" r="2.35" fill="#FF0000" class="c"/>
<circle cx="251.8" cy="163.6" r="2.35" fill="#FF0000" class="c"/>
<circle cx="232.3" cy="112.3" r="2.35" fill="#FFCC66" class="c"/>
<circle cx="213.6" cy="120.7" r="2.35" fill="#FFFF3C" class="c"/>
<circle cx="212.1" cy="178.7" r="2.35" fill="#99FFCC" class="c"/>
<circle cx="216.1" cy="120.1" r="2.35" fill="#FFFF3C" class="c"/>
<circle cx="223.1" cy="121.7" r="2.35" fill="#FF3399" class="c"/>
<circle cx="198.5" cy="198.6" r="2.35" fill="#FFFF99" class="c"/>
<circle cx="248.8" cy="185.2" r="2.35" fill="#FFFF3C" class="c"/>
<circle cx="229.9" cy="130.6" r="2.35" fill="#FF6699" class="c"/>
<circle cx="233.8" cy="147.6" r="2.35" fill="#FF0066" class="c"/>
<circle cx="138.1" cy="195.7" r="2.35" fill="#FFFF99" class="c"/>
<circle cx="249.2" cy="178.3" r="2.35" fill="#FFFF3C" class="c"/>
<circle cx="96.3" cy="232.8" r="2.35" fill="#99FFCC" class="c"/>
<circle cx="232.8" cy="141.8" r="2.35" fill="#CCFF99" class="c"/>
<circle cx="239.3" cy="186.4" r="2.35" fill="#FFFF3C" class="c"/>
<circle cx="279.2" cy="175.3" r="2.35" fill="#FFFF3C" class="c"/>
<circle cx="227.5" cy="94.4" r="2.35" fill="#FF6699" class="c"/>
<circle cx="208.4" cy="173.3" r="2.35" fill="#fff" class="c"/>
<circle cx="237.7" cy="173.5" r="2.35" fill="#FFFF99" class="c"/>
<circle cx="217.2" cy="156.5" r="2.35" fill="#FF6699" class="c"/>
<circle cx="261" cy="198.2" r="2.35" fill="#FFFF99" class="c"/>
<circle cx="231.5" cy="141.5" r="2.35" fill="#FFFF99" class="c"/>
<circle cx="217.2" cy="140.2" r="2.35" fill="#FFFF3C" class="c"/>
<circle cx="230.8" cy="141.5" r="2.35" fill="#FF3399" class="c"/>
<circle cx="156.6" cy="149.1" r="2.35" fill="#FFFF3C" class="c"/>
<circle cx="218.8" cy="172" r="2.35" fill="#CCFF99" class="c"/>
<circle cx="231.7" cy="177.1" r="2.35" fill="#FFFF3C" class="c"/>
<circle cx="260.3" cy="167.6" r="2.35" fill="#FFFF3C" class="c"/>
<circle cx="153.8" cy="171" r="2.35" fill="#FFFF3C" class="c"/>
<circle cx="181.7" cy="158.7" r="2.35" fill="#FF6699" class="c"/>
<circle cx="278.9" cy="185.3" r="2.35" fill="#FF3399" class="c"/>
<circle cx="274.2" cy="162.2" r="2.35" fill="#FF0066" class="c"/>
<circle cx="272.7" cy="177.6" r="2.35" fill="#FFCC66" class="c"/>
<circle cx="291.4" cy="191.9" r="2.35" fill="#FFFF99" class="c"/>
<circle cx="282.6" cy="189.4" r="2.35" fill="#FFFF3C" class="c"/>
<circle cx="239.5" cy="136" r="2.35" fill="#FFFF3C" class="c"/>
<circle cx="231.8" cy="96.7" r="2.35" fill="#FF3399" class="c"/>
<circle cx="212.6" cy="96.6" r="2.35" fill="#FFFF99" class="c"/>
<circle cx="198.6" cy="134.8" r="2.35" fill="#FFFF3C" class="c"/>
<circle cx="157.6" cy="255.4" r="2.35" fill="#FF9999" class="c"/>
<circle cx="154.4" cy="214" r="2.35" fill="#FFFF3C" class="c"/>
<circle cx="224.9" cy="88.6" r="2.35" fill="#FF3399" class="c"/>
<circle cx="209.8" cy="105.2" r="2.35" fill="#FF3399" class="c"/>
<circle cx="270" cy="171.3" r="2.35" fill="#FF6699" class="c"/>
<circle cx="270.8" cy="264.9" r="2.35" fill="#FF0000" class="c"/>
<circle cx="182.5" cy="156" r="2.35" fill="#FFFF3C" class="c"/>
<circle cx="201.9" cy="109" r="2.35" fill="#FF6699" class="c"/>
<circle cx="240.5" cy="135" r="2.35" fill="#FF0066" class="c"/>
<circle cx="227.3" cy="106.7" r="2.35" fill="#FFFF99" class="c"/>
<circle cx="172.5" cy="218.8" r="2.35" fill="#99FFCC" class="c"/>
<circle cx="265.4" cy="167.5" r="2.35" fill="#FF3399" class="c"/>
<circle cx="263.5" cy="181.1" r="2.35" fill="#FF3399" class="c"/>
<circle cx="272.8" cy="175.4" r="2.35" fill="#FF6699" class="c"/>
<circle cx="230.9" cy="114.1" r="2.35" fill="#FF3399" class="c"/>
<circle cx="242.4" cy="115.3" r="2.35" fill="#FF3399" class="c"/>
<circle cx="137.3" cy="199.5" r="2.35" fill="#99FFCC" class="c"/>
<circle cx="115.7" cy="201.7" r="2.35" fill="#CCFF99" class="c"/>
<circle cx="253.1" cy="126.5" r="2.35" fill="#FF3399" class="c"/>
<circle cx="154.4" cy="165.4" r="2.35" fill="#FFFF99" class="c"/>
<circle cx="250.3" cy="178.2" r="2.35" fill="#CCFF99" class="c"/>
<circle cx="258.3" cy="195.5" r="2.35" fill="#CCFF99" class="c"/>
<circle cx="234.3" cy="94.7" r="2.35" fill="#FFFF3C" class="c"/>
<circle cx="228.8" cy="147.7" r="2.35" fill="#FFFF3C" class="c"/>
<circle cx="233.9" cy="94.4" r="2.35" fill="#FF3399" class="c"/>
<circle cx="270.7" cy="182.1" r="2.35" fill="#FF3399" class="c"/>
<circle cx="270.4" cy="156.6" r="2.35" fill="#FF6699" class="c"/>
<circle cx="236.7" cy="98.1" r="2.35" fill="#FF6699" class="c"/>
<circle cx="197.4" cy="104.6" r="2.35" fill="#fff" class="c"/>
<circle cx="178.9" cy="193.8" r="2.35" fill="#FF0000" class="c"/>
<circle cx="247.3" cy="174.3" r="2.35" fill="#FF0000" class="c"/>
<circle cx="225.7" cy="112.7" r="2.35" fill="#FFCC66" class="c"/>
<circle cx="161.3" cy="185.3" r="2.35" fill="#99FFCC" class="c"/>
<circle cx="185" cy="136" r="2.35" fill="#CCFF99" class="c"/>
<circle cx="292.3" cy="194.3" r="2.35" fill="#FFFF3C" class="c"/>
<circle cx="204.8" cy="95.4" r="2.35" fill="#FFFF99" class="c"/>
<circle cx="229.8" cy="94.8" r="2.35" fill="#FFFF3C" class="c"/>
<circle cx="233.5" cy="131.5" r="2.35" fill="#FF0000" class="c"/>
<circle cx="225.7" cy="107.9" r="2.35" fill="#FF3399" class="c"/>
<circle cx="206" cy="92.3" r="2.35" fill="#FFCC66" class="c"/>
<circle cx="219.4" cy="145.8" r="2.35" fill="#FFFF3C" class="c"/>
<circle cx="146.1" cy="153.6" r="2.35" fill="#FFFF99" class="c"/>
<circle cx="289.9" cy="200.8" r="2.35" fill="#FF6699" class="c"/>
<circle cx="149.6" cy="185.4" r="2.35" fill="#CCFF99" class="c"/>
<circle cx="222.9" cy="202.8" r="2.35" fill="#99FFCC" class="c"/>
<circle cx="281.6" cy="175.1" r="2.35" fill="#FF3399" class="c"/>
<circle cx="244.6" cy="113.8" r="2.35" fill="#FF0000" class="c"/>
<circle cx="240" cy="105.5" r="2.35" fill="#FF3399" class="c"/>
<circle cx="155.9" cy="162.4" r="2.35" fill="#CCFF99" class="c"/>
<circle cx="287.8" cy="189.3" r="2.35" fill="#FF0066" class="c"/>
<circle cx="237.4" cy="111.3" r="2.35" fill="#FF3399" class="c"/>
<circle cx="242.8" cy="152.2" r="2.35" fill="#FFFF3C" class="c"/>
<circle cx="256.8" cy="173.1" r="2.35" fill="#FFFF99" class="c"/>
<circle cx="196.5" cy="187.8" r="2.35" fill="#FF9999" class="c"/>
<circle cx="232.6" cy="104.1" r="2.35" fill="#FF6699" class="c"/>
<circle cx="207.2" cy="108.3" r="2.35" fill="#CCFF99" class="c"/>
<circle cx="184.1" cy="160.4" r="2.35" fill="#FFFF3C" class="c"/>
<circle cx="268.1" cy="154" r="2.35" fill="#FF6699" class="c"/>
<circle cx="229.5" cy="203.7" r="2.35" fill="#FF9999" class="c"/>
<circle cx="206.3" cy="94.7" r="2.35" fill="#FFFF3C" class="c"/>
<circle cx="174.3" cy="140.5" r="2.35" fill="#CCFF99" class="c"/>
<circle cx="254.8" cy="170.4" r="2.35" fill="#CCFF99" class="c"/>
<circle cx="177.9" cy="165.2" r="2.35" fill="#FFCC66" class="c"/>
<circle cx="261.4" cy="178.2" r="2.35" fill="#FFFF99" class="c"/>
<circle cx="223" cy="108.1" r="2.35" fill="#FF9999" class="c"/>
<circle cx="96.9" cy="223.8" r="2.35" fill="#FFFF3C" class="c"/>
<circle cx="246" cy="148.5" r="2.35" fill="#FFCC66" class="c"/>
<circle cx="249.5" cy="171.4" r="2.35" fill="#FF9999" class="c"/>
<circle cx="167.2" cy="141.2" r="2.35" fill="#FFFF3C" class="c"/>
<circle cx="288.1" cy="201" r="2.35" fill="#FF9999" class="c"/>
<circle cx="264.2" cy="159.3" r="2.35" fill="#FF0066" class="c"/>
<circle cx="221.4" cy="163.3" r="2.35" fill="#99FFCC" class="c"/>
<circle cx="216.7" cy="191.1" r="2.35" fill="#FF0000" class="c"/>
<circle cx="268.2" cy="153.3" r="2.35" fill="#FF6699" class="c"/>
<circle cx="143.2" cy="184.4" r="2.35" fill="#FFFF99" class="c"/>
<circle cx="290.1" cy="190.5" r="2.35" fill="#CCFF99" class="c"/>
<circle cx="261.1" cy="168.4" r="2.35" fill="#FF6699" class="c"/>
<circle cx="256.4" cy="176.1" r="2.35" fill="#fff" class="c"/>
<circle cx="290.1" cy="189.7" r="2.35" fill="#FFFF99" class="c"/>
<circle cx="275.9" cy="199.6" r="2.35" fill="#FF0000" class="c"/>
<circle cx="283.8" cy="181.6" r="2.35" fill="#FFFF3C" class="c"/>
<circle cx="231.5" cy="105.4" r="2.35" fill="#FF6699" class="c"/>
<circle cx="295" cy="200.9" r="2.35" fill="#FFFF99" class="c"/>
<circle cx="227.7" cy="89.5" r="2.35" fill="#FF0066" class="c"/>
<circle cx="234.4" cy="179.5" r="2.35" fill="#FFFF99" class="c"/>
<circle cx="244.9" cy="186.3" r="2.35" fill="#FFFF3C" class="c"/>
<circle cx="244.4" cy="118.7" r="2.35" fill="#FF3399" class="c"/>
<circle cx="153.7" cy="224.3" r="2.35" fill="#CCFF99" class="c"/>
<circle cx="237.8" cy="123" r="2.35" fill="#FF3399" class="c"/>
<circle cx="236.2" cy="100.9" r="2.35" fill="#FF3399" class="c"/>
<circle cx="262" cy="146.8" r="2.35" fill="#FFFF3C" class="c"/>
<circle cx="239.1" cy="131.5" r="2.35" fill="#FFFF3C" class="c"/>
<circle cx="239.9" cy="155.4" r="2.35" fill="#FF0000" class="c"/>
<circle cx="225.3" cy="97.9" r="2.35" fill="#FF0066" class="c"/>
<circle cx="228.4" cy="99.7" r="2.35" fill="#FF3399" class="c"/>
<circle cx="204.4" cy="89.1" r="2.35" fill="#FF9999" class="c"/>
<circle cx="231.5" cy="153.3" r="2.35" fill="#FF3399" class="c"/>
<circle cx="232.6" cy="172.6" r="2.35" fill="#FF0000" class="c"/>
<circle cx="287.3" cy="186.5" r="2.35" fill="#FFFF3C" class="c"/>
<circle cx="251.5" cy="127.9" r="2.35" fill="#FF6699" class="c"/>
<circle cx="249.7" cy="159" r="2.35" fill="#FFCC66" class="c"/>
<circle cx="218" cy="209.3" r="2.35" fill="#99FFCC" class="c"/>
<circle cx="254.6" cy="148.2" r="2.35" fill="#FFFF99" class="c"/>
<circle cx="233.6" cy="150.6" r="2.35" fill="#FF0066" class="c"/>
<circle cx="306.6" cy="220.5" r="2.35" fill="#FF6699" class="c"/>
<circle cx="199.9" cy="161.5" r="2.35" fill="#FF6699" class="c"/>
<circle cx="222.9" cy="114.5" r="2.35" fill="#CCFF99" class="c"/>
<circle cx="139" cy="210.8" r="2.35" fill="#fff" class="c"/>
<circle cx="222.5" cy="98.2" r="2.35" fill="#FFFF3C" class="c"/>
<circle cx="126" cy="174.3" r="2.35" fill="#fff" class="c"/>
<circle cx="197.1" cy="175.4" r="2.35" fill="#FFCC66" class="c"/>
<circle cx="229.8" cy="129.5" r="2.35" fill="#99FFCC" class="c"/>
<circle cx="244.8" cy="181.5" r="2.35" fill="#FFFF3C" class="c"/>
<circle cx="266.9" cy="183.7" r="2.35" fill="#FFFF99" class="c"/>
<circle cx="99.7" cy="246.4" r="2.35" fill="#FFFF3C" class="c"/>
<circle cx="202.7" cy="107.9" r="2.35" fill="#FF9999" class="c"/>
<circle cx="239.1" cy="154.6" r="2.35" fill="#FF3399" class="c"/>
<circle cx="119.4" cy="211.2" r="2.35" fill="#FFFF3C" class="c"/>
<circle cx="277" cy="168.6" r="2.35" fill="#FF3399" class="c"/>
<circle cx="225.1" cy="152.4" r="2.35" fill="#CCFF99" class="c"/>
<circle cx="250.7" cy="172.2" r="2.35" fill="#FFFF3C" class="c"/>
<circle cx="258.5" cy="137.9" r="2.35" fill="#FFFF3C" class="c"/>
<circle cx="232.6" cy="142.4" r="2.35" fill="#FFFF3C" class="c"/>
<circle cx="296.7" cy="205.8" r="2.35" fill="#FF3399" class="c"/>
<circle cx="226.8" cy="118.8" r="2.35" fill="#FF9999" class="c"/>
<circle cx="255.3" cy="219.6" r="2.35" fill="#CCFF99" class="c"/>
<circle cx="249.2" cy="121.2" r="2.35" fill="#FF3399" class="c"/>
<circle cx="158.4" cy="246.5" r="2.35" fill="#CCFF99" class="c"/>
<circle cx="228.4" cy="194" r="2.35" fill="#CCFF99" class="c"/>
<circle cx="202.8" cy="196.5" r="2.35" fill="#CCFF99" class="c"/>
<circle cx="238.6" cy="150.7" r="2.35" fill="#FFCC66" class="c"/>
<circle cx="229.3" cy="101.1" r="2.35" fill="#FF0066" class="c"/>
<circle cx="210" cy="167.8" r="2.35" fill="#FF0000" class="c"/>
<circle cx="191.3" cy="152.3" r="2.35" fill="#CCFF99" class="c"/>
<circle cx="242.8" cy="111.7" r="2.35" fill="#FF6699" class="c"/>
<circle cx="240.9" cy="134.6" r="2.35" fill="#fff" class="c"/>
<circle cx="230.3" cy="92" r="2.35" fill="#FF3399" class="c"/>
<circle cx="195.6" cy="189.5" r="2.35" fill="#FF0000" class="c"/>
<circle cx="235.1" cy="200.3" r="2.35" fill="#CCFF99" class="c"/>
<circle cx="255.6" cy="131.1" r="2.35" fill="#FF6699" class="c"/>
<circle cx="275.4" cy="172.5" r="2.35" fill="#CCFF99" class="c"/>
<circle cx="212.6" cy="118.3" r="2.35" fill="#FF9999" class="c"/>
<circle cx="291.2" cy="192.6" r="2.35" fill="#FF6699" class="c"/>
<circle cx="214.8" cy="85.1" r="2.35" fill="#FF3399" class="c"/>
<circle cx="182.7" cy="169.8" r="2.35" fill="#FFCC66" class="c"/>
<circle cx="266.1" cy="196.4" r="2.35" fill="#fff" class="c"/>
<circle cx="254.7" cy="182.9" r="2.35" fill="#FF3399" class="c"/>
<circle cx="281.5" cy="179.9" r="2.35" fill="#FF3399" class="c"/>
<circle cx="270.2" cy="210.3" r="2.35" fill="#99FFCC" class="c"/>
<circle cx="236.1" cy="133.1" r="2.35" fill="#FFFF3C" class="c"/>
<circle cx="253.1" cy="176" r="2.35" fill="#FF3399" class="c"/>
<circle cx="253" cy="128.5" r="2.35" fill="#FF3399" class="c"/>
<circle cx="218.2" cy="119.4" r="2.35" fill="#FF6699" class="c"/>
<circle cx="221.7" cy="86.7" r="2.35" fill="#FF3399" class="c"/>
<circle cx="233.9" cy="111.9" r="2.35" fill="#FF3399" class="c"/>
<circle cx="259.9" cy="141.3" r="2.35" fill="#FF9999" class="c"/>
<circle cx="237.5" cy="123.1" r="2.35" fill="#FFCC66" class="c"/>
<circle cx="210.4" cy="113.8" r="2.35" fill="#fff" class="c"/>
<circle cx="239.1" cy="104.5" r="2.35" fill="#FF6699" class="c"/>
<circle cx="268.1" cy="187.8" r="2.35" fill="#FF3399" class="c"/>
<circle cx="175.3" cy="134.4" r="2.35" fill="#CCFF99" class="c"/>
<circle cx="224.6" cy="110.9" r="2.35" fill="#FF3399" class="c"/>
<circle cx="98.4" cy="224.9" r="2.35" fill="#99FFCC" class="c"/>
<circle cx="240.3" cy="197.1" r="2.35" fill="#CCFF99" class="c"/>
<circle cx="222.6" cy="144.2" r="2.35" fill="#FF6699" class="c"/>
<circle cx="190.6" cy="158" r="2.35" fill="#99FFCC" class="c"/>
<circle cx="164.6" cy="182" r="2.35" fill="#FF9999" class="c"/>
<circle cx="234.6" cy="115.8" r="2.35" fill="#FFFF3C" class="c"/>
<circle cx="246.1" cy="159.2" r="2.35" fill="#FF6699" class="c"/>
<circle cx="231.2" cy="90.8" r="2.35" fill="#FF3399" class="c"/>
<circle cx="234.3" cy="181.1" r="2.35" fill="#FF9999" class="c"/>
<circle cx="197.2" cy="131.9" r="2.35" fill="#FFFF99" class="c"/>
<circle cx="116.7" cy="207" r="2.35" fill="#CCFF99" class="c"/>
<circle cx="242.1" cy="128.4" r="2.35" fill="#CCFF99" class="c"/>
<circle cx="258.6" cy="140.1" r="2.35" fill="#FF0066" class="c"/>
<circle cx="269.8" cy="163.1" r="2.35" fill="#FF0066" class="c"/>
<circle cx="254.4" cy="140.7" r="2.35" fill="#FF6699" class="c"/>
<circle cx="238.3" cy="100.6" r="2.35" fill="#FFFF3C" class="c"/>
<circle cx="268" cy="165.9" r="2.35" fill="#FF0066" class="c"/>
<circle cx="166.5" cy="245.8" r="2.35" fill="#99FFCC" class="c"/>
<circle cx="253.4" cy="178.1" r="2.35" fill="#CCFF99" class="c"/>
<circle cx="293.9" cy="196.9" r="2.35" fill="#FFFF99" class="c"/>
<circle cx="239.3" cy="128.8" r="2.35" fill="#FFFF3C" class="c"/>
<circle cx="234.8" cy="107.1" r="2.35" fill="#FFFF3C" class="c"/>
<circle cx="232" cy="113.5" r="2.35" fill="#CCFF99" class="c"/>
<circle cx="233.5" cy="97.6" r="2.35" fill="#FF3399" class="c"/>
<circle cx="230.4" cy="188.8" r="2.35" fill="#FFFF99" class="c"/>
<circle cx="242.7" cy="121.2" r="2.35" fill="#FF3399" class="c"/>
<circle cx="166" cy="170.9" r="2.35" fill="#FFFF3C" class="c"/>
<circle cx="230.4" cy="190" r="2.35" fill="#FFFF3C" class="c"/>
<circle cx="284.4" cy="186.6" r="2.35" fill="#FF3399" class="c"/>
<circle cx="214" cy="151.9" r="2.35" fill="#FFFF99" class="c"/>
<circle cx="226" cy="103.7" r="2.35" fill="#FF3399" class="c"/>
<circle cx="255.6" cy="131" r="2.35" fill="#FF3399" class="c"/>
<circle cx="287.5" cy="188.7" r="2.35" fill="#FF3399" class="c"/>
<circle cx="234.2" cy="196" r="2.35" fill="#FF6699" class="c"/>
<circle cx="151.9" cy="232" r="2.35" fill="#FF9999" class="c"/>
<circle cx="215.9" cy="126.8" r="2.35" fill="#FF6699" class="c"/>
<circle cx="241.7" cy="139.8" r="2.35" fill="#FF6699" class="c"/>
<circle cx="78.2" cy="246.6" r="2.35" fill="#CCFF99" class="c"/>
<circle cx="240.5" cy="104.6" r="2.35" fill="#FF0066" class="c"/>
<circle cx="195.5" cy="176.7" r="2.35" fill="#99FFCC" class="c"/>
<circle cx="206.5" cy="122" r="2.35" fill="#99FFCC" class="c"/>
<circle cx="248.6" cy="193.1" r="2.35" fill="#FF6699" class="c"/>
<circle cx="199.2" cy="130.8" r="2.35" fill="#fff" class="c"/>
<circle cx="203.9" cy="113.7" r="2.35" fill="#FFFF3C" class="c"/>
<circle cx="242" cy="141.4" r="2.35" fill="#FF0066" class="c"/>
<circle cx="209.8" cy="123.6" r="2.35" fill="#CCFF99" class="c"/>
<circle cx="207.1" cy="196.5" r="2.35" fill="#99FFCC" class="c"/>
<circle cx="291.7" cy="205.3" r="2.35" fill="#FFFF3C" class="c"/>
<circle cx="204.9" cy="127.2" r="2.35" fill="#FF3399" class="c"/>
<circle cx="213.8" cy="148.6" r="2.35" fill="#FF3399" class="c"/>
<circle cx="242.4" cy="139" r="2.35" fill="#FF3399" class="c"/>
<circle cx="254.2" cy="194.3" r="2.35" fill="#FF0000" class="c"/>
<circle cx="274" cy="189.1" r="2.35" fill="#CCFF99" class="c"/>
<circle cx="213.8" cy="144.8" r="2.35" fill="#FFFF99" class="c"/>
<circle cx="153.8" cy="200.4" r="2.35" fill="#99FFCC" class="c"/>
<circle cx="254.3" cy="167.4" r="2.35" fill="#FF0000" class="c"/>
<circle cx="268.6" cy="219" r="2.35" fill="#99FFCC" class="c"/>
<circle cx="297.3" cy="208.9" r="2.35" fill="#FF3399" class="c"/>
<circle cx="203.3" cy="115.5" r="2.35" fill="#FF9999" class="c"/>
<circle cx="278.3" cy="193.4" r="2.35" fill="#FFFF3C" class="c"/>
<circle cx="255.3" cy="170.3" r="2.35" fill="#FFFF99" class="c"/>
<circle cx="273.1" cy="165.2" r="2.35" fill="#FF0066" class="c"/>
<circle cx="220.7" cy="191.2" r="2.35" fill="#CCFF99" class="c"/>
<circle cx="249.1" cy="198.9" r="2.35" fill="#FF6699" class="c"/>
<circle cx="151.1" cy="230.4" r="2.35" fill="#FF0000" class="c"/>
<circle cx="245.1" cy="120.8" r="2.35" fill="#FF3399" class="c"/>
<circle cx="248.2" cy="142.5" r="2.35" fill="#FF0000" class="c"/>
<circle cx="256.3" cy="176.5" r="2.35" fill="#FF3399" class="c"/>
<circle cx="216.8" cy="110" r="2.35" fill="#FF0066" class="c"/>
<circle cx="275.2" cy="166.4" r="2.35" fill="#CCFF99" class="c"/>
<circle cx="280" cy="197.1" r="2.35" fill="#CCFF99" class="c"/>
<circle cx="241.7" cy="117.5" r="2.35" fill="#FF3399" class="c"/>
<circle cx="89.2" cy="224.5" r="2.35" fill="#CCFF99" class="c"/>
<circle cx="209.4" cy="175.6" r="2.35" fill="#FFFF3C" class="c"/>
<circle cx="272.1" cy="179.6" r="2.35" fill="#FFFF3C" class="c"/>
<circle cx="244.3" cy="113" r="2.35" fill="#FFCC66" class="c"/>
<circle cx="243.6" cy="151.4" r="2.35" fill="#FF6699" class="c"/>
<circle cx="206.3" cy="157.9" r="2.35" fill="#CCFF99" class="c"/>
<circle cx="143.8" cy="171.8" r="2.35" fill="#FFFF3C" class="c"/>
<circle cx="238.3" cy="143.8" r="2.35" fill="#FFCC66" class="c"/>
<circle cx="216.2" cy="96" r="2.35" fill="#FF6699" class="c"/>
<circle cx="262.5" cy="166.3" r="2.35" fill="#FF3399" class="c"/>
<circle cx="232.5" cy="97.6" r="2.35" fill="#FF3399" class="c"/>
<circle cx="247.2" cy="120.4" r="2.35" fill="#FF0066" class="c"/>
<circle cx="246.8" cy="128.1" r="2.35" fill="#FF6699" class="c"/>
<circle cx="214.1" cy="137.6" r="2.35" fill="#FFFF99" class="c"/>
<circle cx="249.1" cy="160.4" r="2.35" fill="#FF3399" class="c"/>
<circle cx="212.9" cy="185" r="2.35" fill="#FFFF3C" class="c"/>
<circle cx="89.5" cy="249.7" r="2.35" fill="#fff" class="c"/>
<circle cx="243.7" cy="113.2" r="2.35" fill="#FF3399" class="c"/>
<circle cx="251.8" cy="153.2" r="2.35" fill="#FF3399" class="c"/>
<circle cx="194.5" cy="124.9" r="2.35" fill="#FFCC66" class="c"/>
<circle cx="238.2" cy="122.5" r="2.35" fill="#FF0066" class="c"/>
<circle cx="239.3" cy="111.7" r="2.35" fill="#FF6699" class="c"/>
<circle cx="272.6" cy="164.9" r="2.35" fill="#FF0066" class="c"/>
<circle cx="186.9" cy="211.5" r="2.35" fill="#fff" class="c"/>
<circle cx="237.5" cy="192.4" r="2.35" fill="#FF9999" class="c"/>
<circle cx="156.9" cy="233.4" r="2.35" fill="#99FFCC" class="c"/>
<circle cx="238.5" cy="263.3" r="2.35" fill="#FF6699" class="c"/>
<circle cx="158" cy="139.3" r="2.35" fill="#FFFF99" class="c"/>
<circle cx="266.8" cy="150.2" r="2.35" fill="#FFFF3C" class="c"/>
<circle cx="245.5" cy="118.9" r="2.35" fill="#FF6699" class="c"/>
<circle cx="266.7" cy="158.9" r="2.35" fill="#FF6699" class="c"/>
<circle cx="255.9" cy="197.9" r="2.35" fill="#FFFF3C" class="c"/>
<circle cx="211.2" cy="139.2" r="2.35" fill="#99FFCC" class="c"/>
<circle cx="212.8" cy="96.4" r="2.35" fill="#FFFF3C" class="c"/>
<circle cx="190.4" cy="181.2" r="2.35" fill="#CCFF99" class="c"/>
<circle cx="95.1" cy="227.7" r="2.35" fill="#FFFF3C" class="c"/>
<circle cx="139.5" cy="195.4" r="2.35" fill="#FFFF99" class="c"/>
<circle cx="241.9" cy="153.7" r="2.35" fill="#FFFF99" class="c"/>
<circle cx="231.5" cy="165.3" r="2.35" fill="#FF6699" class="c"/>
<circle cx="294.9" cy="220.5" r="2.35" fill="#FF6699" class="c"/>
<circle cx="220.3" cy="153.6" r="2.35" fill="#FFFF3C" class="c"/>
<circle cx="214.9" cy="185.8" r="2.35" fill="#FF6699" class="c"/>
<circle cx="253.3" cy="128" r="2.35" fill="#FF0066" class="c"/>
<circle cx="265.3" cy="197.4" r="2.35" fill="#FF6699" class="c"/>
<circle cx="239.6" cy="119.9" r="2.35" fill="#FF6699" class="c"/>
<circle cx="249.4" cy="135" r="2.35" fill="#FF9999" class="c"/>
<circle cx="213.8" cy="172" r="2.35" fill="#FFFF99" class="c"/>
<circle cx="231.2" cy="173.4" r="2.35" fill="#FFFF99" class="c"/>
<circle cx="250.4" cy="132.2" r="2.35" fill="#FF3399" class="c"/>
<circle cx="208.6" cy="134.1" r="2.35" fill="#FFCC66" class="c"/>
<circle cx="167.7" cy="156.8" r="2.35" fill="#FFFF99" class="c"/>
<circle cx="232.6" cy="189.6" r="2.35" fill="#FFFF3C" class="c"/>
<circle cx="182" cy="135.7" r="2.35" fill="#FFFF99" class="c"/>
<circle cx="239.5" cy="139.1" r="2.35" fill="#fff" class="c"/>
<circle cx="275" cy="180.9" r="2.35" fill="#FF9999" class="c"/>
<circle cx="242.3" cy="114.9" r="2.35" fill="#FF0066" class="c"/>
<circle cx="227.8" cy="172.2" r="2.35" fill="#99FFCC" class="c"/>
<circle cx="246.9" cy="118.9" r="2.35" fill="#FF3399" class="c"/>
<circle cx="291.2" cy="194" r="2.35" fill="#FF3399" class="c"/>
<circle cx="196.3" cy="153.4" r="2.35" fill="#CCFF99" class="c"/>
<circle cx="246.4" cy="115.7" r="2.35" fill="#FF6699" class="c"/>
<circle cx="267.8" cy="151.9" r="2.35" fill="#FF3399" class="c"/>
<circle cx="210.5" cy="91" r="2.35" fill="#FF9999" class="c"/>
<circle cx="257.3" cy="145.7" r="2.35" fill="#FF0066" class="c"/>
<circle cx="255.1" cy="129.7" r="2.35" fill="#FF3399" class="c"/>
<circle cx="241.5" cy="113.7" r="2.35" fill="#FF3399" class="c"/>
<circle cx="241.5" cy="149.1" r="2.35" fill="#FF0000" class="c"/>
<circle cx="151.3" cy="186.1" r="2.35" fill="#CCFF99" class="c"/>
<circle cx="209.5" cy="128.3" r="2.35" fill="#99FFCC" class="c"/>
<circle cx="230.1" cy="94.5" r="2.35" fill="#FF3399" class="c"/>
<circle cx="201.2" cy="113.5" r="2.35" fill="#FF9999" class="c"/>
<circle cx="176.8" cy="157.5" r="2.35" fill="#FFFF3C" class="c"/>
<circle cx="241.3" cy="105.1" r="2.35" fill="#FF3399" class="c"/>
<circle cx="126.7" cy="215.6" r="2.35" fill="#FFFF3C" class="c"/>
<circle cx="195.4" cy="179.5" r="2.35" fill="#CCFF99" class="c"/>
<circle cx="265.2" cy="180.2" r="2.35" fill="#FF3399" class="c"/>
<circle cx="235.1" cy="114.9" r="2.35" fill="#FF3399" class="c"/>
<circle cx="152.1" cy="179.9" r="2.35" fill="#99FFCC" class="c"/>
<circle cx="208.9" cy="121.9" r="2.35" fill="#CCFF99" class="c"/>
<circle cx="249.6" cy="129.9" r="2.35" fill="#FFFF3C" class="c"/>
<circle cx="220.8" cy="112.2" r="2.35" fill="#FF3399" class="c"/>
<circle cx="263.7" cy="147.7" r="2.35" fill="#FFFF99" class="c"/>
<circle cx="208.8" cy="118.2" r="2.35" fill="#FF9999" class="c"/>
<circle cx="214.4" cy="82.6" r="2.35" fill="#CCFF99" class="c"/>
<circle cx="254.7" cy="149.3" r="2.35" fill="#FF3399" class="c"/>
<circle cx="96.7" cy="215.6" r="2.35" fill="#CCFF99" class="c"/>
<circle cx="217.8" cy="183.1" r="2.35" fill="#FFFF99" class="c"/>
<circle cx="189.3" cy="170.2" r="2.35" fill="#FF6699" class="c"/>
<circle cx="252.9" cy="177.3" r="2.35" fill="#FFFF3C" class="c"/>
<circle cx="229.1" cy="84.7" r="2.35" fill="#FF0066" class="c"/>
<circle cx="189.8" cy="153.3" r="2.35" fill="#FFFF3C" class="c"/>
<circle cx="164.8" cy="220.1" r="2.35" fill="#FFFF3C" class="c"/>
<circle cx="223.4" cy="188.8" r="2.35" fill="#FF0000" class="c"/>
<circle cx="237.5" cy="105" r="2.35" fill="#FF6699" class="c"/>
<circle cx="228.6" cy="87.3" r="2.35" fill="#FF3399" class="c"/>
<circle cx="216.1" cy="109.8" r="2.35" fill="#FF9999" class="c"/>
<circle cx="256.7" cy="144.7" r="2.35" fill="#FF3399" class="c"/>
<circle cx="181.7" cy="132.3" r="2.35" fill="#FFFF99" class="c"/>
<circle cx="286.9" cy="185.1" r="2.35" fill="#FFFF99" class="c"/>
<circle cx="256.5" cy="131.2" r="2.35" fill="#FF0066" class="c"/>
<circle cx="237.6" cy="128.1" r="2.35" fill="#FFCC66" class="c"/>
<circle cx="212.9" cy="196.9" r="2.35" fill="#99FFCC" class="c"/>
<circle cx="217.4" cy="147.4" r="2.35" fill="#99FFCC" class="c"/>
<circle cx="209.1" cy="147.6" r="2.35" fill="#FFFF3C" class="c"/>
<circle cx="270.5" cy="177.3" r="2.35" fill="#FFFF3C" class="c"/>
<circle cx="245" cy="178.1" r="2.35" fill="#FFFF3C" class="c"/>
<circle cx="255.1" cy="152.4" r="2.35" fill="#FF3399" class="c"/>
<circle cx="241.7" cy="107.8" r="2.35" fill="#FF3399" class="c"/>
<circle cx="155.1" cy="240.1" r="2.35" fill="#FFFF3C" class="c"/>
<circle cx="131.1" cy="212.9" r="2.35" fill="#FFFF3C" class="c"/>
<circle cx="224" cy="106.5" r="2.35" fill="#FF6699" class="c"/>
<circle cx="236.6" cy="99.7" r="2.35" fill="#FF9999" class="c"/>
<circle cx="158" cy="159.1" r="2.35" fill="#FFFF99" class="c"/>
<circle cx="197.3" cy="100.5" r="2.35" fill="#FFFF3C" class="c"/>
<circle cx="275.7" cy="201.1" r="2.35" fill="#FF3399" class="c"/>
<circle cx="231.4" cy="139.2" r="2.35" fill="#FFFF99" class="c"/>
<circle cx="123.7" cy="201.3" r="2.35" fill="#FFCC66" class="c"/>
<circle cx="233.5" cy="109.1" r="2.35" fill="#FF6699" class="c"/>
<circle cx="250.7" cy="123.5" r="2.35" fill="#FF3399" class="c"/>
<circle cx="213.5" cy="141.9" r="2.35" fill="#CCFF99" class="c"/>
<circle cx="200.5" cy="118.9" r="2.35" fill="#FF6699" class="c"/>
<circle cx="170.5" cy="132.5" r="2.35" fill="#FFFF3C" class="c"/>
<circle cx="297.7" cy="205.8" r="2.35" fill="#FFFF3C" class="c"/>
<circle cx="237.2" cy="103.1" r="2.35" fill="#FF3399" class="c"/>
<circle cx="236.1" cy="169.3" r="2.35" fill="#FF3399" class="c"/>
<circle cx="298" cy="208.9" r="2.35" fill="#FF3399" class="c"/>
<circle cx="199.4" cy="128.1" r="2.35" fill="#FFFF3C" class="c"/>
<circle cx="292.5" cy="204.9" r="2.35" fill="#FFFF3C" class="c"/>
<circle cx="175.8" cy="233.4" r="2.35" fill="#FFFF3C" class="c"/>
<circle cx="271.8" cy="158" r="2.35" fill="#FF0066" class="c"/>
<circle cx="209.6" cy="90.2" r="2.35" fill="#FF9999" class="c"/>
<circle cx="252" cy="144.6" r="2.35" fill="#FF3399" class="c"/>
<circle cx="153.5" cy="190.6" r="2.35" fill="#FFFF99" class="c"/>
<circle cx="234.7" cy="160.6" r="2.35" fill="#FFFF3C" class="c"/>
<circle cx="163" cy="176.8" r="2.35" fill="#FFFF99" class="c"/>
<circle cx="253.4" cy="174.8" r="2.35" fill="#FFFF3C" class="c"/>
<circle cx="276.8" cy="170.2" r="2.35" fill="#FFFF3C" class="c"/>
<circle cx="249.5" cy="123.6" r="2.35" fill="#FF6699" class="c"/>
<circle cx="240.2" cy="159.3" r="2.35" fill="#FFFF99" class="c"/>
<circle cx="223.3" cy="114.6" r="2.35" fill="#FF3399" class="c"/>
<circle cx="287.4" cy="185.1" r="2.35" fill="#FF3399" class="c"/>
<circle cx="272.4" cy="190.6" r="2.35" fill="#CCFF99" class="c"/>
<circle cx="285.3" cy="184" r="2.35" fill="#FFFF3C" class="c"/>
<circle cx="151.9" cy="198.6" r="2.35" fill="#CCFF99" class="c"/>
<circle cx="260.1" cy="181.5" r="2.35" fill="#FF6699" class="c"/>
<circle cx="288.7" cy="188" r="2.35" fill="#FFFF3C" class="c"/>
<circle cx="205.1" cy="171.6" r="2.35" fill="#FFFF99" class="c"/>
<circle cx="216.6" cy="146.4" r="2.35" fill="#FFFF99" class="c"/>
<circle cx="193.5" cy="143.4" r="2.35" fill="#FFFF99" class="c"/>
<circle cx="268.1" cy="176.2" r="2.35" fill="#FFFF3C" class="c"/>
<circle cx="213" cy="92.2" r="2.35" fill="#FF6699" class="c"/>
<circle cx="282.2" cy="177.7" r="2.35" fill="#FF6699" class="c"/>
<circle cx="258.7" cy="135.7" r="2.35" fill="#FF0066" class="c"/>
<circle cx="285.4" cy="216.7" r="2.35" fill="#FFFF3C" class="c"/>
<circle cx="275.1" cy="175.7" r="2.35" fill="#FF6699" class="c"/>
<circle cx="271.4" cy="194.3" r="2.35" fill="#FF3399" class="c"/>
<circle cx="284.5" cy="182.5" r="2.35" fill="#FFFF99" class="c"/>
<circle cx="176.2" cy="175.1" r="2.35" fill="#FF0000" class="c"/>
<circle cx="279" cy="171.6" r="2.35" fill="#FF6699" class="c"/>
<circle cx="214.7" cy="129.4" r="2.35" fill="#FFFF3C" class="c"/>
<circle cx="252.1" cy="147.2" r="2.35" fill="#FF3399" class="c"/>
<circle cx="182.5" cy="161.6" r="2.35" fill="#FFFF3C" class="c"/>
<circle cx="246.2" cy="116.1" r="2.35" fill="#FFFF3C" class="c"/>
<circle cx="259.4" cy="141.8" r="2.35" fill="#FF6699" class="c"/>
<circle cx="231.9" cy="152.3" r="2.35" fill="#FF0000" class="c"/>
<circle cx="208.7" cy="129.9" r="2.35" fill="#FF3399" class="c"/>
<circle cx="242" cy="144.9" r="2.35" fill="#FFFF3C" class="c"/>
<circle cx="260.1" cy="164.1" r="2.35" fill="#FFFF3C" class="c"/>
<circle cx="267.3" cy="187.1" r="2.35" fill="#FF6699" class="c"/>
<circle cx="270.9" cy="169" r="2.35" fill="#FF3399" class="c"/>
<circle cx="251.3" cy="158.2" r="2.35" fill="#FFFF3C" class="c"/>
<circle cx="211.5" cy="91" r="2.35" fill="#FF6699" class="c"/>
<circle cx="248.5" cy="117.7" r="2.35" fill="#FF3399" class="c"/>
<circle cx="253.1" cy="171.1" r="2.35" fill="#FFFF3C" class="c"/>
<circle cx="228.3" cy="175.2" r="2.35" fill="#FFFF99" class="c"/>
<circle cx="206.7" cy="92.2" r="2.35" fill="#FF9999" class="c"/>
<circle cx="229.2" cy="156.2" r="2.35" fill="#FFFF3C" class="c"/>
<circle cx="174.4" cy="170.1" r="2.35" fill="#CCFF99" class="c"/>
<circle cx="297.3" cy="204.1" r="2.35" fill="#FF3399" class="c"/>
<circle cx="261" cy="169.1" r="2.35" fill="#FFFF99" class="c"/>
<circle cx="287.4" cy="202.7" r="2.35" fill="#FF3399" class="c"/>
<circle cx="263" cy="143.9" r="2.35" fill="#FF6699" class="c"/>
<circle cx="107.5" cy="220.5" r="2.35" fill="#99FFCC" class="c"/>
<circle cx="228" cy="165.4" r="2.35" fill="#FF6699" class="c"/>
<circle cx="240.7" cy="114.2" r="2.35" fill="#FF0066" class="c"/>
<circle cx="210.6" cy="99.2" r="2.35" fill="#FFFF99" class="c"/>
<circle cx="134.3" cy="169.2" r="2.35" fill="#CCFF99" class="c"/>
<circle cx="250" cy="177.9" r="2.35" fill="#FF3399" class="c"/>
<circle cx="277.2" cy="168.2" r="2.35" fill="#FF6699" class="c"/>
<circle cx="197.7" cy="109.4" r="2.35" fill="#FF9999" class="c"/>
<circle cx="129.5" cy="187.1" r="2.35" fill="#99FFCC" class="c"/>
<circle cx="275.4" cy="165.1" r="2.35" fill="#FF0066" class="c"/>
<circle cx="210.7" cy="184.4" r="2.35" fill="#FF6699" class="c"/>
<circle cx="217.2" cy="122.9" r="2.35" fill="#FFFF3C" class="c"/>
<circle cx="220" cy="112.9" r="2.35" fill="#FF9999" class="c"/>
<circle cx="257.8" cy="177.5" r="2.35" fill="#FFFF3C" class="c"/>
<circle cx="211.3" cy="183.8" r="2.35" fill="#FFFF3C" class="c"/>
<circle cx="122.1" cy="189.5" r="2.35" fill="#FFFF3C" class="c"/>
<circle cx="220.8" cy="114.4" r="2.35" fill="#FF0066" class="c"/>
<circle cx="278.7" cy="177.2" r="2.35" fill="#FF6699" class="c"/>
<circle cx="218" cy="113.1" r="2.35" fill="#FF3399" class="c"/>
<circle cx="247.3" cy="119.4" r="2.35" fill="#FF3399" class="c"/>
<circle cx="284.6" cy="182.7" r="2.35" fill="#FFFF3C" class="c"/>
<circle cx="280.6" cy="195.1" r="2.35" fill="#CCFF99" class="c"/>
<circle cx="224.4" cy="170.4" r="2.35" fill="#FF6699" class="c"/>
<circle cx="241.3" cy="185.8" r="2.35" fill="#FFFF3C" class="c"/>
<circle cx="271.7" cy="178.7" r="2.35" fill="#FF6699" class="c"/>
<circle cx="251.9" cy="153" r="2.35" fill="#FF3399" class="c"/>
<circle cx="297.6" cy="208.4" r="2.35" fill="#FF9999" class="c"/>
<circle cx="225.8" cy="116.4" r="2.35" fill="#FF6699" class="c"/>
<circle cx="252.3" cy="154.3" r="2.35" fill="#FF0066" class="c"/>
<circle cx="250.6" cy="124.9" r="2.35" fill="#FFFF99" class="c"/>
<circle cx="223.9" cy="85.3" r="2.35" fill="#FF6699" class="c"/>
<circle cx="121.9" cy="198.6" r="2.35" fill="#99FFCC" class="c"/>
<circle cx="230.7" cy="175.1" r="2.35" fill="#FF3399" class="c"/>
<circle cx="277.2" cy="186.3" r="2.35" fill="#FFFF3C" class="c"/>
<circle cx="218" cy="89.2" r="2.35" fill="#FF3399" class="c"/>
<circle cx="238.6" cy="118.2" r="2.35" fill="#FFFF99" class="c"/>
<circle cx="245.8" cy="120.7" r="2.35" fill="#FF6699" class="c"/>
<circle cx="256.6" cy="181.6" r="2.35" fill="#FF6699" class="c"/>
<circle cx="213.5" cy="156.8" r="2.35" fill="#FFFF3C" class="c"/>
<circle cx="225.1" cy="111.6" r="2.35" fill="#FFFF3C" class="c"/>
<circle cx="291.4" cy="195.2" r="2.35" fill="#FF0066" class="c"/>
<circle cx="133.4" cy="212.1" r="2.35" fill="#99FFCC" class="c"/>
<circle cx="252.9" cy="176.8" r="2.35" fill="#FFFF3C" class="c"/>
<circle cx="228" cy="170.1" r="2.35" fill="#FFFF99" class="c"/>
<circle cx="231.7" cy="107" r="2.35" fill="#FF3399" class="c"/>
<circle cx="236.6" cy="97.8" r="2.35" fill="#FF0066" class="c"/>
<circle cx="166.8" cy="231.4" r="2.35" fill="#99FFCC" class="c"/>
<circle cx="282.7" cy="196.6" r="2.35" fill="#CCFF99" class="c"/>
<circle cx="234.7" cy="98" r="2.35" fill="#FF6699" class="c"/>
<circle cx="190.4" cy="170.4" r="2.35" fill="#FFFF3C" class="c"/>
<circle cx="215.1" cy="155.2" r="2.35" fill="#FFFF99" class="c"/>
<circle cx="213.9" cy="99.8" r="2.35" fill="#FF3399" class="c"/>
<circle cx="164" cy="162.9" r="2.35" fill="#CCFF99" class="c"/>
<circle cx="178.9" cy="165.9" r="2.35" fill="#FFFF99" class="c"/>
<circle cx="261.6" cy="142.8" r="2.35" fill="#FF6699" class="c"/>
<circle cx="277.4" cy="175.7" r="2.35" fill="#FFFF99" class="c"/>
<circle cx="217.2" cy="139.8" r="2.35" fill="#FFFF99" class="c"/>
<circle cx="216.3" cy="101.7" r="2.35" fill="#FF3399" class="c"/>
<circle cx="246.3" cy="143.6" r="2.35" fill="#FF6699" class="c"/>
<circle cx="262.6" cy="175.2" r="2.35" fill="#FFCC66" class="c"/>
<circle cx="233.3" cy="101.7" r="2.35" fill="#FF0066" class="c"/>
<circle cx="274" cy="207.3" r="2.35" fill="#FFFF3C" class="c"/>
<circle cx="271.7" cy="175" r="2.35" fill="#FFFF3C" class="c"/>
<circle cx="250.7" cy="124.9" r="2.35" fill="#FF3399" class="c"/>
<circle cx="275.9" cy="169.1" r="2.35" fill="#FF6699" class="c"/>
<circle cx="217.6" cy="116.6" r="2.35" fill="#FF6699" class="c"/>
<circle cx="210.9" cy="109.8" r="2.35" fill="#FF9999" class="c"/>
<circle cx="290.4" cy="192.9" r="2.35" fill="#FF3399" class="c"/>
<circle cx="245.4" cy="155.5" r="2.35" fill="#FFFF3C" class="c"/>
<circle cx="262.9" cy="176.9" r="2.35" fill="#FF0066" class="c"/>
<circle cx="131" cy="174.5" r="2.35" fill="#FFFF99" class="c"/>
<circle cx="258.3" cy="168.9" r="2.35" fill="#FFFF3C" class="c"/>
<circle cx="237.6" cy="99.6" r="2.35" fill="#FF6699" class="c"/>
<circle cx="284.3" cy="191.7" r="2.35" fill="#FF3399" class="c"/>
<circle cx="250.3" cy="123.1" r="2.35" fill="#FF3399" class="c"/>
<circle cx="275.4" cy="199.7" r="2.35" fill="#CCFF99" class="c"/>
<circle cx="251.9" cy="169.6" r="2.35" fill="#FF3399" class="c"/>
<circle cx="191.7" cy="119" r="2.35" fill="#FFFF99" class="c"/>
<circle cx="266.9" cy="174" r="2.35" fill="#FF6699" class="c"/>
<circle cx="183.2" cy="138.8" r="2.35" fill="#FFFF3C" class="c"/>
<circle cx="265" cy="186.3" r="2.35" fill="#fff" class="c"/>
<circle cx="215" cy="107.3" r="2.35" fill="#FF3399" class="c"/>
<circle cx="155.4" cy="176.9" r="2.35" fill="#FFFF3C" class="c"/>
<circle cx="237.6" cy="118.4" r="2.35" fill="#FF9999" class="c"/>
<circle cx="263.6" cy="166.1" r="2.35" fill="#FFFF99" class="c"/>
<circle cx="254.8" cy="179.6" r="2.35" fill="#FFFF3C" class="c"/>
<circle cx="240.4" cy="154.8" r="2.35" fill="#FF9999" class="c"/>
<circle cx="234.6" cy="160.9" r="2.35" fill="#FFFF3C" class="c"/>
<circle cx="139.3" cy="183.4" r="2.35" fill="#FFFF3C" class="c"/>
<circle cx="272.9" cy="173.4" r="2.35" fill="#FF9999" class="c"/>
<circle cx="270.7" cy="164.2" r="2.35" fill="#FF3399" class="c"/>
<circle cx="236.7" cy="113.2" r="2.35" fill="#FFFF3C" class="c"/>
<circle cx="225.6" cy="115.6" r="2.35" fill="#FF3399" class="c"/>
<circle cx="248.4" cy="144.9" r="2.35" fill="#FF0000" class="c"/>
<circle cx="225.8" cy="211.1" r="2.35" fill="#CCFF99" class="c"/>
<circle cx="184.1" cy="219.6" r="2.35" fill="#CCFF99" class="c"/>
<circle cx="210.8" cy="116.4" r="2.35" fill="#FF6699" class="c"/>
<circle cx="203" cy="208.8" r="2.35" fill="#FF6699" class="c"/>
<circle cx="240.9" cy="132.7" r="2.35" fill="#FF3399" class="c"/>
<circle cx="246.6" cy="145.2" r="2.35" fill="#FF3399" class="c"/>
<circle cx="284.1" cy="183.7" r="2.35" fill="#CCFF99" class="c"/>
<circle cx="232.7" cy="94" r="2.35" fill="#FFFF3C" class="c"/>
<circle cx="281" cy="198" r="2.35" fill="#FFFF3C" class="c"/>
<circle cx="225.4" cy="156.7" r="2.35" fill="#FF3399" class="c"/>
<circle cx="214.8" cy="150.2" r="2.35" fill="#FF3399" class="c"/>
<circle cx="237.5" cy="198.6" r="2.35" fill="#FF6699" class="c"/>
<circle cx="275.4" cy="164.6" r="2.35" fill="#FFFF99" class="c"/>
<circle cx="215.1" cy="119.1" r="2.35" fill="#FF0066" class="c"/>
<circle cx="201.8" cy="151.2" r="2.35" fill="#CCFF99" class="c"/>
<circle cx="246.4" cy="117.2" r="2.35" fill="#FFFF3C" class="c"/>
<circle cx="298.5" cy="208.7" r="2.35" fill="#FF3399" class="c"/>
<circle cx="263.8" cy="146.7" r="2.35" fill="#FF3399" class="c"/>
<circle cx="263" cy="172.3" r="2.35" fill="#CCFF99" class="c"/>
<circle cx="215.5" cy="163.4" r="2.35" fill="#FF0000" class="c"/>
<circle cx="181" cy="145.5" r="2.35" fill="#FFFF99" class="c"/>
<circle cx="241.8" cy="106.6" r="2.35" fill="#FF3399" class="c"/>
<circle cx="196.1" cy="184.2" r="2.35" fill="#FF9999" class="c"/>
<circle cx="226.2" cy="85.3" r="2.35" fill="#FF3399" class="c"/>
<circle cx="155.2" cy="156.3" r="2.35" fill="#FFFF3C" class="c"/>
<circle cx="230" cy="153.9" r="2.35" fill="#FF0000" class="c"/>
<circle cx="277.3" cy="169.8" r="2.35" fill="#CCFF99" class="c"/>
<circle cx="272.2" cy="199.4" r="2.35" fill="#FFFF99" class="c"/>
<circle cx="260.7" cy="167.1" r="2.35" fill="#fff" class="c"/>
<circle cx="277.6" cy="169.2" r="2.35" fill="#FF3399" class="c"/>
<circle cx="281.6" cy="181.5" r="2.35" fill="#FF3399" class="c"/>
<circle cx="262.2" cy="148.3" r="2.35" fill="#FF3399" class="c"/>
<circle cx="222" cy="96.3" r="2.35" fill="#FF3399" class="c"/>
<circle cx="278.2" cy="194.6" r="2.35" fill="#FF0000" class="c"/>
<circle cx="196.6" cy="137.9" r="2.35" fill="#FFFF99" class="c"/>
<circle cx="266.6" cy="153.7" r="2.35" fill="#FF3399" class="c"/>
<circle cx="135.2" cy="204.6" r="2.35" fill="#FFFF3C" class="c"/>
<circle cx="277.2" cy="174.7" r="2.35" fill="#FF3399" class="c"/>
<circle cx="247.1" cy="134.2" r="2.35" fill="#FF9999" class="c"/>
<circle cx="230.3" cy="86" r="2.35" fill="#FFFF3C" class="c"/>
<circle cx="223.6" cy="110.3" r="2.35" fill="#FF0066" class="c"/>
<circle cx="205.9" cy="145.2" r="2.35" fill="#fff" class="c"/>
<circle cx="189.4" cy="162.3" r="2.35" fill="#FF6699" class="c"/>
<circle cx="280.6" cy="192.2" r="2.35" fill="#FF3399" class="c"/>
<circle cx="211.9" cy="121.8" r="2.35" fill="#CCFF99" class="c"/>
<circle cx="256.1" cy="137.3" r="2.35" fill="#FF3399" class="c"/>
<circle cx="237.9" cy="104.9" r="2.35" fill="#FF3399" class="c"/>
<circle cx="240.5" cy="181.8" r="2.35" fill="#FF6699" class="c"/>
<circle cx="270.8" cy="224.7" r="2.35" fill="#FFFF3C" class="c"/>
<circle cx="130.8" cy="199.4" r="2.35" fill="#FFFF3C" class="c"/>
<circle cx="81.5" cy="234.8" r="2.35" fill="#FFFF3C" class="c"/>
<circle cx="275.5" cy="196.3" r="2.35" fill="#FFFF3C" class="c"/>
<circle cx="211.7" cy="151.5" r="2.35" fill="#FFCC66" class="c"/>
<circle cx="225.3" cy="162.6" r="2.35" fill="#FFFF3C" class="c"/>
<circle cx="235.9" cy="200.7" r="2.35" fill="#99FFCC" class="c"/>
<circle cx="201.1" cy="190.8" r="2.35" fill="#99FFCC" class="c"/>
<circle cx="68.5" cy="242.3" r="2.35" fill="#99FFCC" class="c"/>
<circle cx="200.6" cy="110.6" r="2.35" fill="#FFFF3C" class="c"/>
<circle cx="252.8" cy="164.5" r="2.35" fill="#FF3399" class="c"/>
<circle cx="217.7" cy="133.3" r="2.35" fill="#FFFF3C" class="c"/>
<circle cx="264.6" cy="149.5" r="2.35" fill="#FF3399" class="c"/>
<circle cx="235.7" cy="124.5" r="2.35" fill="#FF3399" class="c"/>
<circle cx="180.5" cy="153.8" r="2.35" fill="#FFFF99" class="c"/>
<circle cx="142.7" cy="205.3" r="2.35" fill="#FFFF3C" class="c"/>
<circle cx="277.3" cy="173.4" r="2.35" fill="#FF3399" class="c"/>
<circle cx="236.8" cy="131.7" r="2.35" fill="#FF6699" class="c"/>
<circle cx="254" cy="142.8" r="2.35" fill="#FF0066" class="c"/>
<circle cx="174.1" cy="185.9" r="2.35" fill="#CCFF99" class="c"/>
<circle cx="188.8" cy="188.4" r="2.35" fill="#FFFF99" class="c"/>
<circle cx="279.3" cy="175.1" r="2.35" fill="#FF0066" class="c"/>
<circle cx="228.7" cy="86.8" r="2.35" fill="#FF3399" class="c"/>
<circle cx="244.4" cy="110.5" r="2.35" fill="#FF3399" class="c"/>
<circle cx="165.4" cy="180.3" r="2.35" fill="#CCFF99" class="c"/>
<circle cx="236.6" cy="96.5" r="2.35" fill="#FF0066" class="c"/>
<circle cx="203.7" cy="178.2" r="2.35" fill="#FF0000" class="c"/>
<circle cx="234" cy="96.8" r="2.35" fill="#FF3399" class="c"/>
<circle cx="257" cy="183.7" r="2.35" fill="#FFFF3C" class="c"/>
<circle cx="266" cy="155.4" r="2.35" fill="#FF3399" class="c"/>
<circle cx="299.6" cy="207.3" r="2.35" fill="#FF6699" class="c"/>
<circle cx="210.8" cy="182.4" r="2.35" fill="#FFFF3C" class="c"/>
<circle cx="204.4" cy="111.2" r="2.35" fill="#FF3399" class="c"/>
<circle cx="180.2" cy="171.3" r="2.35" fill="#FFFF3C" class="c"/>
<circle cx="275" cy="184.2" r="2.35" fill="#FF6699" class="c"/>
<circle cx="237.4" cy="105.9" r="2.35" fill="#FF3399" class="c"/>
<circle cx="249.1" cy="144.3" r="2.35" fill="#FFFF99" class="c"/>
<circle cx="225" cy="123.8" r="2.35" fill="#FF3399" class="c"/>
<circle cx="261.2" cy="197.7" r="2.35" fill="#FF3399" class="c"/>
<circle cx="286" cy="245.3" r="2.35" fill="#FFFF3C" class="c"/>
<circle cx="110.2" cy="245.5" r="2.35" fill="#99FFCC" class="c"/>
<circle cx="215.5" cy="87.4" r="2.35" fill="#FFFF99" class="c"/>
<circle cx="75.5" cy="252.7" r="2.35" fill="#FFCC66" class="c"/>
<circle cx="200.4" cy="163.2" r="2.35" fill="#FFFF3C" class="c"/>
<circle cx="211.9" cy="140.5" r="2.35" fill="#FF3399" class="c"/>
<circle cx="257.1" cy="133.9" r="2.35" fill="#FF3399" class="c"/>
<circle cx="211.7" cy="164.6" r="2.35" fill="#FFFF3C" class="c"/>
<circle cx="278.7" cy="196.3" r="2.35" fill="#fff" class="c"/>
<circle cx="286.6" cy="186.7" r="2.35" fill="#FF3399" class="c"/>
<circle cx="232.3" cy="93.1" r="2.35" fill="#FFFF3C" class="c"/>
<circle cx="294.9" cy="207" r="2.35" fill="#FF9999" class="c"/>
<circle cx="299" cy="207" r="2.35" fill="#CCFF99" class="c"/>
<circle cx="246.8" cy="127.7" r="2.35" fill="#FF0066" class="c"/>
<circle cx="296.9" cy="207.6" r="2.35" fill="#CCFF99" class="c"/>
<circle cx="226" cy="198.6" r="2.35" fill="#fff" class="c"/>
<circle cx="222.9" cy="116.3" r="2.35" fill="#FFFF99" class="c"/>
<circle cx="215" cy="139.5" r="2.35" fill="#FFFF3C" class="c"/>
<circle cx="259.2" cy="167.2" r="2.35" fill="#FF3399" class="c"/>
<circle cx="239.2" cy="102.9" r="2.35" fill="#FF3399" class="c"/>
<circle cx="281.8" cy="177.8" r="2.35" fill="#CCFF99" class="c"/>
<circle cx="260.6" cy="182.2" r="2.35" fill="#FFFF3C" class="c"/>
<circle cx="238.6" cy="109.7" r="2.35" fill="#FF6699" class="c"/>
<circle cx="250.9" cy="189.7" r="2.35" fill="#FFFF3C" class="c"/>
<circle cx="165.9" cy="230.9" r="2.35" fill="#99FFCC" class="c"/>
<circle cx="241.6" cy="108" r="2.35" fill="#FF3399" class="c"/>
<circle cx="244.5" cy="114.7" r="2.35" fill="#FF3399" class="c"/>
<circle cx="254.4" cy="188.6" r="2.35" fill="#CCFF99" class="c"/>
<circle cx="291.8" cy="203.8" r="2.35" fill="#FF3399" class="c"/>
<circle cx="265.4" cy="148" r="2.35" fill="#FFFF3C" class="c"/>
<circle cx="243" cy="108.8" r="2.35" fill="#FF0000" class="c"/>
<circle cx="232.1" cy="187.2" r="2.35" fill="#FFFF3C" class="c"/>
<circle cx="243.7" cy="123.9" r="2.35" fill="#FFFF99" class="c"/>
<circle cx="151.8" cy="175" r="2.35" fill="#99FFCC" class="c"/>
<circle cx="232.3" cy="92.7" r="2.35" fill="#FF0066" class="c"/>
<circle cx="226.5" cy="96" r="2.35" fill="#FFFF3C" class="c"/>
<circle cx="217.8" cy="116.2" r="2.35" fill="#FFFF99" class="c"/>
<circle cx="217.1" cy="197.2" r="2.35" fill="#FFFF3C" class="c"/>
<circle cx="274.1" cy="162.5" r="2.35" fill="#FF6699" class="c"/>
<circle cx="226.7" cy="164.1" r="2.35" fill="#CCFF99" class="c"/>
<circle cx="195.5" cy="188.5" r="2.35" fill="#99FFCC" class="c"/>
<circle cx="212.4" cy="95" r="2.35" fill="#FF9999" class="c"/>
<circle cx="204.9" cy="111.6" r="2.35" fill="#FF6699" class="c"/>
<circle cx="253" cy="179.3" r="2.35" fill="#FF3399" class="c"/>
<circle cx="212.2" cy="106.3" r="2.35" fill="#FF0066" class="c"/>
<circle cx="223.6" cy="141.6" r="2.35" fill="#FFFF99" class="c"/>
<circle cx="153" cy="184.4" r="2.35" fill="#99FFCC" class="c"/>
<circle cx="265.4" cy="149.5" r="2.35" fill="#FF3399" class="c"/>
<circle cx="208.9" cy="161.3" r="2.35" fill="#FFFF3C" class="c"/>
<circle cx="220.6" cy="143.1" r="2.35" fill="#FFFF99" class="c"/>
<circle cx="252.3" cy="125.9" r="2.35" fill="#FF0066" class="c"/>
<circle cx="266.9" cy="161" r="2.35" fill="#FF3399" class="c"/>
<circle cx="254.5" cy="132.4" r="2.35" fill="#FF3399" class="c"/>
<circle cx="222.1" cy="113.1" r="2.35" fill="#FF3399" class="c"/>
<circle cx="262.4" cy="184.1" r="2.35" fill="#FF6699" class="c"/>
<circle cx="280" cy="172.4" r="2.35" fill="#FF3399" class="c"/>
<circle cx="250.3" cy="147.6" r="2.35" fill="#FF3399" class="c"/>
<circle cx="237.5" cy="183.4" r="2.35" fill="#FFFF3C" class="c"/>
<circle cx="222.1" cy="94.9" r="2.35" fill="#FF3399" class="c"/>
<circle cx="241.4" cy="114.2" r="2.35" fill="#FF3399" class="c"/>
<circle cx="227.4" cy="168.3" r="2.35" fill="#FFFF3C" class="c"/>
<circle cx="233.2" cy="99.2" r="2.35" fill="#FFCC66" class="c"/>
<circle cx="221.9" cy="156.4" r="2.35" fill="#FFFF3C" class="c"/>
<circle cx="218.6" cy="87.6" r="2.35" fill="#FF6699" class="c"/>
<circle cx="211.2" cy="139.3" r="2.35" fill="#99FFCC" class="c"/>
<circle cx="208.5" cy="102.8" r="2.35" fill="#FF3399" class="c"/>
<circle cx="197.4" cy="176.9" r="2.35" fill="#CCFF99" class="c"/>
<circle cx="199.5" cy="185.3" r="2.35" fill="#CCFF99" class="c"/>
<circle cx="288.1" cy="190.5" r="2.35" fill="#FF3399" class="c"/>
<circle cx="265.7" cy="158.4" r="2.35" fill="#FFFF3C" class="c"/>
<circle cx="235.5" cy="142.9" r="2.35" fill="#FFFF99" class="c"/>
<circle cx="213.2" cy="95.4" r="2.35" fill="#FFFF99" class="c"/>
<circle cx="274.4" cy="164.6" r="2.35" fill="#FFFF99" class="c"/>
<circle cx="272.7" cy="175.7" r="2.35" fill="#FF3399" class="c"/>
<circle cx="195.4" cy="176.9" r="2.35" fill="#CCFF99" class="c"/>
<circle cx="194.1" cy="105.5" r="2.35" fill="#FF6699" class="c"/>
<circle cx="214" cy="105.4" r="2.35" fill="#FF0000" class="c"/>
<circle cx="242.5" cy="130.8" r="2.35" fill="#FF3399" class="c"/>
<circle cx="152" cy="181.2" r="2.35" fill="#FFFF3C" class="c"/>
<circle cx="241.3" cy="120" r="2.35" fill="#FF3399" class="c"/>
<circle cx="268.3" cy="157.3" r="2.35" fill="#FF6699" class="c"/>
<circle cx="212.1" cy="119.5" r="2.35" fill="#FF6699" class="c"/>
<circle cx="101.5" cy="233.2" r="2.35" fill="#CCFF99" class="c"/>
<circle cx="256" cy="155.4" r="2.35" fill="#FFCC66" class="c"/>
<circle cx="272" cy="181.8" r="2.35" fill="#FFFF3C" class="c"/>
<circle cx="287.6" cy="193.9" r="2.35" fill="#FFFF3C" class="c"/>
<circle cx="194" cy="142" r="2.35" fill="#FF9999" class="c"/>
<circle cx="279" cy="189.1" r="2.35" fill="#FF0066" class="c"/>
<circle cx="258.1" cy="135.4" r="2.35" fill="#FF0066" class="c"/>
<circle cx="238.4" cy="189.7" r="2.35" fill="#FF6699" class="c"/>
<circle cx="247" cy="186.7" r="2.35" fill="#FFCC66" class="c"/>
<circle cx="277.4" cy="181" r="2.35" fill="#CCFF99" class="c"/>
<circle cx="231.7" cy="89" r="2.35" fill="#FF3399" class="c"/>
<circle cx="267.5" cy="152.2" r="2.35" fill="#CCFF99" class="c"/>
<circle cx="215.2" cy="100.2" r="2.35" fill="#FF0066" class="c"/>
<circle cx="298.4" cy="207.8" r="2.35" fill="#FF3399" class="c"/>
<circle cx="238.2" cy="150.7" r="2.35" fill="#FF0066" class="c"/>
<circle cx="224.2" cy="134.2" r="2.35" fill="#FF3399" class="c"/>
<circle cx="240.9" cy="197.6" r="2.35" fill="#FFFF3C" class="c"/>
<circle cx="218.1" cy="112.3" r="2.35" fill="#FFFF3C" class="c"/>
<circle cx="219.7" cy="120.2" r="2.35" fill="#FF0000" class="c"/>
<circle cx="263.6" cy="151.4" r="2.35" fill="#FF0000" class="c"/>
<circle cx="222" cy="115.8" r="2.35" fill="#FF6699" class="c"/>
<circle cx="148.5" cy="182.7" r="2.35" fill="#CCFF99" class="c"/>
<circle cx="237.9" cy="107.3" r="2.35" fill="#FF3399" class="c"/>
<circle cx="251.9" cy="184.3" r="2.35" fill="#FF3399" class="c"/>
<circle cx="246.4" cy="192.4" r="2.35" fill="#FFFF3C" class="c"/>
<circle cx="250.2" cy="182.8" r="2.35" fill="#CCFF99" class="c"/>
<circle cx="273.7" cy="187.4" r="2.35" fill="#99FFCC" class="c"/>
<circle cx="249" cy="120.6" r="2.35" fill="#FF3399" class="c"/>
<circle cx="260" cy="190.1" r="2.35" fill="#FFFF99" class="c"/>
<circle cx="260.5" cy="150.7" r="2.35" fill="#FFFF99" class="c"/>
<circle cx="280.1" cy="172.4" r="2.35" fill="#FF0066" class="c"/>
<circle cx="275" cy="166.3" r="2.35" fill="#FFFF3C" class="c"/>
<circle cx="248.1" cy="168.3" r="2.35" fill="#FF6699" class="c"/>
<circle cx="262.1" cy="145.9" r="2.35" fill="#FF3399" class="c"/>
<circle cx="185.9" cy="191.1" r="2.35" fill="#FF9999" class="c"/>
<circle cx="248.7" cy="136.7" r="2.35" fill="#FFFF99" class="c"/>
<circle cx="227.5" cy="114.6" r="2.35" fill="#FFFF99" class="c"/>
<circle cx="235.2" cy="111.9" r="2.35" fill="#FF3399" class="c"/>
<circle cx="249.2" cy="124.7" r="2.35" fill="#FF9999" class="c"/>
<circle cx="299.6" cy="206.4" r="2.35" fill="#FF9999" class="c"/>
<circle cx="258.6" cy="180.9" r="2.35" fill="#FF6699" class="c"/>
<circle cx="218.7" cy="152.3" r="2.35" fill="#CCFF99" class="c"/>
<circle cx="275.4" cy="197.1" r="2.35" fill="#FF6699" class="c"/>
<circle cx="206.6" cy="122.1" r="2.35" fill="#FFFF3C" class="c"/>
<circle cx="218.5" cy="167.7" r="2.35" fill="#FFFF3C" class="c"/>
<circle cx="273.5" cy="177.1" r="2.35" fill="#FFFF3C" class="c"/>
<circle cx="178.3" cy="158.5" r="2.35" fill="#CCFF99" class="c"/>
<circle cx="186" cy="180.7" r="2.35" fill="#FFCC66" class="c"/>
<circle cx="246.2" cy="118.8" r="2.35" fill="#FF3399" class="c"/>
<circle cx="216.6" cy="149.6" r="2.35" fill="#FFFF3C" class="c"/>
<circle cx="205.6" cy="114.7" r="2.35" fill="#FF6699" class="c"/>
<circle cx="209.1" cy="146.8" r="2.35" fill="#FFFF3C" class="c"/>
<circle cx="280.9" cy="175.4" r="2.35" fill="#FFFF3C" class="c"/>
<circle cx="175.1" cy="131.7" r="2.35" fill="#CCFF99" class="c"/>
<circle cx="191" cy="163.8" r="2.35" fill="#FFFF99" class="c"/>
<circle cx="249" cy="162.7" r="2.35" fill="#FFFF3C" class="c"/>
<circle cx="287.6" cy="225.9" r="2.35" fill="#FF9999" class="c"/>
<circle cx="287.8" cy="196.3" r="2.35" fill="#FF3399" class="c"/>
<circle cx="191.2" cy="179.3" r="2.35" fill="#99FFCC" class="c"/>
<circle cx="279.1" cy="202" r="2.35" fill="#CCFF99" class="c"/>
<circle cx="254.6" cy="132.2" r="2.35" fill="#FF0066" class="c"/>
<circle cx="230.8" cy="89.1" r="2.35" fill="#FFFF3C" class="c"/>
<circle cx="257.6" cy="164.2" r="2.35" fill="#FF0066" class="c"/>
<circle cx="243.7" cy="116.2" r="2.35" fill="#FF3399" class="c"/>
<circle cx="236.7" cy="139" r="2.35" fill="#FF9999" class="c"/>
<circle cx="212.7" cy="108.4" r="2.35" fill="#FF3399" class="c"/>
<circle cx="209.3" cy="116.1" r="2.35" fill="#FF3399" class="c"/>
<circle cx="173.2" cy="225.1" r="2.35" fill="#fff" class="c"/>
<circle cx="172.7" cy="200.7" r="2.35" fill="#FFFF3C" class="c"/>
<circle cx="204" cy="121.7" r="2.35" fill="#FF6699" class="c"/>
<circle cx="285.5" cy="196" r="2.35" fill="#FFFF3C" class="c"/>
<circle cx="225.6" cy="91.2" r="2.35" fill="#FF0066" class="c"/>
<circle cx="249.2" cy="175.5" r="2.35" fill="#FF6699" class="c"/>
<circle cx="271.1" cy="177" r="2.35" fill="#FF9999" class="c"/>
<circle cx="205.9" cy="107.9" r="2.35" fill="#FF6699" class="c"/>
<circle cx="235.9" cy="195.9" r="2.35" fill="#FF3399" class="c"/>
<circle cx="274.7" cy="189.9" r="2.35" fill="#FF0000" class="c"/>
<circle cx="228.3" cy="111.8" r="2.35" fill="#CCFF99" class="c"/>
<circle cx="286.8" cy="190.6" r="2.35" fill="#FF6699" class="c"/>
<circle cx="223.6" cy="160.5" r="2.35" fill="#FF0066" class="c"/>
<circle cx="294" cy="203.9" r="2.35" fill="#FF3399" class="c"/>
<circle cx="274.4" cy="162.6" r="2.35" fill="#CCFF99" class="c"/>
<circle cx="250.4" cy="151.2" r="2.35" fill="#FFFF3C" class="c"/>
<circle cx="272.5" cy="160.4" r="2.35" fill="#FF0066" class="c"/>
<circle cx="224" cy="163.1" r="2.35" fill="#FFFF3C" class="c"/>
<circle cx="201.6" cy="99.9" r="2.35" fill="#FFFF99" class="c"/>
<circle cx="212.3" cy="138.3" r="2.35" fill="#FFFF3C" class="c"/>
<circle cx="220.4" cy="100.3" r="2.35" fill="#FFFF99" class="c"/>
<circle cx="261.8" cy="179.2" r="2.35" fill="#FF3399" class="c"/>
<circle cx="221.3" cy="102.9" r="2.35" fill="#FFFF3C" class="c"/>
<circle cx="255.2" cy="160.9" r="2.35" fill="#FF6699" class="c"/>
<circle cx="285.4" cy="183.3" r="2.35" fill="#FFFF3C" class="c"/>
<circle cx="245.5" cy="138.2" r="2.35" fill="#FF6699" class="c"/>
<circle cx="225" cy="158.5" r="2.35" fill="#FFFF3C" class="c"/>
<circle cx="279.9" cy="173.4" r="2.35" fill="#FFFF3C" class="c"/>
<circle cx="260.8" cy="193.3" r="2.35" fill="#FF6699" class="c"/>
<circle cx="218" cy="108.1" r="2.35" fill="#FF3399" class="c"/>
<circle cx="266.5" cy="170.5" r="2.35" fill="#FF3399" class="c"/>
<circle cx="223.1" cy="88.7" r="2.35" fill="#FF0066" class="c"/>
<circle cx="171.9" cy="173.5" r="2.35" fill="#FFFF3C" class="c"/>
<circle cx="186.7" cy="132.9" r="2.35" fill="#FFFF3C" class="c"/>
<circle cx="224.3" cy="76.7" r="2.35" fill="#FF3399" class="c"/>
<circle cx="167.7" cy="137.3" r="2.35" fill="#FFFF3C" class="c"/>
<circle cx="191.8" cy="153.5" r="2.35" fill="#FFFF3C" class="c"/>
<circle cx="216.1" cy="114.4" r="2.35" fill="#FF3399" class="c"/>
<circle cx="201.9" cy="127.5" r="2.35" fill="#FF3399" class="c"/>
<circle cx="250.1" cy="123.8" r="2.35" fill="#FF0066" class="c"/>
<circle cx="229.6" cy="197.2" r="2.35" fill="#CCFF99" class="c"/>
<circle cx="204.7" cy="181" r="2.35" fill="#FFFF3C" class="c"/>
<circle cx="207.7" cy="142.5" r="2.35" fill="#FFFF3C" class="c"/>
<circle cx="264.1" cy="160.8" r="2.35" fill="#FF3399" class="c"/>
<circle cx="261.8" cy="149.8" r="2.35" fill="#CCFF99" class="c"/>
<circle cx="214.6" cy="100.1" r="2.35" fill="#FF6699" class="c"/>
<circle cx="203.6" cy="109.6" r="2.35" fill="#FFFF99" class="c"/>
<circle cx="158.8" cy="230.1" r="2.35" fill="#FFFF3C" class="c"/>
<circle cx="217.9" cy="151" r="2.35" fill="#FFFF99" class="c"/>
<circle cx="207.2" cy="90.5" r="2.35" fill="#FFFF99" class="c"/>
<circle cx="216.7" cy="164.2" r="2.35" fill="#FFFF99" class="c"/>
<circle cx="250.2" cy="155.6" r="2.35" fill="#FFFF99" class="c"/>
<circle cx="230.3" cy="105" r="2.35" fill="#FF6699" class="c"/>
<circle cx="236.8" cy="109.1" r="2.35" fill="#FF0066" class="c"/>
<circle cx="237.4" cy="98.9" r="2.35" fill="#FF3399" class="c"/>
<circle cx="213.9" cy="121.8" r="2.35" fill="#FF9999" class="c"/>
<circle cx="212.4" cy="108.7" r="2.35" fill="#FF3399" class="c"/>
<circle cx="240" cy="104.9" r="2.35" fill="#FF3399" class="c"/>
<circle cx="214" cy="178.4" r="2.35" fill="#FFFF3C" class="c"/>
<circle cx="135.7" cy="206.6" r="2.35" fill="#FFFF99" class="c"/>
<circle cx="156" cy="190" r="2.35" fill="#99FFCC" class="c"/>
<circle cx="226.7" cy="114.8" r="2.35" fill="#FF0066" class="c"/>
<circle cx="208.7" cy="97.2" r="2.35" fill="#FF6699" class="c"/>
<circle cx="148.1" cy="184.8" r="2.35" fill="#CCFF99" class="c"/>
<circle cx="208.7" cy="123.2" r="2.35" fill="#FF0066" class="c"/>
<circle cx="245.4" cy="180.3" r="2.35" fill="#FFFF3C" class="c"/>
<circle cx="222" cy="93.2" r="2.35" fill="#FFFF99" class="c"/>
<circle cx="268.2" cy="184.6" r="2.35" fill="#FFFF3C" class="c"/>
<circle cx="229.1" cy="87.4" r="2.35" fill="#FF3399" class="c"/>
<circle cx="229.8" cy="109.3" r="2.35" fill="#FF3399" class="c"/>
<circle cx="225" cy="91.4" r="2.35" fill="#FFFF3C" class="c"/>
<circle cx="247.3" cy="116.8" r="2.35" fill="#FFFF3C" class="c"/>
<circle cx="226.6" cy="110.9" r="2.35" fill="#FF0066" class="c"/>
<circle cx="229" cy="164.3" r="2.35" fill="#CCFF99" class="c"/>
<circle cx="106.8" cy="218.5" r="2.35" fill="#fff" class="c"/>
<circle cx="205.2" cy="116.9" r="2.35" fill="#FFFF3C" class="c"/>
<circle cx="208.7" cy="118.4" r="2.35" fill="#FFFF3C" class="c"/>
<circle cx="282.8" cy="189.8" r="2.35" fill="#FFFF3C" class="c"/>
<circle cx="233.2" cy="196.1" r="2.35" fill="#CCFF99" class="c"/>
<circle cx="289.6" cy="189" r="2.35" fill="#FF3399" class="c"/>
<circle cx="143.1" cy="180.4" r="2.35" fill="#FFFF99" class="c"/>
<circle cx="176.5" cy="149.3" r="2.35" fill="#99FFCC" class="c"/>
<circle cx="224.2" cy="122.7" r="2.35" fill="#FF0000" class="c"/>
<circle cx="220.7" cy="202.5" r="2.35" fill="#FFFF3C" class="c"/>
<circle cx="223" cy="127.1" r="2.35" fill="#FFFF99" class="c"/>
<circle cx="215.1" cy="121" r="2.35" fill="#FF3399" class="c"/>
<circle cx="233.8" cy="179.6" r="2.35" fill="#CCFF99" class="c"/>
<circle cx="236.6" cy="127.7" r="2.35" fill="#FFFF3C" class="c"/>
<circle cx="293.9" cy="203.5" r="2.35" fill="#FFFF99" class="c"/>
<circle cx="211.1" cy="127.9" r="2.35" fill="#FF0000" class="c"/>
<circle cx="207.5" cy="100.7" r="2.35" fill="#FF6699" class="c"/>
<circle cx="251.9" cy="132.9" r="2.35" fill="#FFFF3C" class="c"/>
<circle cx="220.5" cy="70.3" r="2.35" fill="#FF9999" class="c"/>
<circle cx="208.2" cy="123.7" r="2.35" fill="#FF6699" class="c"/>
<circle cx="214" cy="109" r="2.35" fill="#FF3399" class="c"/>
<circle cx="224.4" cy="171.6" r="2.35" fill="#FFFF3C" class="c"/>
<circle cx="189.2" cy="112.9" r="2.35" fill="#CCFF99" class="c"/>
<circle cx="268.1" cy="155.7" r="2.35" fill="#FF3399" class="c"/>
<circle cx="226.6" cy="103.5" r="2.35" fill="#FF6699" class="c"/>
<circle cx="189.7" cy="192.5" r="2.35" fill="#FFFF3C" class="c"/>
<circle cx="278.6" cy="177.1" r="2.35" fill="#FF6699" class="c"/>
<circle cx="284.3" cy="179.7" r="2.35" fill="#FFFF3C" class="c"/>
<circle cx="224.1" cy="177.4" r="2.35" fill="#FFFF99" class="c"/>
<circle cx="205" cy="128.1" r="2.35" fill="#FF3399" class="c"/>
<circle cx="191.8" cy="172.1" r="2.35" fill="#99FFCC" class="c"/>
<circle cx="180.9" cy="175.3" r="2.35" fill="#FF0000" class="c"/>
<circle cx="209.1" cy="179.5" r="2.35" fill="#FF0000" class="c"/>
<circle cx="173.6" cy="167.5" r="2.35" fill="#FFFF99" class="c"/>
<circle cx="230.2" cy="139.6" r="2.35" fill="#FF3399" class="c"/>
<circle cx="238.1" cy="103.5" r="2.35" fill="#FF3399" class="c"/>
<circle cx="225.9" cy="125.6" r="2.35" fill="#FFFF3C" class="c"/>
<circle cx="244" cy="141" r="2.35" fill="#FFFF99" class="c"/>
<circle cx="155" cy="189.9" r="2.35" fill="#FFFF99" class="c"/>
<circle cx="277" cy="179.7" r="2.35" fill="#FF3399" class="c"/>
<circle cx="195.3" cy="166.5" r="2.35" fill="#CCFF99" class="c"/>
<circle cx="249.8" cy="122.9" r="2.35" fill="#FF0066" class="c"/>
<circle cx="201.7" cy="95" r="2.35" fill="#FF3399" class="c"/>
<circle cx="166.3" cy="208.6" r="2.35" fill="#FFFF99" class="c"/>
<circle cx="230.2" cy="163.9" r="2.35" fill="#FF6699" class="c"/>
<circle cx="247" cy="174.8" r="2.35" fill="#FF3399" class="c"/>
<circle cx="160.6" cy="236.5" r="2.35" fill="#99FFCC" class="c"/>
<circle cx="212" cy="97.1" r="2.35" fill="#FF3399" class="c"/>
<circle cx="234.1" cy="115" r="2.35" fill="#FFFF99" class="c"/>
<circle cx="247.7" cy="147.6" r="2.35" fill="#FF0000" class="c"/>
<circle cx="197.5" cy="112.7" r="2.35" fill="#FFCC66" class="c"/>
<circle cx="223.7" cy="92.7" r="2.35" fill="#FF0066" class="c"/>
<circle cx="275.3" cy="198.8" r="2.35" fill="#99FFCC" class="c"/>
<circle cx="288.7" cy="202.3" r="2.35" fill="#FF3399" class="c"/>
<circle cx="277" cy="178.9" r="2.35" fill="#FFFF99" class="c"/>
<circle cx="130.6" cy="201.1" r="2.35" fill="#CCFF99" class="c"/>
<circle cx="268.2" cy="157.5" r="2.35" fill="#FF3399" class="c"/>
<circle cx="216.2" cy="135.5" r="2.35" fill="#FF0066" class="c"/>
<circle cx="241.7" cy="156.4" r="2.35" fill="#fff" class="c"/>
<circle cx="234.3" cy="113.4" r="2.35" fill="#FFFF99" class="c"/>
<circle cx="282.4" cy="200.6" r="2.35" fill="#fff" class="c"/>
<circle cx="248" cy="116.8" r="2.35" fill="#FF3399" class="c"/>
<circle cx="231.5" cy="174.4" r="2.35" fill="#FF0000" class="c"/>
<circle cx="144.4" cy="184.1" r="2.35" fill="#CCFF99" class="c"/>
<circle cx="258.2" cy="153.5" r="2.35" fill="#FF9999" class="c"/>
<circle cx="213.9" cy="139" r="2.35" fill="#FF0066" class="c"/>
<circle cx="285.7" cy="195" r="2.35" fill="#FF0066" class="c"/>
<circle cx="217.8" cy="156.8" r="2.35" fill="#99FFCC" class="c"/>
<circle cx="253.1" cy="187.7" r="2.35" fill="#FF6699" class="c"/>
<circle cx="213.4" cy="102.9" r="2.35" fill="#FF9999" class="c"/>
<circle cx="227.8" cy="101.9" r="2.35" fill="#FF3399" class="c"/>
<circle cx="291.7" cy="196.3" r="2.35" fill="#FFCC66" class="c"/>
<circle cx="178.1" cy="167" r="2.35" fill="#99FFCC" class="c"/>
<circle cx="266.8" cy="157.9" r="2.35" fill="#FF3399" class="c"/>
<circle cx="273.9" cy="163" r="2.35" fill="#FF3399" class="c"/>
<circle cx="191.9" cy="124.2" r="2.35" fill="#CCFF99" class="c"/>
<circle cx="269.6" cy="155.7" r="2.35" fill="#FF3399" class="c"/>
<circle cx="233.5" cy="154.8" r="2.35" fill="#99FFCC" class="c"/>
<circle cx="222.2" cy="105.8" r="2.35" fill="#FF9999" class="c"/>
<circle cx="276.4" cy="185.4" r="2.35" fill="#FF9999" class="c"/>
<circle cx="250.1" cy="121.5" r="2.35" fill="#FF0066" class="c"/>
<circle cx="187.6" cy="152.1" r="2.35" fill="#FFFF99" class="c"/>
<circle cx="258.4" cy="141.4" r="2.35" fill="#FF6699" class="c"/>
<circle cx="236.7" cy="143.7" r="2.35" fill="#FF3399" class="c"/>
<circle cx="216.4" cy="115.4" r="2.35" fill="#fff" class="c"/>
<circle cx="237.8" cy="106.7" r="2.35" fill="#FF9999" class="c"/>
<circle cx="239.5" cy="122.6" r="2.35" fill="#FF3399" class="c"/>
<circle cx="275.8" cy="165.1" r="2.35" fill="#FFFF99" class="c"/>
<circle cx="156.5" cy="202.5" r="2.35" fill="#FFFF99" class="c"/>
<circle cx="280.9" cy="200.9" r="2.35" fill="#FF3399" class="c"/>
<circle cx="200.7" cy="191.5" r="2.35" fill="#FFFF99" class="c"/>
<circle cx="214" cy="84.2" r="2.35" fill="#FF9999" class="c"/>
<circle cx="213.7" cy="90.3" r="2.35" fill="#FF9999" class="c"/>
<circle cx="244.8" cy="137.5" r="2.35" fill="#CCFF99" class="c"/>
<circle cx="293.4" cy="202.4" r="2.35" fill="#FF6699" class="c"/>
<circle cx="240.5" cy="120.8" r="2.35" fill="#FFFF99" class="c"/>
<circle cx="240.2" cy="180.1" r="2.35" fill="#FF9999" class="c"/>
<circle cx="254.3" cy="160.7" r="2.35" fill="#FFFF3C" class="c"/>
<circle cx="285.4" cy="235.3" r="2.35" fill="#FFFF3C" class="c"/>
<circle cx="230.6" cy="162.1" r="2.35" fill="#FFCC66" class="c"/>
<circle cx="292.5" cy="206.9" r="2.35" fill="#FFFF99" class="c"/>
<circle cx="284.6" cy="184.1" r="2.35" fill="#FF3399" class="c"/>
<circle cx="236.8" cy="104" r="2.35" fill="#FFCC66" class="c"/>
<circle cx="280.5" cy="191.8" r="2.35" fill="#CCFF99" class="c"/>
<circle cx="260" cy="189.4" r="2.35" fill="#FFFF3C" class="c"/>
<circle cx="247.7" cy="156.5" r="2.35" fill="#FF3399" class="c"/>
<circle cx="265.3" cy="166.3" r="2.35" fill="#FF3399" class="c"/>
<circle cx="276.2" cy="166.2" r="2.35" fill="#FFFF3C" class="c"/>
<circle cx="251" cy="149.3" r="2.35" fill="#FF3399" class="c"/>
<circle cx="237.5" cy="175.4" r="2.35" fill="#FF0066" class="c"/>
<circle cx="250.7" cy="161.7" r="2.35" fill="#FF0066" class="c"/>
<circle cx="100.8" cy="217.3" r="2.35" fill="#FFFF3C" class="c"/>
<circle cx="160.5" cy="188.4" r="2.35" fill="#99FFCC" class="c"/>
<circle cx="252.7" cy="126.1" r="2.35" fill="#FF9999" class="c"/>
<circle cx="224.6" cy="121" r="2.35" fill="#FF3399" class="c"/>
<circle cx="233.3" cy="102.9" r="2.35" fill="#FF9999" class="c"/>
<circle cx="245.9" cy="150.6" r="2.35" fill="#FF6699" class="c"/>
<circle cx="247.3" cy="151" r="2.35" fill="#FF3399" class="c"/>
<circle cx="249.6" cy="150.5" r="2.35" fill="#FFFF3C" class="c"/>
<circle cx="269" cy="182.5" r="2.35" fill="#FF3399" class="c"/>
<circle cx="252.6" cy="178.3" r="2.35" fill="#FF6699" class="c"/>
<circle cx="219.5" cy="118.8" r="2.35" fill="#FF3399" class="c"/>
<circle cx="260.1" cy="147.8" r="2.35" fill="#FF0066" class="c"/>
<circle cx="253.6" cy="131.4" r="2.35" fill="#FFFF99" class="c"/>
<circle cx="214.3" cy="140.3" r="2.35" fill="#FFFF3C" class="c"/>
<circle cx="247.3" cy="115.9" r="2.35" fill="#FF6699" class="c"/>
<circle cx="218.5" cy="152.8" r="2.35" fill="#FFFF99" class="c"/>
<circle cx="240.9" cy="174.1" r="2.35" fill="#fff" class="c"/>
<circle cx="145.8" cy="224.4" r="2.35" fill="#99FFCC" class="c"/>
<circle cx="191.6" cy="195.6" r="2.35" fill="#FF9999" class="c"/>
<circle cx="209.3" cy="118.2" r="2.35" fill="#FFFF3C" class="c"/>
<circle cx="153.4" cy="179.9" r="2.35" fill="#fff" class="c"/>
<circle cx="215.9" cy="120.4" r="2.35" fill="#FF6699" class="c"/>
<circle cx="228.3" cy="120.3" r="2.35" fill="#FF9999" class="c"/>
<circle cx="239.5" cy="116.8" r="2.35" fill="#FF3399" class="c"/>
<circle cx="225.1" cy="148.7" r="2.35" fill="#fff" class="c"/>
<circle cx="227.3" cy="144.9" r="2.35" fill="#FFCC66" class="c"/>
<circle cx="230.5" cy="85.9" r="2.35" fill="#FF3399" class="c"/>
<circle cx="235.5" cy="169.3" r="2.35" fill="#FF0000" class="c"/>
<circle cx="239.6" cy="122" r="2.35" fill="#FF3399" class="c"/>
<circle cx="280.4" cy="173.7" r="2.35" fill="#FF3399" class="c"/>
<circle cx="247.4" cy="152.5" r="2.35" fill="#FFFF99" class="c"/>
<circle cx="211.5" cy="100.5" r="2.35" fill="#FFFF3C" class="c"/>
</g>
</svg>
</body></html>
